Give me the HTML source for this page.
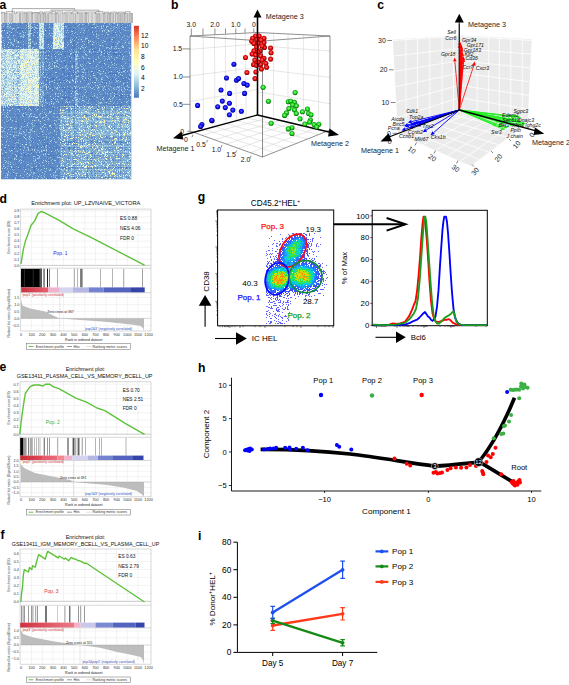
<!DOCTYPE html>
<html><head><meta charset="utf-8"><style>
html,body{margin:0;padding:0;background:#fff;}
svg{display:block;}
text{font-family:"Liberation Sans",sans-serif;}
</style></head><body>
<svg width="569" height="685" viewBox="0 0 569 685">
<rect width="569" height="685" fill="#fff"/>
<defs>
<radialGradient id="sb" cx="0.48" cy="0.45" r="0.55"><stop offset="0" stop-color="#6868ff"/><stop offset="0.6" stop-color="#0808f4"/><stop offset="1" stop-color="#000078"/></radialGradient>
<radialGradient id="sr" cx="0.48" cy="0.45" r="0.55"><stop offset="0" stop-color="#ff7070"/><stop offset="0.6" stop-color="#e80000"/><stop offset="1" stop-color="#700000"/></radialGradient>
<radialGradient id="sg" cx="0.48" cy="0.45" r="0.55"><stop offset="0" stop-color="#90ff90"/><stop offset="0.6" stop-color="#10d010"/><stop offset="1" stop-color="#005800"/></radialGradient>
</defs>
<text x="-0.40" y="8.60" font-size="12.2" text-anchor="start" fill="#000" font-weight="bold">a</text>
<defs><filter id="hb" x="0" y="0" width="1" height="1"><feGaussianBlur stdDeviation="0.45"/></filter><clipPath id="hc"><rect x="1" y="22.5" width="130.3" height="156.8"/></clipPath></defs>
<g clip-path="url(#hc)"><g filter="url(#hb)">
<rect x="-1.0" y="20.5" width="134.30" height="160.80" fill="rgb(91, 137, 197)"/>
<g shape-rendering="crispEdges" stroke-width="0.999" fill="none">
<path stroke="rgb(70, 116, 189)" d="M25.06 23h1M20.04 24h1m65.2 0h1m18 0h1m6.01 0h1M5.009 25h1m21 0h1m24.1 0h1m11 0h1m37.1 0h1m25.1 0h1M18.04 26h1m14 0h1m3.01 0h1m9.02 0h1m21 0h2m3.01 0h2m4.01 0h1m7.02 0h1m2 0h3.01m1 0h1m25.1 0h1M44.1 26.99h1m60.1 0h1m10 0h1m4.01 0h1m5.01 0h1M97.22 27.99h1m7.02 0h1m14 0h1M2.002 29.99h6.01m1 0h1m3.01 0h1m3.01 0h7.02m3.01 0h1m3.01 0h2m2 0h4.01m7.02 0h5.01m13 0h1m1 0h1m2 0h2m2 0h2m11 0h2m3.01 0h2m2 0h1m1 0h1m4.01 0h1m9.02 0h1m2 0h1m4.01 0h1M13.03 30.99h1m3.01 0h1M5.009 31.99h1m13 0h1m12 0h1m16 0h1m18 0h1m21 0h2m2 0h1m25.1 0h1M18.04 32.99h1m12 0h1m13 0h1m45.1 0h1m5.01 0h1M4.007 33.99h1m7.02 0h1m4.01 0h1m16 0h1m33.1 0h1m1 0h1m2 0h1m18 0h1m1 0h2m17 0h2m1 0h1m12 0h1M7.014 34.98h1m3.01 0h1m23.1 0h1m9.02 0h1m1 0h1m3.01 0h1m14 0h1m2 0h1m4.01 0h1m10 0h1m42.1 0h1M17.04 35.98h1m13 0h1m6.01 0h1m38.1 0h1m2 0h1m9.02 0h1m12 0h1m2 0h1m5.01 0h1m5.01 0h1M27.06 36.98h1m41.1 0h1m35.1 0h1M36.08 37.98h1m81.2 0h1M18.04 38.98h1m47.1 0h1m1 0h2m20 0h1m22.1 0h1m1 0h1m14 0h1M17.04 39.98h1m1 0h1m1 0h1m12 0h1m9.02 0h1m2 0h2m1 0h1m13 0h1m3.01 0h1m4.01 0h2m1 0h1m17 0h1m2 0h1m11 0h1m3.01 0h1M18.04 40.98h1m8.02 0h1m19 0h1m2 0h1m1 0h1m34.1 0h1m21 0h1M19.04 41.98h1m28.1 0h1m15 0h1m22.1 0h1m9.02 0h1m8.02 0h1M47.11 42.97h1m25.1 0h2m12 0h1m2 0h1m14 0h1M5.009 43.97h1m32.1 0h1m34.1 0h1m13 0h1m9.02 0h1m15 0h1M6.012 44.97h1m67.2 0h1m38.1 0h1m6.01 0h1M8.016 45.97h1m6.01 0h1m4.01 0h1m3.01 0h1m6.01 0h3.01m10 0h1m7.02 0h1m11 0h1m3.01 0h1m4.01 0h1m3.01 0h1m9.02 0h1m10 0h1m5.01 0h1m7.02 0h2m7.02 0h1M11.02 46.97h1m12 0h1m40.1 0h1m19 0h1m5.01 0h1m16 0h2M18.04 47.97h1m54.1 0h2m16 0h1m2 0h1m26.1 0h1M13.03 48.97h1m13 0h1M46.1 49.96h1m1 0h1m25.1 0h1m19 0h1m2 0h1M41.09 50.96h1m2 0h2m3.01 0h3.01m1 0h1m2 0h1m3.01 0h1m1 0h2m1 0h2m1 0h1m4.01 0h1m5.01 0h2m4.01 0h1m1 0h1m3.01 0h2m1 0h2m7.02 0h1m2 0h1m1 0h1m1 0h1m1 0h5.01m1 0h1m1 0h1M73.17 51.96h1M65.15 52.96h1m19 0h1m17 0h1m6.01 0h1M47.11 53.96h1m1 0h1m2 0h2m6.01 0h1m3.01 0h1m4.01 0h1m3.01 0h2m6.01 0h1m2 0h1m7.02 0h4.01m1 0h1m1 0h1m5.01 0h2m1 0h1m4.01 0h2m1 0h1m1 0h1m1 0h1m3.01 0h1M44.1 54.96h2m1 0h1m2 0h1m4.01 0h1m6.01 0h1m1 0h2m2 0h2m3.01 0h2m15 0h2m13 0h2m6.01 0h4.01m3.01 0h1m4.01 0h1M47.11 55.96h1m6.01 0h1m5.01 0h1m13 0h1m22.1 0h1m7.02 0h1m10 0h1m4.01 0h1M65.15 56.96h1m8.02 0h1m19 0h1M48.11 57.95h1m21 0h1M69.16 58.95h1M53.12 59.95h2m8.02 0h1m6.01 0h1m3.01 0h1m4.01 0h1m7.02 0h1m6.01 0h1m2 0h1m14 0h2M39.09 60.95h1m5.01 0h1m23.1 0h1m14 0h1m2 0h1m3.01 0h2m1 0h1m13 0h2m8.02 0h1m1 0h2m5.01 0h1M64.15 62.95h1m3.01 0h1m5.01 0h1m5.01 0h1m3.01 0h2m16 0h1m10 0h1m2 0h1m1 0h1m1 0h1m8.02 0h1M53.12 63.95h1m6.01 0h1m4.01 0h1m7.02 0h2m34.1 0h1m3.01 0h1M47.11 64.95h1m5.01 0h1m3.01 0h1m6.01 0h2m2 0h1m1 0h1m2 0h2m12 0h1m2 0h2m7.02 0h2m2 0h1m17 0h1M39.09 65.94h1m7.02 0h1m25.1 0h1m20 0h1M114.3 66.94h1M74.17 67.94h1M41.09 68.94h1m38.1 0h1m19 0h1m3.01 0h1M53.12 69.94h1m9.02 0h2m4.01 0h1m29.1 0h1m5.01 0h1m3.01 0h1m11 0h1M62.14 70.94h3.01m3.01 0h1m1 0h1m3.01 0h1m11 0h2m4.01 0h2m1 0h1m1 0h1m11 0h1m1 0h1m4.01 0h1m4.01 0h1m4.01 0h1M39.09 71.94h1m4.01 0h1m2 0h1m10 0h1m28.1 0h1m9.02 0h1m7.02 0h2m11 0h1m6.01 0h1M62.14 72.94h1m6.01 0h1m4.01 0h1m17 0h1M41.09 73.93h1m2 0h2m1 0h1m4.01 0h1m3.01 0h1m1 0h1m2 0h1m2 0h1m3.01 0h1m3.01 0h3.01m3.01 0h1m2 0h2m4.01 0h1m3.01 0h2m4.01 0h1m11 0h2m1 0h6.01m4.01 0h1m4.01 0h1M44.1 74.93h1m3.01 0h1m1 0h1m13 0h1m2 0h3.01m3.01 0h1m3.01 0h1m27.1 0h1m6.01 0h1M47.11 75.93h1m18 0h1m7.02 0h1m16 0h1m5.01 0h1m16 0h1M41.09 76.93h1m18 0h1m1 0h1m6.01 0h1m4.01 0h1m22.1 0h1m22.1 0h1M60.14 77.93h1m4.01 0h1m8.02 0h1m14 0h1m31.1 0h1m7.02 0h1M47.11 78.93h1m4.01 0h3.01m11 0h1m1 0h2m11 0h1m5.01 0h1m18 0h2m4.01 0h1m1 0h1m10 0h1M42.09 79.93h1m2 0h1m1 0h1m1 0h2m1 0h2m9.02 0h2m3.01 0h1m4.01 0h1m11 0h1m1 0h1m3.01 0h1m1 0h2m13 0h2m2 0h1m3.01 0h1m1 0h1m3.01 0h3.01m2 0h1M56.13 80.93h1m17 0h1m53.1 0h1M44.1 81.92h1m2 0h2m4.01 0h2m2 0h1m1 0h2m1 0h1m1 0h2m1 0h1m6.01 0h1m7.02 0h1m3.01 0h1m4.01 0h1m2 0h2m7.02 0h3.01m2 0h1m1 0h1m2 0h1m7.02 0h1m1 0h3.01M52.12 82.92h1M47.11 83.92h1m4.01 0h1m38.1 0h2m8.02 0h1m3.01 0h1M44.1 84.92h1m3.01 0h1m19 0h1m5.01 0h1m15 0h1m13 0h1m20 0h1M51.12 85.92h2m8.02 0h1m32.1 0h1m16 0h1m1 0h1m2 0h1m3.01 0h1M47.11 86.92h1m5.01 0h1m37.1 0h1m38.1 0h1M41.09 88.92h1m2 0h1m2 0h2m3.01 0h2m8.02 0h2m1 0h1m2 0h2m3.01 0h2m3.01 0h1m17 0h1m4.01 0h1m4.01 0h1m19 0h1m2 0h1M47.11 89.91h1m5.01 0h1m10 0h1m5.01 0h1m2 0h2M51.12 90.91h1m12 0h1m3.01 0h1m11 0h1m19 0h1m12 0h1m2 0h1m3.01 0h1M120.3 91.91h1M51.12 92.91h1m1 0h1m6.01 0h1m5.01 0h1m1 0h2m3.01 0h1m12 0h1m5.01 0h1m1 0h1m8.02 0h1m5.01 0h1m5.01 0h2m10 0h1M87.2 94.91h1M47.11 95.91h1m16 0h1m9.02 0h1m4.01 0h1m23.1 0h1m2 0h1m8.02 0h3.01m2 0h3.01m5.01 0h1M68.15 96.91h1M44.1 97.9h1m2 0h1m8.02 0h1m5.01 0h5.01m1 0h2m3.01 0h1m16 0h2m2 0h1m19 0h1m5.01 0h2m4.01 0h1m1 0h1M44.1 98.9h1m7.02 0h1m11 0h1m4.01 0h1m22.1 0h1m36.1 0h1M97.22 99.9h1M44.1 100.9h1m1 0h2m1 0h1m3.01 0h2m13 0h2m4.01 0h1m12 0h1m3.01 0h2m1 0h1m4.01 0h1m6.01 0h2m5.01 0h1m2 0h1m6.01 0h1m3.01 0h1M62.14 102.9h1M74.17 103.9h1m22.1 0h1M47.11 104.9h1m18 0h1m2 0h1m3.01 0h2m12 0h1m1 0h1m13 0h1m2 0h1m6.01 0h1m4.01 0h1m1 0h1m8.02 0h1M43.1 105.9h1m3.01 0h1m3.01 0h1m6.01 0h1m6.01 0h1m2 0h1m4.01 0h2m16 0h2m12 0h1m6.01 0h1m1 0h1m5.01 0h1M4.007 106.9h1m13 0h2m11 0h1m17 0h1m1 0h1M6.012 107.9h1m4.01 0h1m6.01 0h2m10 0h1m2 0h1m4.01 0h1m2 0h1m5.01 0h1m5.01 0h1m5.01 0h1m4.01 0h1m9.02 0h1m2 0h1m19 0h1m7.02 0h1m20 0h1M4.007 108.9h1m15 0h1m6.01 0h1m3.01 0h1m5.01 0h1m15 0h1M33.07 109.9h1m19 0h1m20 0h1m19 0h2m9.02 0h1M34.08 110.9h1M18.04 111.9h1m2 0h1m3.01 0h1m17 0h1m4.01 0h1m3.01 0h1M6.012 114.9h1m17 0h1m12 0h1M3.005 115.9h1m5.01 0h1m3.01 0h1m3.01 0h2m5.01 0h1m8.02 0h1m7.02 0h1m2 0h1M9.018 118.9h1m2 0h1m1 0h1m3.01 0h1m12 0h1m6.01 0h1m1 0h1m3.01 0h1m2 0h1m2 0h1M17.04 121.9h1m5.01 0h1M5.009 122.9h1m2 0h1m4.01 0h1m10 0h2m24.1 0h1M3.005 123.9h1m14 0h1m17 0h1M18.04 124.9h1m17 0h2m1 0h1m3.01 0h1m5.01 0h1M24.05 125.9h1m19 0h1M18.04 126.9h1m19 0h1m8.02 0h1m4.01 0h1M7.014 128.9h2m9.02 0h1m4.01 0h1m2 0h1m6.01 0h1m14 0h1m65.2 0h1M17.04 129.9h1M5.009 130.9h1m3.01 0h1m3.01 0h1m14 0h1M1 133.9h1m11 0h1m24.1 0h1m2 0h1M39.09 134.9h1m1 0h1M38.09 135.9h1m5.01 0h1m3.01 0h1m4.01 0h1M15.03 136.9h1m90.2 0h1M20.04 137.9h1m4.01 0h1m11 0h2M1 138.9h1m1 0h2m6.01 0h1m5.01 0h1m9.02 0h1m3.01 0h1m2 0h1m4.01 0h1m2 0h1m2 0h1m4.01 0h1M10.02 139.9h1m2 0h1m10 0h1m16 0h1m5.01 0h1M53.12 140.8h1M3.005 141.8h1m11 0h1m1 0h1m14 0h1m11 0h1m23.1 0h1m4.01 0h2m16 0h1m37.1 0h1M5.009 142.8h1m13 0h1m12 0h1m4.01 0h1m14 0h1m1 0h1m6.01 0h2m6.01 0h2m3.01 0h1m1 0h1m23.1 0h1m11 0h1m3.01 0h1m4.01 0h1m3.01 0h1M22.05 143.8h1m21 0h1m2 0h1M14.03 144.8h1m3.01 0h1m28.1 0h1m5.01 0h1m20 0h1m7.02 0h1M18.04 145.8h1m24.1 0h2m5.01 0h1M4.007 146.8h1m1 0h1m11 0h1m10 0h1m7.02 0h1m3.01 0h1m2 0h1M1 147.8h1m7.02 0h1m1 0h4.01m2 0h1m1 0h3.01m8.02 0h2m1 0h1m2 0h2m1 0h1m4.01 0h1m2 0h1m2 0h1m2 0h1m2 0h1m12 0h1m4.01 0h1m16 0h1m28.1 0h1M6.012 148.8h1m22.1 0h1m38.1 0h2M4.007 149.8h2m4.01 0h1m1 0h1m20 0h1m17 0h1m1 0h1m30.1 0h1m24.1 0h1M13.03 150.8h1M31.07 151.8h1m98.2 0h1M29.06 152.8h1m14 0h2m1 0h1m3.01 0h1M15.03 153.8h2m16 0h1m4.01 0h1m30.1 0h1m21 0h1M5.009 154.8h1m12 0h1m5.01 0h1m6.01 0h1m1 0h1m4.01 0h1M1 155.8h1m3.01 0h1m6.01 0h2m4.01 0h1m5.01 0h3.01m1 0h1m5.01 0h1m1 0h1m10 0h2m1 0h2m1 0h1M3.005 156.8h1m14 0h1M13.03 157.8h1m20 0h1m18 0h1m33.1 0h1M20.04 158.8h1m11 0h1m14 0h1m26.1 0h1M5.009 159.8h1m5.01 0h1m11 0h1M17.04 160.8h2m18 0h1m4.01 0h1m5.01 0h2m2 0h1M5.009 161.8h1m16 0h1M16.03 162.8h1M27.06 163.8h1m19 0h1m11 0h1M1 164.8h1m16 0h1M39.09 165.8h1m33.1 0h1M24.05 166.8h1m12 0h1M10.02 167.8h1m2 0h1m6.01 0h1m6.01 0h1m1 0h1m3.01 0h1m2 0h1m1 0h1m11 0h1m1 0h1m10 0h1m1 0h1m6.01 0h1m9.02 0h1m35.1 0h1m2 0h1m4.01 0h1M3.005 168.8h1m9.02 0h2m3.01 0h2m4.01 0h1m8.02 0h3.01m5.01 0h1m11 0h1m11 0h1m25.1 0h1m5.01 0h1m27.1 0h1M34.08 169.8h1M34.08 170.8h1m56.1 0h1M6.012 171.8h1m6.01 0h1m20 0h1m2 0h1m15 0h1m33.1 0h1m11 0h1M44.1 172.8h1M13.03 173.8h1M4.007 174.8h2m7.02 0h1m4.01 0h1m8.02 0h1m7.02 0h1m1 0h2m4.01 0h1M17.04 175.8h1M23.05 176.8h1M17.04 177.8h2m12 0h1m4.01 0h1m10 0h1m2 0h1m5.01 0h1m1 0h1m3.01 0h1m1 0h1m9.02 0h1m30.1 0h1M5.009 178.8h1m6.01 0h1m5.01 0h1m3.01 0h1m6.01 0h1m9.02 0h1m7.02 0h2m1 0h1m2 0h1"/>
<path stroke="rgb(119, 165, 208)" d="M16.03 23h1m12 0h2m22.1 0h1m17 0h1m9.02 0h1m17 0h1m17 0h1m6.01 0h2m1 0h1M2.002 24h1m1 0h1m24.1 0h1m53.1 0h1m4.01 0h1m3.01 0h1m3.01 0h1m14 0h1m7.02 0h1M1 25h1m2 0h1m12 0h1m27.1 0h1m42.1 0h1m12 0h1M1 26h1m47.1 0h1m11 0h1m46.1 0h1m2 0h1M10.02 26.99h1m29.1 0h1m19 0h1m11 0h1m21 0h1m1 0h1m1 0h1m20 0h1m2 0h1M7.014 27.99h1m9.02 0h1m10 0h1m4.01 0h1m2 0h1m29.1 0h1m11 0h1m5.01 0h1m6.01 0h1m23.1 0h1m2 0h1m8.02 0h1M7.014 28.99h6.01m1 0h1m1 0h1m4.01 0h1m1 0h1m1 0h1m9.02 0h1m9.02 0h1m2 0h1m1 0h3.01m13 0h1m8.02 0h1m3.01 0h1m2 0h2m1 0h1m7.02 0h1m1 0h2m1 0h1m3.01 0h1m8.02 0h1m2 0h1m2 0h1m1 0h1m2 0h1M1 29.99h1m14 0h1m11 0h1m15 0h1m7.02 0h1m50.1 0h1m3.01 0h1m13 0h1M6.012 30.99h3.01m6.01 0h1m6.01 0h1m3.01 0h1m8.02 0h1m10 0h1m18 0h1m5.01 0h1m6.01 0h1m2 0h1m1 0h1m4.01 0h1m7.02 0h1m2 0h1m7.02 0h1m2 0h2m4.01 0h1m2 0h1m4.01 0h1m2 0h2m1 0h1M95.22 31.99h2m7.02 0h1m6.01 0h1m7.02 0h1m10 0h1M30.07 32.99h1m80.2 0h1M5.009 33.99h1m27.1 0h1m49.1 0h1m37.1 0h1M46.1 34.98h1m1 0h1m22.1 0h1M6.012 35.98h1m2 0h1m5.01 0h1m5.01 0h1m1 0h1m18 0h1m8.02 0h1m21 0h1m31.1 0h1m10 0h1M8.016 36.98h1m4.01 0h1m11 0h1m4.01 0h1m15 0h1m17 0h1m14 0h1m2 0h1m4.01 0h1m16 0h1m19 0h1M3.005 37.98h1m25.1 0h2m40.1 0h1m10 0h1m2 0h1m10 0h1m10 0h1m2 0h1m6.01 0h1m1 0h1m8.02 0h1M13.03 38.98h1m2 0h1m10 0h1m1 0h2m39.1 0h1m26.1 0h1m8.02 0h1m18 0h1M63.14 39.98h1m6.01 0h1m4.01 0h1m4.01 0h1M10.02 40.98h1m15 0h1m3.01 0h1m59.1 0h1m10 0h1m22.1 0h2M28.06 41.98h1m66.2 0h1m23.1 0h1M3.005 42.97h1m29.1 0h1m2 0h1m15 0h1m25.1 0h1m17 0h1m1 0h1m13 0h1m2 0h1m1 0h1m1 0h1m8.02 0h1M26.06 43.97h1m2 0h1m4.01 0h2m24.1 0h1m22.1 0h1m4.01 0h1m7.02 0h1m9.02 0h1m15 0h1m1 0h1m5.01 0h1M28.06 44.97h3.01m10 0h1m51.1 0h1m4.01 0h1m17 0h2M39.09 45.97h1m1 0h1m36.1 0h1m47.1 0h1M23.05 46.97h1m26.1 0h1m26.1 0h1m25.1 0h1m8.02 0h1m9.02 0h1M30.07 47.97h1m1 0h1m14 0h1m30.1 0h1m16 0h1m19 0h1m12 0h2M26.06 48.97h1m17 0h1m7.02 0h1m23.1 0h1m1 0h1m4.01 0h1m9.02 0h1m25.1 0h2M42.09 49.96h2m8.02 0h1m22.1 0h2m3.01 0h1m3.01 0h1m3.01 0h1m21 0h1m4.01 0h1M18.04 50.96h1m14 0h1m12 0h1m29.1 0h1m44.1 0h1m6.01 0h1M17.04 51.96h1m21 0h4.01m3.01 0h1m8.02 0h1m1 0h2m6.01 0h1m1 0h1m2 0h3.01m2 0h1m1 0h2m4.01 0h1m1 0h2m3.01 0h1m4.01 0h1m2 0h2m7.02 0h1m9.02 0h1m7.02 0h2m2 0h1M4.007 52.96h2m10 0h1m22.1 0h1m1 0h2m13 0h2m17 0h1m7.02 0h1m6.01 0h1m26.1 0h1m6.01 0h1M15.03 53.96h1m23.1 0h2m2 0h1m7.02 0h1m3.01 0h1m3.01 0h1m15 0h1M13.03 54.96h1m5.01 0h1m20 0h1m10 0h1m24.1 0h1m20 0h1m11 0h1m20 0h1M12.03 55.96h1m29.1 0h2m24.1 0h1m7.02 0h1m10 0h1m29.1 0h1m7.02 0h1M39.09 56.96h2m1 0h2m1 0h1m21 0h1m7.02 0h1m2 0h1m4.01 0h1m9.02 0h1m4.01 0h1m4.01 0h1m21 0h1m1 0h1M2.002 57.95h1m15 0h1m20 0h1m1 0h2m17 0h1m14 0h2m34.1 0h1m5.01 0h1m4.01 0h1m6.01 0h1M42.09 58.95h1m14 0h1m1 0h1m11 0h2m5.01 0h1m2 0h1m1 0h4.01m6.01 0h1m4.01 0h2m2 0h1m2 0h1m2 0h2m2 0h1m1 0h1m2 0h1m4.01 0h3.01m4.01 0h1M3.005 59.95h1m2 0h1m6.01 0h1m26.1 0h1m1 0h2m8.02 0h1m24.1 0h1m27.1 0h1m20 0h1M29.06 60.95h1m11 0h2m20 0h1m11 0h2m2 0h1M41.09 61.95h3.01m12 0h1m19 0h2m9.02 0h1m36.1 0h1M17.04 62.95h1m21 0h1m3.01 0h1m3.01 0h1m19 0h1m8.02 0h2m5.01 0h1m14 0h1m27.1 0h1M1 63.95h1m40.1 0h1m7.02 0h1m35.1 0h1m42.1 0h1M12.03 64.95h1m4.01 0h2m20 0h2m1 0h1m16 0h1m15 0h1m1 0h1m30.1 0h1m20 0h1M41.09 65.94h3.01m2 0h1m2 0h1m6.01 0h1m18 0h3.01m5.01 0h1m1 0h1m5.01 0h1m6.01 0h1m12 0h1m11 0h1M46.1 66.94h1m10 0h1m18 0h1m5.01 0h1M39.09 67.94h1m2 0h1m11 0h2m1 0h1m7.02 0h2m8.02 0h2m6.01 0h1m6.01 0h1m2 0h1m1 0h1m27.1 0h1m4.01 0h1M12.03 68.94h1m27.1 0h1m1 0h1m2 0h1m4.01 0h1m13 0h1m10 0h1m1 0h2m7.02 0h1m5.01 0h1m5.01 0h2m2 0h1m12 0h1m3.01 0h2m2 0h2M2.002 69.94h2m1 0h1m37.1 0h1m2 0h1m12 0h1m15 0h1m6.01 0h1m13 0h1m17 0h1m1 0h1M9.018 70.94h1m4.01 0h1m24.1 0h2m2 0h1m1 0h1m60.1 0h1M3.005 71.94h1m9.02 0h1m28.1 0h2m31.1 0h3.01m4.01 0h1m5.01 0h1m20 0h1M1 72.94h1m39.1 0h1m3.01 0h1m1 0h1m28.1 0h1m1 0h1m9.02 0h1m9.02 0h1m6.01 0h1m16 0h1m2 0h1m4.01 0h1M14.03 73.93h2m23.1 0h2m18 0h1m2 0h1m12 0h2M14.03 74.93h1m25.1 0h1m1 0h1m4.01 0h1m27.1 0h1m13 0h1M3.005 75.93h2m13 0h1m20 0h4.01m12 0h1m20 0h1m4.01 0h1m6.01 0h1m23.1 0h1M6.012 76.93h1m35.1 0h2m13 0h1m17 0h1m31.1 0h1m1 0h1M5.009 77.93h1m34.1 0h2m1 0h1m31.1 0h2m4.01 0h1M17.04 78.93h1m23.1 0h1m33.1 0h1m21 0h1M13.03 79.93h1m25.1 0h1m1 0h1m12 0h1m10 0h2m9.02 0h1m5.01 0h1m27.1 0h1M39.09 80.93h1m1 0h1m15 0h1m5.01 0h2m10 0h2m13 0h1m7.02 0h1m5.01 0h1M17.04 81.92h2m21 0h1m1 0h2m24.1 0h1M13.03 82.92h1m25.1 0h5.01m9.02 0h1m9.02 0h1m6.01 0h1m9.02 0h1m9.02 0h1m7.02 0h2m4.01 0h1m1 0h1m3.01 0h2m3.01 0h1m1 0h1m1 0h1m3.01 0h3.01M16.03 83.92h1m5.01 0h1m15 0h1m3.01 0h1m21 0h1m10 0h2m13 0h1M5.009 84.92h1m33.1 0h2m2 0h1m44.1 0h1m2 0h1M41.09 85.92h1m1 0h1m9.02 0h1m6.01 0h1m15 0h1m2 0h1M4.007 86.92h1m35.1 0h1m2 0h1m1 0h1m8.02 0h1m15 0h1m4.01 0h1m2 0h1m22.1 0h1m24.1 0h1M41.09 87.92h3.01m4.01 0h1m5.01 0h2m5.01 0h1m9.02 0h2m3.01 0h2m1 0h3.01m1 0h3.01m2 0h1m7.02 0h1m2 0h1m3.01 0h2m6.01 0h1m1 0h2m1 0h2m1 0h1m3.01 0h2M17.04 88.92h1m15 0h1m5.01 0h2m1 0h1m11 0h1m43.1 0h1m17 0h1m2 0h1M39.09 89.91h1m2 0h1m19 0h1m5.01 0h1m8.02 0h1m5.01 0h2m34.1 0h1m4.01 0h1M1 90.91h1m7.02 0h1m8.02 0h1m20 0h1m2 0h2m3.01 0h1m13 0h1m9.02 0h1m39.1 0h1m7.02 0h1m10 0h1M40.09 91.91h1m2 0h1m23.1 0h1m9.02 0h1m22.1 0h1m7.02 0h1m10 0h1m3.01 0h1M1 92.91h1m11 0h1m26.1 0h1m9.02 0h1m3.01 0h1m20 0h2m41.1 0h1M41.09 93.91h1m4.01 0h1m1 0h1m8.02 0h1m8.02 0h1m12 0h1m22.1 0h1m2 0h1m11 0h1m5.01 0h1M3.005 94.91h1m14 0h1m20 0h1m3.01 0h2m7.02 0h1m10 0h1m12 0h1m3.01 0h1m2 0h1m16 0h2m5.01 0h1m3.01 0h1m3.01 0h1m1 0h1M17.04 95.91h1m22.1 0h3.01m17 0h1m6.01 0h1m8.02 0h1m33.1 0h1M40.09 96.91h1m1 0h1m27.1 0h2m3.01 0h1m1 0h1m2 0h1m2 0h1m2 0h1m9.02 0h1m2 0h1m10 0h2m12 0h1M40.09 97.9h1m1 0h2m32.1 0h2m18 0h1m19 0h1M17.04 98.9h1m21 0h1m1 0h2m30.1 0h5.01m11 0h1m7.02 0h1m30.1 0h1M42.09 99.9h2m16 0h1m14 0h1m3.01 0h2m5.01 0h1m2 0h1m8.02 0h1m17 0h1m3.01 0h1m5.01 0h1m3.01 0h1M4.007 100.9h1m7.02 0h1m27.1 0h1m1 0h1m22.1 0h1m30.1 0h1m5.01 0h1M39.09 101.9h1m3.01 0h1m2 0h1m5.01 0h1m4.01 0h1m13 0h1m7.02 0h1m1 0h1m6.01 0h1m18 0h1m3.01 0h1m2 0h1m2 0h1m6.01 0h1m1 0h1m3.01 0h1M40.09 102.9h1m2 0h1m2 0h1m7.02 0h1m15 0h1m5.01 0h2m1 0h1m3.01 0h1m2 0h1m2 0h1m7.02 0h1m1 0h1m4.01 0h2m8.02 0h1M39.09 103.9h2m2 0h1m2 0h1m7.02 0h1m20 0h1m1 0h1m3.01 0h1m8.02 0h1m8.02 0h1m2 0h1m6.01 0h2m16 0h1M6.012 104.9h1m33.1 0h1m36.1 0h1m34.1 0h1m13 0h1M11.02 105.9h1m1 0h1m26.1 0h2m28.1 0h1m1 0h1m2 0h1m27.1 0h1M39.09 106.9h1m21 0h1m1 0h1m1 0h1m16 0h2m2 0h1m4.01 0h1m1 0h4.01m3.01 0h4.01m1 0h2m5.01 0h1m1 0h2m1 0h1m3.01 0h1m2 0h1m1 0h1M60.14 107.9h1m6.01 0h1m8.02 0h1m5.01 0h3.01m1 0h1m2 0h2m1 0h2m1 0h2m1 0h2m1 0h1m4.01 0h3.01m1 0h2m2 0h1m4.01 0h1m3.01 0h1m1 0h1m2 0h1M38.09 108.9h1m18 0h1m2 0h4.01m1 0h1m3.01 0h1m3.01 0h2m1 0h2m3.01 0h3.01m8.02 0h1m2 0h3.01m1 0h3.01m3.01 0h2m1 0h3.01m3.01 0h4.01m2 0h1m1 0h1m2 0h1m3.01 0h1M7.014 109.9h1m6.01 0h1m4.01 0h1m2 0h1m19 0h1m1 0h1m17 0h5.01m6.01 0h1m2 0h7.02m2 0h2m1 0h1m1 0h2m1 0h1m2 0h1m2 0h2m3.01 0h1m1 0h1m1 0h1m1 0h1m4.01 0h4.01m1 0h1m1 0h8.02M28.06 110.9h1m25.1 0h1m4.01 0h1m7.02 0h1m2 0h4.01m2 0h1m1 0h1m1 0h1m4.01 0h3.01m1 0h1m1 0h2m3.01 0h4.01m1 0h3.01m1 0h3.01m1 0h1m4.01 0h1m1 0h1m2 0h1m3.01 0h1m1 0h2M9.018 111.9h1m5.01 0h1m34.1 0h1m6.01 0h1m2 0h4.01m1 0h1m6.01 0h3.01m3.01 0h3.01m1 0h2m3.01 0h1m1 0h2m2 0h3.01m4.01 0h3.01m1 0h2m3.01 0h1m3.01 0h1m1 0h1m2 0h2m2 0h1m4.01 0h1m1 0h1M28.06 112.9h1m37.1 0h2m1 0h2m2 0h2m3.01 0h1m1 0h1m9.02 0h1m1 0h1m1 0h2m1 0h1m3.01 0h2m2 0h1m3.01 0h1m3.01 0h1m1 0h1m1 0h1m2 0h1m2 0h1m6.01 0h1M6.012 113.9h3.01m5.01 0h1m3.01 0h1m2 0h1m3.01 0h1m4.01 0h1m11 0h1m3.01 0h1m9.02 0h2m4.01 0h1m1 0h1m1 0h1m6.01 0h2m15 0h2m5.01 0h1m7.02 0h1m3.01 0h1m6.01 0h1m4.01 0h1m3.01 0h1M15.03 114.9h1m6.01 0h1m4.01 0h2m11 0h1m19 0h6.01m4.01 0h1m4.01 0h1m2 0h1m1 0h1m1 0h2m3.01 0h2m2 0h1m3.01 0h1m1 0h3.01m1 0h1m1 0h1m1 0h1m1 0h3.01m2 0h1m2 0h7.02m3.01 0h2m1 0h1M8.016 115.9h1m30.1 0h1m20 0h2m1 0h1m2 0h3.01m1 0h1m1 0h2m1 0h1m1 0h5.01m3.01 0h1m2 0h1m1 0h1m2 0h1m1 0h1m3.01 0h2m3.01 0h1m2 0h1m2 0h2m1 0h1m2 0h2m1 0h1m2 0h2m4.01 0h2M9.018 116.9h1m4.01 0h1m7.02 0h1m14 0h1m2 0h1m16 0h1m2 0h1m5.01 0h1m2 0h3.01m3.01 0h4.01m1 0h3.01m2 0h1m1 0h1m3.01 0h2m1 0h1m8.02 0h1m1 0h2m1 0h1m3.01 0h1m1 0h2m3.01 0h1m1 0h2m2 0h2m3.01 0h1M4.007 117.9h2m3.01 0h2m1 0h1m1 0h1m1 0h1m3.01 0h1m6.01 0h3.01m10 0h1m1 0h1m1 0h1m1 0h2m6.01 0h1m1 0h1m1 0h1m14 0h1m17 0h1m20 0h2m4.01 0h1M45.1 118.9h1m14 0h2m1 0h1m2 0h1m2 0h1m1 0h2m2 0h2m2 0h3.01m1 0h2m2 0h1m1 0h1m4.01 0h2m1 0h2m1 0h5.01m1 0h4.01m1 0h1m1 0h3.01m5.01 0h1m2 0h1M6.012 119.9h1m9.02 0h1m7.02 0h1m3.01 0h1m19 0h2m10 0h6.01m2 0h2m3.01 0h2m1 0h2m1 0h2m4.01 0h1m1 0h1m2 0h3.01m1 0h1m1 0h1m1 0h3.01m4.01 0h3.01m1 0h2m1 0h1m2 0h2m2 0h4.01m4.01 0h2m1 0h1M2.002 120.9h1m32.1 0h2m11 0h1m6.01 0h2m5.01 0h3.01m1 0h1m2 0h1m3.01 0h2m17 0h1m1 0h1m2 0h1m4.01 0h1m16 0h4.01m6.01 0h1M7.014 121.9h1m4.01 0h1m26.1 0h1m11 0h1m8.02 0h1m1 0h1m1 0h1m3.01 0h1m1 0h1m2 0h2m2 0h1m2 0h1m12 0h1m12 0h1m6.01 0h1m4.01 0h1m1 0h2m4.01 0h2M28.06 122.9h1m33.1 0h1m1 0h3.01m1 0h2m3.01 0h1m4.01 0h1m1 0h1m2 0h1m1 0h1m1 0h4.01m2 0h1m3.01 0h2m3.01 0h1m2 0h1m1 0h8.02m1 0h1m1 0h2m7.02 0h1m1 0h2M4.007 123.9h1m17 0h1m6.01 0h1m5.01 0h1m7.02 0h1m14 0h1m1 0h1m1 0h2m1 0h2m1 0h1m3.01 0h1m1 0h1m8.02 0h1m1 0h1m3.01 0h1m1 0h1m1 0h5.01m4.01 0h2m4.01 0h2m6.01 0h1m3.01 0h3.01m1 0h3.01M57.13 124.9h1m2 0h1m1 0h1m1 0h2m3.01 0h4.01m1 0h1m1 0h3.01m1 0h2m1 0h3.01m1 0h1m5.01 0h1m1 0h4.01m2 0h1m1 0h1m4.01 0h2m1 0h7.02m1 0h2m3.01 0h1m1 0h1m2 0h2M4.007 125.9h1m21 0h1m28.1 0h2m5.01 0h1m3.01 0h1m1 0h2m3.01 0h3.01m1 0h2m1 0h1m3.01 0h1m1 0h1m2 0h1m4.01 0h1m2 0h1m2 0h1m4.01 0h1m2 0h1m2 0h2m1 0h1m1 0h1m3.01 0h2M60.14 126.9h1m1 0h1m2 0h2m1 0h2m2 0h1m4.01 0h1m1 0h1m4.01 0h2m7.02 0h3.01m1 0h1m1 0h1m2 0h2m3.01 0h1m2 0h1m1 0h1m1 0h2m3.01 0h2m8.02 0h2M5.009 127.9h1m1 0h1m1 0h1m2 0h1m2 0h2m4.01 0h1m1 0h1m2 0h1m1 0h1m11 0h1m1 0h1m3.01 0h1m8.02 0h3.01m2 0h1m3.01 0h3.01m7.02 0h1m1 0h1m5.01 0h1m8.02 0h1m1 0h1m3.01 0h2m1 0h2m5.01 0h1m4.01 0h3.01m1 0h1m3.01 0h1m7.02 0h1m1 0h1M19.04 128.9h1m21 0h1m18 0h1m1 0h1m1 0h1m1 0h2m5.01 0h1m2 0h2m2 0h1m1 0h3.01m1 0h1m3.01 0h1m2 0h1m1 0h1m1 0h1m1 0h1m1 0h2m1 0h1m1 0h4.01m2 0h1m2 0h6.01m3.01 0h2m1 0h1M14.03 129.9h2m13 0h1m33.1 0h1m5.01 0h2m2 0h1m2 0h3.01m3.01 0h1m1 0h2m1 0h1m3.01 0h1m3.01 0h1m1 0h2m3.01 0h1m4.01 0h1m1 0h2m1 0h1m1 0h1m3.01 0h3.01m1 0h1m2 0h2M19.04 130.9h1m6.01 0h1m10 0h1m22.1 0h1m8.02 0h1m13 0h1m5.01 0h1m9.02 0h1m2 0h1m10 0h1m3.01 0h2m1 0h1m7.02 0h1M3.005 131.9h1m5.01 0h2m1 0h1m1 0h1m1 0h1m4.01 0h1m4.01 0h1m14 0h1m4.01 0h1m9.02 0h2m2 0h2m1 0h1m2 0h3.01m2 0h1m3.01 0h2m1 0h3.01m2 0h1m1 0h1m1 0h1m4.01 0h1m1 0h1m1 0h2m1 0h1m2 0h1m2 0h2m2 0h2m1 0h3.01m3.01 0h5.01m1 0h1m1 0h1m1 0h2M2.002 132.9h1m2 0h1m6.01 0h1m1 0h3.01m19 0h1m5.01 0h2m12 0h1m3.01 0h1m1 0h1m1 0h1m2 0h1m1 0h1m5.01 0h1m6.01 0h1m10 0h1m3.01 0h1m2 0h1m3.01 0h2m3.01 0h1m3.01 0h1m1 0h1m4.01 0h2m2 0h1m1 0h1M18.04 133.9h1m4.01 0h1m10 0h1m13 0h2m10 0h1m2 0h1m6.01 0h1m2 0h3.01m4.01 0h2m1 0h2m7.02 0h1m1 0h1m5.01 0h1m6.01 0h3.01m7.02 0h2m2 0h2m3.01 0h1m1 0h1M9.018 134.9h1m1 0h1m2 0h1m6.01 0h1m2 0h3.01m2 0h2m5.01 0h1m6.01 0h1m1 0h2m1 0h1m15 0h1m1 0h1m1 0h1m4.01 0h3.01m11 0h2m5.01 0h1m12 0h1m6.01 0h1m3.01 0h1M4.007 135.9h1m1 0h1m7.02 0h2m14 0h1m6.01 0h1m25.1 0h3.01m4.01 0h1m5.01 0h2m3.01 0h1m6.01 0h2m5.01 0h3.01m1 0h1m1 0h1m1 0h4.01m1 0h3.01m2 0h1m4.01 0h1m2 0h1m3.01 0h2M14.03 136.9h1m28.1 0h2m18 0h1m2 0h1m2 0h1m3.01 0h1m1 0h2m1 0h6.01m1 0h1m1 0h1m1 0h1m1 0h3.01m2 0h1m1 0h2m1 0h1m2 0h1m2 0h3.01m4.01 0h3.01m1 0h1m2 0h2m1 0h5.01m1 0h1M6.012 137.9h1m20 0h1m8.02 0h1m22.1 0h1m2 0h1m1 0h3.01m1 0h1m2 0h2m4.01 0h1m1 0h4.01m2 0h3.01m2 0h1m3.01 0h1m2 0h4.01m2 0h1m1 0h1m2 0h3.01m1 0h1m1 0h1m1 0h4.01m3.01 0h1m1 0h1m3.01 0h2M24.05 138.9h1m27.1 0h1m10 0h2m1 0h1m1 0h2m4.01 0h5.01m1 0h1m2 0h4.01m1 0h1m1 0h1m1 0h1m3.01 0h3.01m2 0h4.01m1 0h1m1 0h1m1 0h3.01m4.01 0h1m2 0h1m1 0h1m1 0h2m1 0h4.01M7.014 139.9h1m3.01 0h1m37.1 0h1m15 0h2m1 0h1m1 0h3.01m4.01 0h1m1 0h1m2 0h1m4.01 0h2m1 0h1m1 0h2m1 0h1m1 0h9.02m2 0h6.01m6.01 0h1m2 0h2m2 0h1m1 0h2M26.06 140.8h1m33.1 0h1m1 0h1m3.01 0h1m1 0h3.01m1 0h2m2 0h2m1 0h2m8.02 0h1m1 0h1m1 0h1m1 0h2m3.01 0h1m1 0h5.01m2 0h1m1 0h1m1 0h2m3.01 0h1m2 0h1m1 0h1m5.01 0h2M1 141.8h1m7.02 0h1m31.1 0h1m7.02 0h1m7.02 0h1m6.01 0h1m2 0h1m1 0h1m2 0h1m4.01 0h1m1 0h1m4.01 0h1m1 0h1m1 0h3.01m2 0h1m1 0h2m3.01 0h1m7.02 0h1m2 0h1m2 0h1m2 0h1m1 0h1m2 0h3.01m1 0h2m2 0h1M6.012 142.8h1m33.1 0h1m10 0h1m13 0h1m9.02 0h1m2 0h2m1 0h1m3.01 0h1m1 0h3.01m1 0h1m6.01 0h1m5.01 0h1m5.01 0h2m5.01 0h1m6.01 0h1M18.04 143.8h1m1 0h1m8.02 0h1m10 0h1m19 0h2m2 0h1m1 0h1m3.01 0h2m1 0h1m1 0h1m3.01 0h2m5.01 0h3.01m1 0h1m1 0h1m1 0h1m1 0h1m1 0h4.01m1 0h1m1 0h9.02m1 0h1m2 0h1m4.01 0h4.01M6.012 144.8h1m34.1 0h1m16 0h4.01m1 0h1m1 0h1m3.01 0h2m9.02 0h2m2 0h1m5.01 0h2m1 0h1m2 0h1m2 0h2m2 0h6.01m1 0h2m2 0h1m1 0h1m1 0h2m2 0h1m1 0h1m1 0h1m1 0h3.01M29.06 145.8h1m29.1 0h1m3.01 0h2m2 0h1m3.01 0h5.01m1 0h1m1 0h1m11 0h2m2 0h1m7.02 0h1m4.01 0h1m3.01 0h2m2 0h1m5.01 0h1m1 0h5.01m1 0h1M23.05 146.8h1m30.1 0h1m5.01 0h3.01m1 0h3.01m2 0h1m3.01 0h2m1 0h1m13 0h2m7.02 0h1m1 0h1m7.02 0h1m1 0h2m1 0h2M15.03 147.8h1m2 0h1m24.1 0h1m17 0h1m2 0h4.01m4.01 0h1m2 0h2m2 0h1m2 0h2m2 0h1m1 0h2m3.01 0h1m1 0h2m1 0h3.01m2 0h2m1 0h2m3.01 0h4.01m2 0h1m8.02 0h2m2 0h1M9.018 148.8h1m18 0h1m2 0h1m3.01 0h1m16 0h1m7.02 0h1m4.01 0h3.01m2 0h3.01m1 0h1m1 0h2m1 0h2m1 0h4.01m1 0h2m2 0h1m2 0h1m2 0h1m1 0h2m3.01 0h2m2 0h1m1 0h1m1 0h4.01m2 0h4.01m2 0h2m1 0h1m2 0h1M44.1 149.8h1m15 0h2m1 0h1m1 0h2m3.01 0h2m3.01 0h2m3.01 0h4.01m1 0h2m2 0h2m2 0h1m1 0h2m13 0h2m1 0h7.02m4.01 0h1m2 0h3.01M1 150.8h1m2 0h1m11 0h1m8.02 0h2m3.01 0h1m1 0h1m24.1 0h1m1 0h10m5.01 0h1m1 0h1m3.01 0h1m3.01 0h1m3.01 0h1m2 0h2m1 0h2m5.01 0h1m1 0h4.01m1 0h2m2 0h2m2 0h1m3.01 0h1m5.01 0h1m1 0h3.01M15.03 151.8h1m19 0h1m3.01 0h1m2 0h1m3.01 0h1m7.02 0h1m5.01 0h1m1 0h2m2 0h1m1 0h3.01m6.01 0h1m3.01 0h1m3.01 0h1m1 0h1m3.01 0h1m1 0h3.01m1 0h1m1 0h1m9.02 0h1m1 0h3.01m2 0h1m1 0h1m1 0h1m1 0h1m5.01 0h1M25.06 152.8h1m20 0h1m9.02 0h1m3.01 0h1m1 0h1m3.01 0h3.01m3.01 0h2m3.01 0h1m3.01 0h1m4.01 0h2m3.01 0h1m1 0h2m1 0h1m2 0h2m3.01 0h1m3.01 0h1m4.01 0h1m2 0h1m2 0h4.01m1 0h1m3.01 0h1M27.06 153.8h2m27.1 0h1m3.01 0h1m3.01 0h2m1 0h2m9.02 0h1m1 0h2m2 0h1m3.01 0h2m4.01 0h1m2 0h1m3.01 0h1m6.01 0h1m2 0h2m1 0h2m2 0h1m2 0h3.01m1 0h1m1 0h3.01M30.07 154.8h1m18 0h1m10 0h1m1 0h2m3.01 0h1m1 0h2m2 0h4.01m4.01 0h1m4.01 0h2m3.01 0h2m1 0h1m2 0h1m4.01 0h2m5.01 0h1m4.01 0h1m3.01 0h1m1 0h2m3.01 0h1m1 0h1M11.02 155.8h1m28.1 0h1m2 0h1m14 0h1m6.01 0h6.01m3.01 0h2m2 0h3.01m1 0h1m2 0h5.01m3.01 0h1m1 0h2m2 0h4.01m5.01 0h5.01m1 0h1m1 0h2m2 0h3.01m1 0h3.01M45.1 156.8h2m10 0h1m3.01 0h3.01m1 0h3.01m1 0h2m1 0h1m3.01 0h2m2 0h1m2 0h2m2 0h3.01m2 0h1m2 0h1m1 0h1m4.01 0h2m1 0h1m2 0h2m1 0h5.01m3.01 0h3.01m1 0h3.01m1 0h1M3.005 157.8h1m16 0h2m39.1 0h3.01m1 0h3.01m1 0h2m1 0h2m1 0h6.01m1 0h1m2 0h2m5.01 0h1m2 0h4.01m3.01 0h4.01m1 0h2m2 0h3.01m2 0h2m1 0h1m1 0h1m1 0h1m1 0h4.01m1 0h1M35.08 158.8h1m3.01 0h1m6.01 0h1m13 0h1m2 0h5.01m2 0h1m1 0h1m4.01 0h1m2 0h1m3.01 0h1m1 0h1m1 0h1m4.01 0h5.01m1 0h6.01m2 0h1m1 0h1m1 0h4.01m5.01 0h3.01m3.01 0h4.01M60.14 159.8h3.01m1 0h3.01m1 0h1m1 0h1m6.01 0h1m2 0h1m1 0h1m4.01 0h1m4.01 0h1m6.01 0h1m4.01 0h2m2 0h2m4.01 0h2m2 0h4.01m1 0h2m5.01 0h1M60.14 160.8h1m2 0h3.01m1 0h1m2 0h1m1 0h1m3.01 0h1m1 0h1m1 0h1m1 0h1m1 0h1m2 0h3.01m2 0h1m6.01 0h5.01m3.01 0h4.01m1 0h1m1 0h1m1 0h2m1 0h1m1 0h6.01M59.13 161.8h2m3.01 0h1m1 0h3.01m3.01 0h2m3.01 0h1m1 0h1m1 0h1m2 0h2m2 0h1m1 0h1m3.01 0h1m2 0h1m2 0h1m2 0h1m2 0h2m1 0h2m2 0h3.01m1 0h2m2 0h1m4.01 0h1m1 0h1m1 0h1M1 162.8h1m5.01 0h1m4.01 0h1m15 0h1m14 0h1m7.02 0h1m3.01 0h1m5.01 0h1m1 0h1m1 0h2m1 0h2m1 0h2m1 0h3.01m1 0h1m2 0h1m1 0h1m5.01 0h1m1 0h1m2 0h3.01m1 0h1m8.02 0h3.01m1 0h3.01m1 0h4.01m2 0h2m3.01 0h1m2 0h1M7.014 163.8h1m7.02 0h1m10 0h1m19 0h1m10 0h1m4.01 0h2m1 0h1m3.01 0h1m6.01 0h2m6.01 0h1m1 0h1m6.01 0h2m2 0h4.01m1 0h1m1 0h3.01m1 0h1m1 0h2m2 0h2m5.01 0h1m4.01 0h5.01M60.14 164.8h1m1 0h4.01m3.01 0h1m1 0h1m3.01 0h1m3.01 0h1m6.01 0h2m1 0h1m4.01 0h2m1 0h1m4.01 0h1m2 0h2m3.01 0h1m1 0h2m4.01 0h1m1 0h1m1 0h1m2 0h1m1 0h1m1 0h1M4.007 165.8h1m3.01 0h1m17 0h1m3.01 0h1m5.01 0h1m17 0h1m5.01 0h1m1 0h1m2 0h2m2 0h2m4.01 0h4.01m2 0h2m2 0h1m2 0h3.01m1 0h2m2 0h1m2 0h3.01m2 0h3.01m3.01 0h2m1 0h3.01m3.01 0h1m1 0h3.01m1 0h2m1 0h1m1 0h1M7.014 166.8h2m1 0h1m5.01 0h1m10 0h1m2 0h1m4.01 0h1m8.02 0h1m11 0h1m5.01 0h1m1 0h4.01m6.01 0h1m6.01 0h1m7.02 0h1m3.01 0h2m2 0h2m2 0h1m7.02 0h1m3.01 0h1m1 0h1m1 0h1m2 0h1m2 0h1m2 0h1m1 0h1M12.03 167.8h1m1 0h1m8.02 0h1m46.1 0h1m5.01 0h1m1 0h4.01m6.01 0h3.01m3.01 0h1m1 0h1m1 0h2m1 0h3.01m7.02 0h2m4.01 0h1m4.01 0h1m1 0h2m2 0h1M28.06 168.8h1m32.1 0h1m5.01 0h1m4.01 0h2m2 0h1m1 0h1m1 0h7.02m3.01 0h1m1 0h2m1 0h2m1 0h1m1 0h2m1 0h1m1 0h1m1 0h1m1 0h3.01m3.01 0h3.01m3.01 0h1m1 0h1m6.01 0h1M7.014 169.8h1m2 0h1m3.01 0h1m3.01 0h1m4.01 0h1m2 0h1m1 0h1m1 0h1m15 0h1m1 0h1m7.02 0h1m5.01 0h1m2 0h1m3.01 0h2m3.01 0h1m12 0h2m5.01 0h1m14 0h1m4.01 0h1m1 0h1m6.01 0h1M37.08 170.8h1m13 0h1m4.01 0h1m4.01 0h1m2 0h2m4.01 0h1m1 0h1m1 0h1m1 0h4.01m1 0h1m2 0h1m4.01 0h1m3.01 0h1m3.01 0h3.01m2 0h2m1 0h2m1 0h2m2 0h3.01m1 0h1m1 0h1m1 0h1m2 0h2m1 0h1m2 0h1M44.1 171.8h1m15 0h4.01m4.01 0h2m1 0h3.01m1 0h2m1 0h3.01m4.01 0h2m4.01 0h2m3.01 0h3.01m2 0h3.01m1 0h1m4.01 0h2m1 0h4.01m4.01 0h1m1 0h6.01m1 0h1M1 172.8h1m12 0h1m45.1 0h4.01m1 0h4.01m2 0h4.01m1 0h1m3.01 0h1m3.01 0h1m1 0h1m3.01 0h1m1 0h1m2 0h1m1 0h1m2 0h1m4.01 0h2m3.01 0h2m1 0h4.01m1 0h1m2 0h2m1 0h1m1 0h1m3.01 0h1M3.005 173.8h1m3.01 0h1m2 0h1m4.01 0h1m1 0h1m4.01 0h1m13 0h1m17 0h1m5.01 0h3.01m2 0h2m2 0h1m1 0h1m7.02 0h1m1 0h1m1 0h2m4.01 0h1m8.02 0h3.01m1 0h1m3.01 0h3.01m1 0h1m4.01 0h1m1 0h2m2 0h2m1 0h1m2 0h1m2 0h1M1 174.8h1m6.01 0h1m19 0h2m30.1 0h1m1 0h1m2 0h1m2 0h1m5.01 0h2m1 0h1m2 0h1m5.01 0h1m2 0h4.01m1 0h1m7.02 0h2m2 0h1m1 0h2m8.02 0h3.01m1 0h1m1 0h2m1 0h1m1 0h1M9.018 175.8h1m14 0h1m10 0h1m1 0h1m5.01 0h1m13 0h1m1 0h1m3.01 0h2m2 0h2m1 0h3.01m1 0h3.01m3.01 0h2m1 0h3.01m2 0h1m1 0h2m6.01 0h3.01m3.01 0h1m4.01 0h1m1 0h2m1 0h1m1 0h3.01m3.01 0h1m1 0h1m1 0h1m1 0h1m1 0h1M6.012 176.8h1m12 0h1m20 0h1m13 0h2m4.01 0h1m1 0h1m1 0h3.01m2 0h1m4.01 0h1m1 0h1m1 0h2m4.01 0h1m1 0h1m3.01 0h1m1 0h1m4.01 0h1m2 0h2m3.01 0h1m2 0h2m2 0h2m1 0h1m2 0h1m3.01 0h1m1 0h1m2 0h2M61.14 177.8h1m1 0h1m5.01 0h3.01m3.01 0h1m3.01 0h1m5.01 0h1m6.01 0h1m2 0h2m1 0h2m4.01 0h1m2 0h1m2 0h1m3.01 0h1m2 0h2m2 0h2m2 0h1m1 0h1M49.11 178.8h1m7.02 0h1m2 0h2m3.01 0h1m1 0h1m1 0h2m1 0h1m4.01 0h1m1 0h1m1 0h2m1 0h2m2 0h2m1 0h3.01m3.01 0h1m1 0h2m3.01 0h2m2 0h1m2 0h2m1 0h2m2 0h5.01m1 0h1m2 0h4.01"/>
<path stroke="rgb(146, 192, 219)" d="M7.014 23h1m14 0h1m8.02 0h1m44.1 0h1m32.1 0h1m3.01 0h1M1 24h1m5.01 0h1m26.1 0h1m58.1 0h2m14 0h1m12 0h1M26.06 25h1m2 0h2m10 0h1m11 0h1m8.02 0h2m14 0h1m48.1 0h1M3.005 26h1m3.01 0h1m21 0h1m1 0h1m7.02 0h1m13 0h1m5.01 0h2m16 0h1m25.1 0h1m3.01 0h1m6.01 0h1M1 26.99h1m6.01 0h1m20 0h2m3.01 0h1m7.02 0h1m23.1 0h1M1 27.99h1m7.02 0h1m16 0h1m2 0h2m11 0h1m6.01 0h1m3.01 0h1m1 0h1m4.01 0h1m1 0h1m11 0h1m26.1 0h1m11 0h1m7.02 0h1M29.06 28.99h1m23.1 0h1m6.01 0h1m20 0h1m28.1 0h1M30.07 29.99h1m28.1 0h2m44.1 0h1m7.02 0h1m9.02 0h1M1 30.99h1m26.1 0h2m32.1 0h1m49.1 0h1M9.018 31.99h1m12 0h1m5.01 0h1m1 0h1m8.02 0h1m31.1 0h1m20 0h1m16 0h1M1 32.99h1m15 0h1m10 0h2m11 0h2m10 0h1m8.02 0h1m3.01 0h1m1 0h1m6.01 0h1m7.02 0h1m36.1 0h1M1 33.99h1m17 0h1m8.02 0h1m22.1 0h2m7.02 0h1m2 0h1m8.02 0h1m1 0h1m21 0h1M1 34.98h1m7.02 0h1m17 0h1m1 0h2m11 0h1m1 0h1m32.1 0h1m24.1 0h1m5.01 0h1m7.02 0h1M24.05 35.98h1m3.01 0h1m1 0h1m25.1 0h1m1 0h1m60.1 0h1m4.01 0h1M21.05 36.98h3.01m5.01 0h1m22.1 0h1m2 0h1m4.01 0h1m4.01 0h1m61.1 0h1m1 0h1M1 37.98h2m4.01 0h1m20 0h1m9.02 0h2m3.01 0h1m68.2 0h1m1 0h1M28.06 38.98h1m34.1 0h1m21 0h1m1 0h1M1 39.98h1m8.02 0h1m17 0h1m26.1 0h1m1 0h1m2 0h1m17 0h1m32.1 0h1m9.02 0h1m5.01 0h1M1 40.98h1m1 0h1m12 0h1m22.1 0h1m1 0h1m13 0h1m6.01 0h2m10 0h1m28.1 0h1M23.05 41.98h1m6.01 0h1m31.1 0h1m21 0h1m4.01 0h1m2 0h1m18 0h1m17 0h1M10.02 42.97h2m8.02 0h1m8.02 0h2m25.1 0h1m2 0h1m7.02 0h1m3.01 0h1M1 43.97h1m2 0h1m34.1 0h1m1 0h2m9.02 0h1m75.2 0h2M1 44.97h1m11 0h1m24.1 0h1m21 0h2M10.02 45.97h1m17 0h1m29.1 0h1m8.02 0h1m14 0h1m16 0h1M1 46.97h1m27.1 0h2m17 0h1m6.01 0h1m30.1 0h1m24.1 0h1m3.01 0h2m4.01 0h1m1 0h1M20.04 47.97h1m8.02 0h1m13 0h1m7.02 0h1m6.01 0h1m4.01 0h1m18 0h2m22.1 0h3.01M28.06 48.97h3.01m5.01 0h1m12 0h1m10 0h1m38.1 0h1m6.01 0h1m4.01 0h1M2.002 49.96h2m2 0h1m6.01 0h2m1 0h2m1 0h1m18 0h1m1 0h1m49.1 0h1m8.02 0h1M2.002 50.96h1m1 0h1m5.01 0h1m1 0h2m1 0h1m1 0h1m1 0h1m7.02 0h1m9.02 0h1m10 0h1m3.01 0h1m16 0h1m4.01 0h1m9.02 0h1m4.01 0h1m29.1 0h1M6.012 51.96h1m6.01 0h1m48.1 0h1m13 0h1m16 0h1M3.005 52.96h1m41.1 0h1m14 0h1m17 0h1m5.01 0h1m4.01 0h1m3.01 0h1m15 0h1m10 0h1M1 53.96h2m2 0h1m5.01 0h1m4.01 0h1m68.2 0h1m5.01 0h1M1 54.96h1m1 0h1m1 0h1m6.01 0h1m1 0h1m16 0h1m5.01 0h1m5.01 0h1m10 0h1m5.01 0h1m25.1 0h1m21 0h1m13 0h1M1 55.96h1m2 0h1m6.01 0h1m7.02 0h1m13 0h1m41.1 0h1m10 0h1m13 0h1m18 0h1M5.009 56.96h1m7.02 0h1m4.01 0h1m19 0h1m12 0h1m25.1 0h1m4.01 0h1m21 0h1m3.01 0h1M1 57.95h1m2 0h1m1 0h1m6.01 0h1m3.01 0h1m47.1 0h1m32.1 0h1m10 0h1M4.007 58.95h1m35.1 0h1m2 0h1m7.02 0h1m3.01 0h1m19 0h1m1 0h1m1 0h1M11.02 59.95h1m2 0h1m1 0h2m4.01 0h1m25.1 0h1m10 0h1m35.1 0h1m13 0h1M1 60.95h1m3.01 0h1m4.01 0h1m5.01 0h1m40.1 0h1m6.01 0h1m39.1 0h1m24.1 0h1M4.007 61.95h1m7.02 0h1m4.01 0h1m28.1 0h1m5.01 0h1m4.01 0h1m12 0h1m4.01 0h1m24.1 0h1M1 62.95h2m1 0h2m16 0h1m17 0h1m3.01 0h1m10 0h1m32.1 0h1m10 0h1M13.03 63.95h1m13 0h1m12 0h1m2 0h1m8.02 0h1m1 0h1m2 0h1m17 0h3.01m47.1 0h1M3.005 64.95h1m4.01 0h1m10 0h2m12 0h1m15 0h1m2 0h1m27.1 0h1m1 0h1m14 0h1m7.02 0h1m10 0h1M7.014 65.94h1m29.1 0h1m2 0h1m7.02 0h1m65.2 0h1m15 0h1M4.007 66.94h2m5.01 0h2m4.01 0h1m14 0h1m6.01 0h2m9.02 0h1m20 0h2m8.02 0h1m40.1 0h1m6.01 0h2M43.1 67.94h1m14 0h1m19 0h1m22.1 0h1m11 0h1m2 0h1M1 68.94h1m2 0h1m8.02 0h2m2 0h1m6.01 0h2m6.01 0h1m10 0h1m8.02 0h1m7.02 0h1m44.1 0h1M1 69.94h1m4.01 0h1m8.02 0h1m1 0h2m26.1 0h1m3.01 0h1m17 0h1m13 0h1M4.007 70.94h1m8.02 0h1m3.01 0h1m1 0h1m13 0h1m13 0h1m17 0h1m7.02 0h1m10 0h1m13 0h1m20 0h1M11.02 71.94h1m4.01 0h2m7.02 0h1m14 0h1m28.1 0h1m22.1 0h1m7.02 0h1m26.1 0h1m2 0h1M2.002 72.94h1m6.01 0h1m2 0h2m5.01 0h1m20 0h1m32.1 0h1m8.02 0h1m2 0h1m11 0h1m10 0h1m9.02 0h1m2 0h1M1 73.93h1m3.01 0h2m3.01 0h1m6.01 0h1m13 0h1m67.2 0h2m1 0h1m15 0h1M8.016 74.93h1m7.02 0h1m24.1 0h1m1 0h1m2 0h1m5.01 0h1m9.02 0h1m11 0h1m7.02 0h1m2 0h1m27.1 0h1M6.012 75.93h1m4.01 0h1m7.02 0h1m1 0h1m12 0h1m43.1 0h1m36.1 0h1m14 0h1M11.02 76.93h1m4.01 0h1m2 0h2m11 0h1m1 0h1m5.01 0h1m4.01 0h1m19 0h1m12 0h1m11 0h1m15 0h1m11 0h1M6.012 77.93h1m10 0h3.01m9.02 0h1m1 0h1m53.1 0h1m8.02 0h2m6.01 0h1m11 0h1m11 0h1M2.002 78.93h1m1 0h3.01m1 0h1m4.01 0h1m10 0h1m7.02 0h1m63.1 0h1m11 0h1m7.02 0h1m6.01 0h1m4.01 0h1M1 79.93h1m1 0h1m5.01 0h1m9.02 0h2m25.1 0h1m12 0h1m30.1 0h1m5.01 0h1m5.01 0h1m12 0h1M5.009 80.93h2m5.01 0h1m1 0h1m2 0h2m27.1 0h1m26.1 0h1m10 0h1m11 0h1m19 0h1m1 0h1M4.007 81.92h1m1 0h1m3.01 0h1m2 0h1m1 0h1m5.01 0h1m16 0h1m10 0h1m1 0h1m17 0h1m3.01 0h1m27.1 0h1m14 0h2M2.002 82.92h1m8.02 0h1m5.01 0h3.01M2.002 83.92h1m2 0h1m11 0h3.01m7.02 0h1m11 0h1m3.01 0h1m65.2 0h1M6.012 84.92h1m3.01 0h1m4.01 0h3.01m31.1 0h1m37.1 0h1m1 0h1m9.02 0h2m22.1 0h1M2.002 85.92h2m4.01 0h1m3.01 0h2m3.01 0h1m1 0h2m23.1 0h1m61.1 0h1m1 0h1m12 0h1M13.03 86.92h1m5.01 0h1m22.1 0h1m5.01 0h1m18 0h1m8.02 0h1m7.02 0h1m4.01 0h1m8.02 0h1m3.01 0h1m24.1 0h1M5.009 87.92h2m10 0h1m57.1 0h1m17 0h1m27.1 0h1m6.01 0h2M1 88.92h1m8.02 0h1m1 0h1m36.1 0h2m6.01 0h1m14 0h1m18 0h2m10 0h1m4.01 0h1M3.005 89.91h1m7.02 0h1m1 0h1m4.01 0h2m13 0h1m7.02 0h1m10 0h1m4.01 0h1m36.1 0h1m7.02 0h1m6.01 0h1m6.01 0h1m8.02 0h1M2.002 90.91h2m3.01 0h1m16 0h1m27.1 0h1m6.01 0h1m38.1 0h1m19 0h1m10 0h1M6.012 91.91h1m4.01 0h1m1 0h1m3.01 0h1m68.2 0h1m35.1 0h1m1 0h1M3.005 92.91h3.01m11 0h1m4.01 0h1m1 0h1m8.02 0h1m8.02 0h2m3.01 0h1m17 0h1m8.02 0h1m16 0h1m7.02 0h1m5.01 0h1m6.01 0h1M3.005 93.91h1m1 0h1m5.01 0h1m16 0h1m11 0h1m17 0h1m16 0h1m18 0h1m12 0h1M1 94.91h1m13 0h2m15 0h1m4.01 0h1m4.01 0h1m32.1 0h1m1 0h2m18 0h1m26.1 0h1m2 0h1M2.002 95.91h1m2 0h1m6.01 0h2m1 0h1m3.01 0h1m23.1 0h1m18 0h1m10 0h1M18.04 96.91h1m20 0h1m1 0h1m13 0h1m1 0h1m24.1 0h1m9.02 0h1m1 0h1m32.1 0h1M2.002 97.9h1m1 0h2m3.01 0h2m5.01 0h2m56.1 0h1m11 0h1M1 98.9h1m1 0h1m3.01 0h1m8.02 0h1m26.1 0h1m35.1 0h1m2 0h1m43.1 0h1M1 99.9h1m1 0h1m1 0h1m11 0h2m20 0h1m5.01 0h1m11 0h1m42.1 0h1m7.02 0h1M10.02 100.9h1m2 0h1m4.01 0h2m2 0h1m1 0h1m13 0h1m4.01 0h1m28.1 0h2m14 0h1m23.1 0h1m15 0h1M8.016 101.9h1m8.02 0h1m14 0h1m25.1 0h1m10 0h1m6.01 0h3.01m19 0h1M3.005 102.9h1m7.02 0h1m3.01 0h1m1 0h1m23.1 0h1m3.01 0h1m3.01 0h1m8.02 0h1m6.01 0h1m3.01 0h1m5.01 0h1M5.009 103.9h1m5.01 0h3.01m23.1 0h1m9.02 0h1m28.1 0h1m10 0h2m9.02 0h1m9.02 0h1m4.01 0h1m3.01 0h1M3.005 104.9h1m1 0h1m10 0h3.01m30.1 0h1m3.01 0h1m31.1 0h1m5.01 0h1M1 105.9h1m1 0h1m2 0h1m7.02 0h1m27.1 0h1m1 0h1m31.1 0h1m47.1 0h1m3.01 0h1M11.02 106.9h1m24.1 0h1m23.1 0h1m1 0h1m4.01 0h3.01m1 0h2m2 0h1m2 0h4.01m3.01 0h1m1 0h2m1 0h1m7.02 0h2m4.01 0h1m2 0h1m1 0h3.01m6.01 0h2m2 0h2m1 0h1m1 0h4.01M5.009 107.9h1m16 0h1m3.01 0h1m30.1 0h1m17 0h1M35.08 108.9h1m34.1 0h1m1 0h1m5.01 0h3.01m4.01 0h2m1 0h2m3.01 0h2m7.02 0h3.01m2 0h1m4.01 0h2m4.01 0h2m1 0h1m1 0h1m4.01 0h1m1 0h1M17.04 109.9h1m10 0h1m16 0h1m37.1 0h2m4.01 0h1m13 0h1m7.02 0h1M7.014 110.9h1m2 0h1m8.02 0h1m11 0h1m4.01 0h1m27.1 0h1m16 0h4.01m3.01 0h1m1 0h1m2 0h1m10 0h1m5.01 0h4.01m8.02 0h1m1 0h1m3.01 0h1M42.09 111.9h1m23.1 0h2m2 0h2m3.01 0h1m5.01 0h1m2 0h1m3.01 0h1m7.02 0h1m2 0h1m6.01 0h3.01m1 0h1m3.01 0h1m1 0h2m5.01 0h2m1 0h1m1 0h1m1 0h1M1 112.9h1m2 0h1m20 0h1m23.1 0h1m10 0h2m1 0h3.01m6.01 0h1m2 0h3.01m5.01 0h3.01m3.01 0h1m1 0h1m4.01 0h1m2 0h2m2 0h2m1 0h3.01m1 0h3.01m1 0h1m1 0h1m4.01 0h2m1 0h1m2 0h3.01M48.11 113.9h1m14 0h1m1 0h1m2 0h1m1 0h1m1 0h1m2 0h13m5.01 0h4.01m1 0h4.01m4.01 0h3.01m1 0h6.01m2 0h3.01m3.01 0h1m1 0h3.01m1 0h1M2.002 114.9h1m1 0h1m2 0h1m26.1 0h1m4.01 0h1m27.1 0h1m3.01 0h2m4.01 0h1m1 0h1m9.02 0h2m2 0h1m8.02 0h1m1 0h1m18 0h1m6.01 0h1M6.012 115.9h1m22.1 0h1m41.1 0h1m10 0h1m15 0h1m13 0h1m2 0h1m8.02 0h1M34.08 116.9h1m10 0h1m7.02 0h1m9.02 0h1m3.01 0h2m3.01 0h1m1 0h1m4.01 0h1m3.01 0h1m4.01 0h2m3.01 0h1m2 0h2m4.01 0h1m1 0h1m4.01 0h1m1 0h1m5.01 0h1m2 0h1m2 0h2m2 0h1M37.08 117.9h1m19 0h1m2 0h1m3.01 0h7.02m1 0h1m1 0h3.01m4.01 0h1m1 0h1m2 0h2m1 0h2m2 0h5.01m1 0h1m2 0h2m2 0h1m2 0h1m4.01 0h3.01m2 0h4.01m4.01 0h3.01M10.02 118.9h1m51.1 0h1m7.02 0h1m6.01 0h2m3.01 0h1m2 0h1m2 0h1m1 0h1m2 0h1m22.1 0h1m2 0h1m2 0h2m2 0h4.01M38.09 119.9h1m8.02 0h1m10 0h2m6.01 0h2m2 0h2m6.01 0h1m2 0h1m1 0h2m4.01 0h1m5.01 0h1m5.01 0h1m1 0h2m6.01 0h1m2 0h1m2 0h2M8.016 120.9h1m51.1 0h1m4.01 0h1m1 0h2m1 0h1m1 0h1m3.01 0h2m5.01 0h3.01m1 0h3.01m1 0h1m3.01 0h2m1 0h4.01m1 0h1m1 0h7.02m2 0h1m1 0h1m8.02 0h3.01m2 0h1M6.012 121.9h1m8.02 0h1m40.1 0h1m6.01 0h1m2 0h1m2 0h1m5.01 0h2m1 0h2m4.01 0h1m1 0h1m1 0h5.01m1 0h3.01m1 0h2m3.01 0h1m1 0h1m1 0h1m2 0h1m1 0h1m2 0h3.01m5.01 0h3.01m2 0h1M4.007 122.9h1m27.1 0h1m27.1 0h2m5.01 0h1m2 0h2m4.01 0h1m2 0h1m2 0h1m1 0h1m7.02 0h1m24.1 0h1m4.01 0h2m1 0h2M40.09 123.9h1m20 0h1m5.01 0h1m3.01 0h1m3.01 0h6.01m1 0h1m1 0h1m1 0h1m1 0h1m1 0h1m7.02 0h4.01m2 0h4.01m2 0h3.01m2 0h1m1 0h3.01m3.01 0h1m4.01 0h3.01M55.12 124.9h1m5.01 0h1m13 0h1m6.01 0h1m3.01 0h1m2 0h2m8.02 0h2m1 0h1m4.01 0h1m2 0h1m11 0h2m4.01 0h1M34.08 125.9h1m8.02 0h1m17 0h1m1 0h3.01m1 0h1m3.01 0h2m3.01 0h1m2 0h1m1 0h3.01m1 0h1m1 0h2m2 0h3.01m5.01 0h1m2 0h1m3.01 0h2m2 0h1m4.01 0h1m2 0h2m3.01 0h3.01m2 0h3.01M24.05 126.9h1m7.02 0h2m15 0h2m10 0h1m8.02 0h1m4.01 0h1m2 0h1m1 0h1m1 0h2m4.01 0h1m1 0h1m1 0h1m5.01 0h1m1 0h1m3.01 0h1m11 0h3.01m2 0h1m1 0h2m2 0h1M10.02 127.9h1m40.1 0h1m7.02 0h1m2 0h1m4.01 0h2m1 0h1m2 0h1m1 0h1m1 0h5.01m1 0h4.01m1 0h3.01m3.01 0h3.01m2 0h1m2 0h5.01m3.01 0h2m3.01 0h1m2 0h1m2 0h6.01M16.03 128.9h1m3.01 0h1m35.1 0h1m4.01 0h1m8.02 0h3.01m5.01 0h1m2 0h1m7.02 0h1m6.01 0h1m1 0h1m1 0h1m2 0h1m18 0h2m4.01 0h1M11.02 129.9h1m8.02 0h1m5.01 0h1m3.01 0h2m29.1 0h2m1 0h5.01m2 0h2m1 0h2m4.01 0h2m4.01 0h1m1 0h3.01m2 0h1m2 0h1m2 0h3.01m1 0h4.01m1 0h1m4.01 0h1m1 0h3.01m5.01 0h2m2 0h1m1 0h1M3.005 130.9h1m26.1 0h2m11 0h1m17 0h2m2 0h1m2 0h1m2 0h6.01m1 0h3.01m4.01 0h3.01m2 0h1m1 0h1m1 0h3.01m1 0h1m4.01 0h4.01m2 0h4.01m3.01 0h1m2 0h1m1 0h4.01m1 0h2m1 0h2M1 131.9h2m1 0h1m27.1 0h1m21 0h1m7.02 0h1m6.01 0h1m2 0h2m3.01 0h1m4.01 0h1m3.01 0h1m1 0h3.01m2 0h1m4.01 0h1m1 0h2m2 0h1m2 0h2m2 0h1m3.01 0h1m1 0h1m5.01 0h1m1 0h1m4.01 0h1M28.06 132.9h2m33.1 0h1m1 0h2m3.01 0h3.01m3.01 0h1m1 0h1m4.01 0h6.01m3.01 0h1m2 0h2m2 0h1m2 0h2m2 0h3.01m1 0h1m3.01 0h1m1 0h4.01m2 0h1m4.01 0h2M19.04 133.9h2m18 0h1m22.1 0h1m2 0h1m1 0h1m4.01 0h1m5.01 0h2m2 0h1m2 0h2m1 0h2m1 0h1m3.01 0h1m1 0h1m3.01 0h1m1 0h4.01m4.01 0h1m1 0h1m1 0h1m7.02 0h1M42.09 134.9h1m17 0h4.01m3.01 0h1m1 0h2m1 0h1m4.01 0h2m2 0h1m1 0h2m1 0h1m4.01 0h3.01m3.01 0h3.01m1 0h3.01m1 0h2m1 0h2m2 0h2m1 0h2m3.01 0h3.01m2 0h2m2 0h1M13.03 135.9h1m2 0h1m45.1 0h1m4.01 0h1m3.01 0h2m2 0h1m2 0h2m2 0h3.01m1 0h1m3.01 0h1m7.02 0h1m3.01 0h1m4.01 0h1m4.01 0h1m1 0h4.01m2 0h1m1 0h2m3.01 0h4.01M1 136.9h1m21 0h1m22.1 0h1m20 0h1m3.01 0h2m15 0h1m1 0h1m4.01 0h1m1 0h1m5.01 0h1m13 0h1m1 0h1m3.01 0h1M2.002 137.9h1m1 0h1m10 0h1m13 0h1m1 0h1m14 0h1m6.01 0h1m7.02 0h1m13 0h1m7.02 0h2m8.02 0h1m2 0h1m7.02 0h1m6.01 0h1m10 0h1m1 0h1m3.01 0h1M10.02 138.9h1m17 0h1m1 0h1m2 0h1m12 0h1m12 0h1m1 0h2m4.01 0h1m11 0h1m9.02 0h1m3.01 0h1m20 0h1m4.01 0h1m6.01 0h1M26.06 139.9h1m27.1 0h1m3.01 0h1m2 0h1m1 0h1m5.01 0h1m5.01 0h1m2 0h1m2 0h1m1 0h4.01m2 0h1m16 0h2m7.02 0h1m1 0h1m1 0h1m1 0h1m6.01 0h1M18.04 140.8h1m11 0h1m30.1 0h1m3.01 0h1m5.01 0h1m6.01 0h1m2 0h1m4.01 0h3.01m9.02 0h2m1 0h1m5.01 0h2m1 0h1m4.01 0h3.01m1 0h2m1 0h1m1 0h1m2 0h2M31.07 141.8h1m22.1 0h1m20 0h1m9.02 0h1m12 0h1m11 0h1M16.03 142.8h3.01m7.02 0h1m2 0h1m3.01 0h1m10 0h1m11 0h1m10 0h1m33.1 0h1M15.03 143.8h1m21 0h1m11 0h1m12 0h2m3.01 0h1m9.02 0h2m2 0h1m1 0h2m4.01 0h1m3.01 0h1m3.01 0h1m6.01 0h1m11 0h2m1 0h1m1 0h2m5.01 0h3.01M30.07 144.8h1m7.02 0h1m32.1 0h1m7.02 0h1m3.01 0h1m1 0h2m8.02 0h1m2 0h1m3.01 0h1m14 0h1m7.02 0h1M5.009 145.8h1m9.02 0h1m45.1 0h1m4.01 0h1m1 0h1m1 0h1m5.01 0h1m3.01 0h1m1 0h2m1 0h2m1 0h3.01m2 0h1m3.01 0h6.01m2 0h3.01m2 0h2m2 0h2m2 0h2m1 0h1m7.02 0h1M20.04 146.8h1m3.01 0h1m20 0h1m17 0h1m3.01 0h2m1 0h3.01m2 0h1m1 0h1m1 0h1m1 0h1m3.01 0h1m2 0h1m4.01 0h1m1 0h2m1 0h1m1 0h1m2 0h6.01m1 0h1m2 0h1m3.01 0h2m1 0h1m1 0h1m1 0h7.02M4.007 147.8h1m19 0h1m3.01 0h1m9.02 0h1m2 0h1m3.01 0h2m2 0h1m35.1 0h1m37.1 0h1m4.01 0h1M24.05 148.8h1m37.1 0h1m18 0h1m4.01 0h1m2 0h2m1 0h2m2 0h1m1 0h1m3.01 0h2m2 0h1m4.01 0h1m5.01 0h1m5.01 0h1m2 0h1m1 0h1M46.1 149.8h1m20 0h1m20 0h1m2 0h1m6.01 0h2m3.01 0h2m2 0h1m15 0h1M12.03 150.8h1m24.1 0h2m32.1 0h2m4.01 0h1m1 0h1m1 0h2m3.01 0h2m2 0h1m2 0h1m2 0h1m3.01 0h1m1 0h1m4.01 0h1m3.01 0h1m3.01 0h1m3.01 0h1m2 0h2m1 0h1m1 0h1M10.02 151.8h1m54.1 0h1m1 0h1m3.01 0h3.01m1 0h1m3.01 0h1m2 0h1m1 0h1m1 0h1m1 0h1m1 0h1m1 0h1m3.01 0h1m3.01 0h1m1 0h2m1 0h2m1 0h1m1 0h1m3.01 0h2m1 0h1m1 0h1m1 0h1m1 0h2m2 0h1M5.009 152.8h1m17 0h1m12 0h1m26.1 0h1m1 0h1m4.01 0h2m3.01 0h2m1 0h3.01m2 0h1m1 0h1m4.01 0h1m4.01 0h1m2 0h1m2 0h1m1 0h1m6.01 0h1m1 0h1m1 0h2m1 0h1m5.01 0h1m1 0h3.01m2 0h1M12.03 153.8h1m18 0h1m38.1 0h1m14 0h1m7.02 0h1m10 0h1m5.01 0h1m6.01 0h1m1 0h1M26.06 154.8h1m38.1 0h1m2 0h1m8.02 0h1m1 0h2m1 0h1m1 0h1m3.01 0h2m3.01 0h1m1 0h2m2 0h2m3.01 0h1m1 0h3.01m1 0h4.01m1 0h3.01m1 0h1m4.01 0h1m1 0h1m1 0h3.01M37.08 155.8h2m22.1 0h1m9.02 0h2m10 0h1m7.02 0h1m12 0h1m14 0h1m9.02 0h1M21.05 156.8h1m17 0h1m31.1 0h1m6.01 0h1m2 0h1m4.01 0h1m3.01 0h1m2 0h1m2 0h1m1 0h1m2 0h1m5.01 0h1m2 0h1m6.01 0h1m10 0h1M8.016 157.8h1m49.1 0h1m1 0h1m3.01 0h1m6.01 0h1m9.02 0h1m1 0h1m4.01 0h2m3.01 0h1m5.01 0h1m14 0h1m7.02 0h1m1 0h1m4.01 0h1M4.007 158.8h1m10 0h1m17 0h1m14 0h1m12 0h1m9.02 0h1m3.01 0h1m2 0h1m3.01 0h2m1 0h1m3.01 0h1m20 0h1m4.01 0h1m7.02 0h3.01M20.04 159.8h1m14 0h1m16 0h1m10 0h1m7.02 0h1m6.01 0h2m1 0h1m3.01 0h2m2 0h2m2 0h1m1 0h4.01m1 0h3.01m4.01 0h1m8.02 0h2m4.01 0h1m2 0h4.01M4.007 160.8h2m27.1 0h1m17 0h1m9.02 0h1m7.02 0h1m1 0h1m7.02 0h1m1 0h1m3.01 0h1m7.02 0h1m2 0h1m7.02 0h1m6.01 0h1m16 0h1M8.016 161.8h1m9.02 0h1m4.01 0h1m10 0h1m30.1 0h1m5.01 0h1m2 0h1m1 0h1m3.01 0h1m1 0h2m3.01 0h1m1 0h1m2 0h2m1 0h2m1 0h1m3.01 0h1m1 0h1m3.01 0h1m3.01 0h1m3.01 0h1m2 0h2m1 0h1m1 0h1m4.01 0h1M36.08 162.8h1m22.1 0h1m4.01 0h1m5.01 0h1m6.01 0h1m1 0h1m2 0h1m1 0h1m1 0h1m3.01 0h1m1 0h1m4.01 0h1m1 0h3.01m1 0h1m1 0h1m4.01 0h1m3.01 0h1m4.01 0h2m2 0h1m1 0h1m2 0h1m1 0h1M20.04 163.8h1m10 0h1m2 0h1m4.01 0h1m8.02 0h1m11 0h1m7.02 0h1m1 0h3.01m2 0h1m3.01 0h2m1 0h1m2 0h1m3.01 0h2m4.01 0h2m10 0h1m1 0h1m7.02 0h1m6.01 0h2M13.03 164.8h1m13 0h1m33.1 0h1m4.01 0h2m2 0h1m3.01 0h1m1 0h1m1 0h1m1 0h1m1 0h4.01m2 0h1m1 0h1m2 0h1m2 0h1m1 0h3.01m2 0h2m3.01 0h1m2 0h1m3.01 0h1m1 0h1m3.01 0h1m1 0h1m2 0h1M40.09 165.8h1m16 0h1m9.02 0h1m4.01 0h1m7.02 0h1m6.01 0h1m3.01 0h1m6.01 0h1m3.01 0h1m4.01 0h1m16 0h1m4.01 0h1M57.13 166.8h1m2 0h2m1 0h1m4.01 0h1m1 0h1m2 0h1m2 0h1m7.02 0h1m11 0h1m2 0h2m2 0h1m4.01 0h1m1 0h3.01m1 0h1m1 0h1m1 0h2m1 0h2m2 0h1m1 0h1m1 0h1M31.07 167.8h1M7.014 168.8h1m28.1 0h1m13 0h1m6.01 0h1m21 0h1m19 0h1m19 0h1m8.02 0h1M12.03 169.8h1m25.1 0h1m11 0h1m6.01 0h1m2 0h1m2 0h2m1 0h2m3.01 0h3.01m1 0h3.01m2 0h2m1 0h3.01m3.01 0h5.01m2 0h2m1 0h2m2 0h1m1 0h4.01m1 0h2m1 0h1m1 0h1m1 0h2m1 0h3.01m1 0h2m1 0h4.01M13.03 170.8h1m26.1 0h1m9.02 0h1m11 0h2m3.01 0h1m1 0h1m3.01 0h1m6.01 0h1m1 0h2m1 0h2m1 0h1m1 0h1m1 0h1m3.01 0h1m4.01 0h1m2 0h1m2 0h1m3.01 0h1m5.01 0h1m3.01 0h2m2 0h1m1 0h2m1 0h1M1 171.8h1m36.1 0h1m27.1 0h2m2 0h1m12 0h2m3.01 0h2m3.01 0h1m1 0h1m8.02 0h1m2 0h1m4.01 0h1m9.02 0h1M8.016 172.8h1m24.1 0h2m18 0h1m10 0h1m4.01 0h2m4.01 0h1m3.01 0h1m1 0h2m5.01 0h1m4.01 0h2m1 0h1m2 0h1m1 0h1m2 0h1m2 0h2m8.02 0h1m1 0h1m5.01 0h1m3.01 0h1M6.012 173.8h1m26.1 0h2m9.02 0h1m25.1 0h1m9.02 0h1m1 0h1m5.01 0h1m1 0h1m1 0h2m2 0h1m4.01 0h1m2 0h1m14 0h1m8.02 0h2M26.06 174.8h1m3.01 0h1m2 0h1m5.01 0h1m4.01 0h1m8.02 0h1m7.02 0h1m1 0h2m6.01 0h2m3.01 0h1m1 0h1m2 0h3.01m9.02 0h1m1 0h7.02m2 0h2m1 0h1m2 0h2m1 0h1m2 0h1m4.01 0h1m1 0h1m4.01 0h1m1 0h1M5.009 175.8h1m35.1 0h1m13 0h2m22.1 0h1m9.02 0h1m3.01 0h1m9.02 0h1m2 0h2m13 0h1M27.06 176.8h1m4.01 0h1m11 0h1m6.01 0h1m9.02 0h1m5.01 0h1m2 0h1m1 0h1m2 0h1m1 0h1m2 0h4.01m4.01 0h2m1 0h1m1 0h3.01m3.01 0h1m2 0h2m2 0h1m3.01 0h2m4.01 0h1m2 0h1m1 0h1m1 0h1m1 0h1m3.01 0h1M15.03 177.8h1m6.01 0h2m11 0h1m5.01 0h1m2 0h1m8.02 0h1m61.1 0h1m3.01 0h1m4.01 0h1M32.07 178.8h1m9.02 0h1m28.1 0h1m3.01 0h1m2 0h1m1 0h1m5.01 0h1m3.01 0h1m4.01 0h2m1 0h1m3.01 0h1m14 0h1m5.01 0h1m2 0h1"/>
<path stroke="rgb(175, 211, 230)" d="M11.02 23h1m44.1 0h1m4.01 0h1m26.1 0h1m5.01 0h1m9.02 0h1m9.02 0h1M8.016 24h1m19 0h1m10 0h1m1 0h1m7.02 0h1m3.01 0h1m4.01 0h1m1 0h1m2 0h1m15 0h1m2 0h1m34.1 0h1M28.06 25h1m8.02 0h1m1 0h1m2 0h2m10 0h1m5.01 0h1m42.1 0h1m25.1 0h1M10.02 26h1m19 0h1m9.02 0h1m13 0h1m3.01 0h1m6.01 0h1m31.1 0h1m3.01 0h1m4.01 0h1M3.005 26.99h1m3.01 0h1m31.1 0h1m3.01 0h1m9.02 0h1m1 0h1m2 0h2m1 0h1M18.04 27.99h1m13 0h1m6.01 0h1m18 0h1m33.1 0h1m13 0h1m9.02 0h1m8.02 0h1M1 28.99h1m26.1 0h1m1 0h2m4.01 0h2m3.01 0h1m1 0h1m15 0h1m41.1 0h1M12.03 29.99h1m21 0h1m5.01 0h1m2 0h1m9.02 0h1m2 0h1m5.01 0h2M2.002 30.99h1m38.1 0h3.01m5.01 0h1m3.01 0h1m2 0h1m3.01 0h1m6.01 0h1m16 0h1m17 0h1m1 0h1m20 0h1M29.06 31.99h1m31.1 0h3.01m8.02 0h1m29.1 0h1m5.01 0h1M7.014 32.99h1m15 0h1m1 0h1m8.02 0h1m2 0h1m1 0h2m16 0h2m1 0h2m18 0h1m11 0h1m13 0h1m8.02 0h1M7.014 33.99h1m12 0h1m9.02 0h2m7.02 0h1m1 0h1m7.02 0h1m3.01 0h1m2 0h1m1 0h1M23.05 34.98h1m16 0h1m12 0h2m1 0h2m4.01 0h1m30.1 0h1m2 0h1m10 0h1m22.1 0h1M13.03 35.98h1m19 0h1m7.02 0h1m8.02 0h1m2 0h1m8.02 0h2m34.1 0h1M20.04 36.98h1m18 0h1m2 0h1m13 0h1m39.1 0h1M8.016 37.98h1m14 0h1m13 0h1m4.01 0h1m16 0h1m16 0h1m45.1 0h1M1 38.98h1m37.1 0h1m1 0h1m15 0h1m1 0h3.01m36.1 0h1M9.018 39.98h1m4.01 0h1m26.1 0h1m1 0h1m9.02 0h1m8.02 0h1m9.02 0h1m12 0h1m26.1 0h1M14.03 40.98h1m13 0h2m26.1 0h1m3.01 0h1M14.03 41.98h1m17 0h1m6.01 0h3.01m12 0h1m4.01 0h1m3.01 0h1m7.02 0h1m18 0h1m13 0h2m12 0h1M17.04 42.97h1m10 0h1m12 0h1m13 0h1m21 0h1m10 0h1m4.01 0h1m8.02 0h1M11.02 43.97h1m16 0h1m7.02 0h1m6.01 0h1m15 0h1m57.1 0h1M7.014 44.97h1m4.01 0h1m10 0h1m10 0h1m4.01 0h1m2 0h1m5.01 0h1m4.01 0h1m14 0h1m7.02 0h1m7.02 0h1M4.007 45.97h1m8.02 0h1m37.1 0h1m20 0h1m27.1 0h1m1 0h1m19 0h1M16.03 46.97h1m1 0h1m21 0h1m1 0h2m12 0h1m2 0h1m1 0h1m19 0h1M1 47.97h1m2 0h1m3.01 0h1m19 0h1m4.01 0h1m5.01 0h1m15 0h1m3.01 0h2m4.01 0h1m19 0h1m25.1 0h1m10 0h2M1 48.97h2m20 0h1m8.02 0h1m6.01 0h2m16 0h1m3.01 0h3.01m45.1 0h1m4.01 0h1m1 0h1m1 0h1m10 0h1M1 49.96h1m3.01 0h1m1 0h1m12 0h1m11 0h2m28.1 0h2m7.02 0h1m20 0h1M3.005 50.96h1m17 0h1m3.01 0h1m5.01 0h2m5.01 0h1m60.1 0h1m4.01 0h1M9.018 51.96h1m2 0h1m1 0h1m1 0h1m2 0h1m5.01 0h1m17 0h1m5.01 0h1m51.1 0h1m8.02 0h1M6.012 52.96h1m3.01 0h1m4.01 0h1m1 0h1m1 0h2m10 0h1m4.01 0h1m6.01 0h1m29.1 0h1m23.1 0h1m17 0h2m12 0h1M6.012 53.96h1m1 0h2m4.01 0h1m5.01 0h2m1 0h2m1 0h2m5.01 0h1m4.01 0h1m31.1 0h2m32.1 0h1m2 0h1m21 0h1M4.007 54.96h1m1 0h1m2 0h1m6.01 0h1m7.02 0h1m8.02 0h3.01m22.1 0h1m2 0h1m8.02 0h1m6.01 0h1m7.02 0h1m15 0h1M2.002 55.96h1m6.01 0h2m2 0h1m6.01 0h1m1 0h1m1 0h1m15 0h1m5.01 0h1m1 0h1m28.1 0h1M1 56.96h1m5.01 0h3.01m1 0h2m2 0h1m1 0h1m1 0h1m3.01 0h2m1 0h1m7.02 0h1m20 0h1m13 0h1m41.1 0h1m11 0h1M3.005 57.95h1m5.01 0h1m1 0h2m3.01 0h1m2 0h1m4.01 0h2m10 0h3.01m32.1 0h1m11 0h1m32.1 0h1M1 58.95h1m3.01 0h1m7.02 0h1m2 0h3.01m5.01 0h1m10 0h1m3.01 0h1m6.01 0h1m29.1 0h1m11 0h2M2.002 59.95h1m1 0h1m4.01 0h1m5.01 0h1m2 0h1m1 0h2m5.01 0h1m1 0h1m2 0h2m62.1 0h1m10 0h1m6.01 0h1m7.02 0h1M2.002 60.95h3.01m2 0h3.01m2 0h4.01m4.01 0h2m1 0h1m3.01 0h1m6.01 0h1m3.01 0h1m17 0h1m36.1 0h1M1 61.95h2m2 0h1m4.01 0h1m2 0h1m1 0h1m4.01 0h1m1 0h1m3.01 0h1m2 0h1m63.1 0h1M7.014 62.95h1m3.01 0h3.01m6.01 0h1m2 0h1m14 0h1m3.01 0h1m6.01 0h1m4.01 0h1m56.1 0h1M5.009 63.95h2m1 0h1m1 0h1m4.01 0h1m1 0h2m1 0h1m7.02 0h1m1 0h1m4.01 0h1m1 0h1m52.1 0h1m23.1 0h1M1 64.95h1m2 0h1m1 0h1m2 0h1m3.01 0h1m1 0h1m9.02 0h1m4.01 0h1m45.1 0h1m35.1 0h1M2.002 65.94h5.01m2 0h1m1 0h2m1 0h1m1 0h1m1 0h2m5.01 0h1m1 0h1m6.01 0h2m2 0h1m27.1 0h1m5.01 0h1m7.02 0h1m40.1 0h1M7.014 66.94h2m5.01 0h1m1 0h1m1 0h2m3.01 0h1m3.01 0h1m5.01 0h1m9.02 0h1m21 0h1m9.02 0h1m20 0h1m11 0h1M1 67.94h1m3.01 0h2m1 0h1m3.01 0h1m3.01 0h2m8.02 0h1m9.02 0h1m1 0h1m10 0h1m12 0h1m14 0h1m32.1 0h1M2.002 68.94h2m1 0h1m2 0h1m1 0h2m3.01 0h1m2 0h1m1 0h1m12 0h2m13 0h1m2 0h1m15 0h1m8.02 0h1m6.01 0h1m38.1 0h1M8.016 69.94h1m1 0h2m7.02 0h1m12 0h1m9.02 0h1m41.1 0h1m45.1 0h1M2.002 70.94h1m2 0h2m3.01 0h1m5.01 0h1m1 0h1m6.01 0h1m8.02 0h1m2 0h2m38.1 0h1m21 0h1m25.1 0h1m4.01 0h1M1 71.94h1m2 0h1m7.02 0h1m1 0h1m4.01 0h1m2 0h1m4.01 0h1m3.01 0h1m46.1 0h1m12 0h1m19 0h1m5.01 0h1m6.01 0h1M4.007 72.94h2m32.1 0h1m16 0h2m18 0h1m43.1 0h1M2.002 73.93h2m4.01 0h1m2 0h2m3.01 0h1m6.01 0h1m5.01 0h1m3.01 0h1m8.02 0h1m50.1 0h1m11 0h1M6.012 74.93h1m3.01 0h1m1 0h1m2 0h1m4.01 0h1m6.01 0h1m1 0h1m7.02 0h2m61.1 0h1m14 0h1m4.01 0h1m8.02 0h1M1 75.93h1m7.02 0h1m2 0h1m3.01 0h2m9.02 0h1m1 0h1m2 0h1m34.1 0h1m3.01 0h1m21 0h2m10 0h1m16 0h1M1 76.93h1m1 0h1m1 0h1m4.01 0h1m2 0h1m14 0h1m7.02 0h2m38.1 0h2m4.01 0h2M1 77.93h1m2 0h1m3.01 0h1m2 0h1m2 0h1m5.01 0h1m3.01 0h1m5.01 0h1m6.01 0h1m6.01 0h1m2 0h1m8.02 0h1m50.1 0h1M1 78.93h1m5.01 0h1m1 0h2m5.01 0h1m2 0h1m6.01 0h1m2 0h1m9.02 0h1m9.02 0h1m26.1 0h1m5.01 0h1m2 0h1m2 0h1m12 0h1M4.007 79.93h2m4.01 0h2m2 0h2m1 0h1m4.01 0h1m2 0h1m4.01 0h1m4.01 0h1m36.1 0h1m2 0h1m25.1 0h1m27.1 0h1M4.007 80.93h1m3.01 0h1m7.02 0h1m2 0h2m2 0h1m3.01 0h1m26.1 0h1m12 0h1M1 81.92h1m3.01 0h1m2 0h2m1 0h1m2 0h1m1 0h1m2 0h2m6.01 0h1m3.01 0h1m5.01 0h1m14 0h1m13 0h1m10 0h1m2 0h1m28.1 0h1m10 0h1M1 82.92h1m3.01 0h3.01m1 0h1m2 0h1m7.02 0h1m6.01 0h1m26.1 0h1m5.01 0h1m31.1 0h1m1 0h1m7.02 0h1m24.1 0h1M4.007 83.92h1m6.01 0h1m2 0h2m8.02 0h1m5.01 0h1m5.01 0h1m20 0h1m30.1 0h1m17 0h1m16 0h1M2.002 84.92h2m4.01 0h2m1 0h1m1 0h1m8.02 0h1m8.02 0h2m4.01 0h1m7.02 0h2M1 85.92h1m2 0h3.01m3.01 0h1m4.01 0h2m1 0h1m4.01 0h1m1 0h1m2 0h1m5.01 0h1m23.1 0h1m36.1 0h1m1 0h1m29.1 0h1M5.009 86.92h1m1 0h1m3.01 0h2m2 0h4.01m1 0h1m11 0h1m41.1 0h1m11 0h1m23.1 0h1m6.01 0h1m1 0h1M1 87.92h1m1 0h2m3.01 0h1m2 0h1m1 0h1m9.02 0h1m2 0h1m5.01 0h1m2 0h1m4.01 0h1m18 0h1m4.01 0h1m17 0h1m7.02 0h1m27.1 0h1M2.002 88.92h1m1 0h1m9.02 0h1m1 0h1m1 0h1m1 0h1m4.01 0h1m5.01 0h1m2 0h1m2 0h2m7.02 0h1m9.02 0h1m18 0h1m3.01 0h1m17 0h1m15 0h1m10 0h1M4.007 89.91h1m3.01 0h1m5.01 0h2m1 0h1m4.01 0h1m1 0h1m15 0h1m5.01 0h1m38.1 0h1m19 0h1m8.02 0h1m6.01 0h1m5.01 0h1M4.007 90.91h3.01m3.01 0h1m1 0h1m1 0h1m1 0h1m2 0h1m6.01 0h2m1 0h1m1 0h2m4.01 0h2m1 0h1m35.1 0h1m26.1 0h1m17 0h1M1 91.91h1m1 0h2m5.01 0h1m7.02 0h1m2 0h1m1 0h1m17 0h2m19 0h1m9.02 0h1M12.03 92.91h1m2 0h2m2 0h1m7.02 0h1m4.01 0h1m52.1 0h1M1 93.91h2m6.01 0h2m3.01 0h1m4.01 0h1m35.1 0h1m21 0h1m32.1 0h1m3.01 0h1M2.002 94.91h1m4.01 0h1m4.01 0h2m15 0h1m25.1 0h1M1 95.91h1m5.01 0h2m1 0h1m11 0h1m5.01 0h1m4.01 0h1m1 0h1m29.1 0h1m9.02 0h1m8.02 0h1m9.02 0h1m19 0h1m4.01 0h1m10 0h1M3.005 96.91h1m5.01 0h1m1 0h1m4.01 0h1m2 0h2m3.01 0h1m8.02 0h1m3.01 0h1m12 0h1m7.02 0h1m55.1 0h1M1 97.9h1m4.01 0h3.01m4.01 0h1m1 0h1m2 0h1m7.02 0h1m5.01 0h1m1 0h1m62.1 0h1m5.01 0h1m9.02 0h1M4.007 98.9h3.01m2 0h1m1 0h2m5.01 0h2m2 0h3.01m4.01 0h2m3.01 0h1m26.1 0h2m39.1 0h1m9.02 0h1M2.002 99.9h1m3.01 0h2m18 0h1m2 0h1m1 0h1m1 0h1m4.01 0h1m12 0h1m3.01 0h1m10 0h1m43.1 0h1m8.02 0h1M1 100.9h3.01m1 0h1m8.02 0h2m1 0h1m3.01 0h1m6.01 0h1m3.01 0h2m11 0h1m29.1 0h2m5.01 0h2M3.005 101.9h1m2 0h2m8.02 0h1m2 0h1m2 0h1m4.01 0h1m1 0h1m12 0h1m13 0h1m9.02 0h1m17 0h1m25.1 0h1m16 0h1M1 102.9h1m2 0h1m1 0h5.01m1 0h1m1 0h1m1 0h1m1 0h1m13 0h1m4.01 0h1m62.1 0h2m4.01 0h1m14 0h1m4.01 0h1M7.014 103.9h1m1 0h2m6.01 0h2m2 0h2m1 0h1m4.01 0h1m2 0h4.01m17 0h1m46.1 0h1M1 104.9h2m5.01 0h1m4.01 0h3.01m3.01 0h1m1 0h1m1 0h1m2 0h1m7.02 0h1m3.01 0h1m3.01 0h1m25.1 0h1m7.02 0h1m19 0h1M4.007 105.9h2m6.01 0h1m2 0h1m2 0h1m4.01 0h1m3.01 0h1m49.1 0h1m5.01 0h1m14 0h1m7.02 0h1M3.005 106.9h1m1 0h1m1 0h1m20 0h1m23.1 0h1m17 0h1M3.005 107.9h1m4.01 0h1m45.1 0h1m15 0h1M12.03 108.9h1m12 0h1m3.01 0h1m45.1 0h1m8.02 0h1M3.005 109.9h1m14 0h1m11 0h1M9.018 110.9h1M19.04 111.9h1m29.1 0h1m1 0h1M7.014 112.9h1m36.1 0h1m5.01 0h1m20 0h1m10 0h1m3.01 0h3.01m4.01 0h1m4.01 0h1m20 0h1m6.01 0h1M31.07 113.9h1m8.02 0h1m12 0h2m4.01 0h3.01m5.01 0h1m1 0h1m1 0h1m16 0h2m12 0h3.01m17 0h2M26.06 114.9h1m18 0h1M22.05 115.9h1M6.012 116.9h1m16 0h1m7.02 0h1m1 0h1m56.1 0h1M7.014 117.9h1m27.1 0h1m7.02 0h1m17 0h3.01m7.02 0h1m6.01 0h1m1 0h1m4.01 0h1m2 0h1m3.01 0h1m8.02 0h1m2 0h2m2 0h1m1 0h2m5.01 0h1m5.01 0h4.01m3.01 0h1M42.09 118.9h1m5.01 0h1m61.1 0h1M10.02 119.9h1m91.2 0h1m20 0h1m1 0h1M12.03 120.9h1m19 0h1m5.01 0h1m5.01 0h1m9.02 0h1m16 0h1m3.01 0h1m2 0h4.01m4.01 0h1m3.01 0h1m2 0h1m19 0h1m3.01 0h1m6.01 0h1M16.03 121.9h1m7.02 0h1m36.1 0h1m10 0h1m10 0h1m1 0h1m15 0h2m5.01 0h2m19 0h2M27.06 123.9h1m3.01 0h1M32.07 124.9h1m11 0h2M49.11 125.9h1m9.02 0h1m38.1 0h1m4.01 0h2m8.02 0h1m3.01 0h1m4.01 0h1m3.01 0h2M21.05 126.9h1m20 0h1m20 0h1m7.02 0h1m33.1 0h1m19 0h2M1 127.9h2m41.1 0h1m16 0h1m10 0h1m35.1 0h1m20 0h1M4.007 128.9h1m27.1 0h1m7.02 0h1m18 0h1M8.016 129.9h1m32.1 0h1m5.01 0h1M66.15 130.9h2m14 0h1m5.01 0h1m4.01 0h1m6.01 0h1m7.02 0h1M42.09 131.9h1M19.04 132.9h1m4.01 0h1m5.01 0h1m19 0h1m10 0h1m36.1 0h1M21.05 133.9h1m68.2 0h1m2 0h1m2 0h1m1 0h1m11 0h1m1 0h1m1 0h1m10 0h1M10.02 134.9h1m45.1 0h1m14 0h1m4.01 0h1m2 0h2m4.01 0h1m9.02 0h2m3.01 0h1m3.01 0h1m5.01 0h2m15 0h2m1 0h1M18.04 135.9h1m6.01 0h1m85.2 0h1M7.014 136.9h1m5.01 0h1m24.1 0h1m22.1 0h1m22.1 0h1M24.05 137.9h1m24.1 0h1m8.02 0h1M25.06 138.9h1M29.06 139.9h1m14 0h1m46.1 0h1m4.01 0h1m28.1 0h1M39.09 140.8h1m11 0h1m15 0h1m17 0h1M6.012 141.8h1m43.1 0h1M55.12 142.8h1M2.002 144.8h1m22.1 0h1M8.016 145.8h1m21 0h1m47.1 0h1m25.1 0h1m12 0h1m2 0h1m2 0h1M42.09 146.8h1m35.1 0h1m4.01 0h2m4.01 0h1m12 0h1m16 0h1m3.01 0h1M5.009 147.8h1m21 0h1M14.03 148.8h1m63.1 0h1M1 149.8h1m18 0h1m11 0h1m1 0h1m22.1 0h1M9.018 150.8h1m13 0h1m4.01 0h1m12 0h1m1 0h2m10 0h1m33.1 0h1M17.04 151.8h1m23.1 0h1m16 0h1m19 0h1m4.01 0h1m5.01 0h1m8.02 0h1m2 0h1m2 0h1m21 0h1M6.012 152.8h1m32.1 0h1M2.002 153.8h1m18 0h1m23.1 0h1M15.03 154.8h1m29.1 0h1m2 0h1m12 0h1m9.02 0h2m10 0h1m14 0h1M16.03 155.8h1M33.07 156.8h2M39.09 157.8h1m10 0h1m6.01 0h1M14.03 158.8h1m22.1 0h2M14.03 159.8h1m1 0h1m67.2 0h1m18 0h1m6.01 0h1M21.05 160.8h1m21 0h1m1 0h1m8.02 0h2M6.012 161.8h1m41.1 0h1m12 0h1m8.02 0h1m15 0h1m18 0h1m19 0h1m1 0h1M5.009 162.8h1m4.01 0h1m10 0h1m20 0h1m19 0h1M8.016 163.8h1m43.1 0h1m70.2 0h1M3.005 164.8h1m6.01 0h1m17 0h1m85.2 0h1m4.01 0h1m10 0h1M43.1 165.8h1m83.2 0h1M3.005 166.8h1m7.02 0h1m60.1 0h1m2 0h1m2 0h3.01m9.02 0h1m13 0h1m25.1 0h1M5.009 167.8h1m5.01 0h1m6.01 0h1m13 0h1M2.002 168.8h1m1 0h1m39.1 0h1m1 0h1M25.06 169.8h1m15 0h1m36.1 0h1m23.1 0h1m16 0h1m6.01 0h1M30.07 170.8h1m18 0h1M8.016 171.8h1m15 0h1m20 0h1m9.02 0h1m63.1 0h1M13.03 172.8h1m17 0h1m10 0h1m12 0h1m22.1 0h1m6.01 0h1m3.01 0h1m8.02 0h1M16.03 173.8h1m94.2 0h1M7.014 174.8h1m42.1 0h1m37.1 0h1m28.1 0h1M7.014 175.8h1m8.02 0h1m3.01 0h1m8.02 0h1m23.1 0h1M38.09 176.8h1m57.1 0h1m1 0h1m5.01 0h1m2 0h1m22.1 0h1M5.009 177.8h1m1 0h1m47.1 0h1M37.08 178.8h1m8.02 0h1m9.02 0h1m26.1 0h1"/>
<path stroke="rgb(204, 230, 241)" d="M9.018 23h1m18 0h1m11 0h2m1 0h1m10 0h1m3.01 0h3.01m1 0h1M30.07 24h1m9.02 0h1m14 0h2m2 0h1m1 0h2M58.13 25h1m58.1 0h1M28.06 26h1m14 0h1m19 0h1M35.08 27.99h1m4.01 0h1m18 0h1m1 0h1m1 0h1m31.1 0h1M13.03 28.99h1m25.1 0h1m2 0h1m20 0h1M39.09 29.99h1m14 0h1M4.007 30.99h1m25.1 0h1m8.02 0h2m4.01 0h1m8.02 0h1m2 0h1m1 0h1m3.01 0h1m44.1 0h1M40.09 31.99h2m11 0h4.01m3.01 0h1M11.02 32.99h1m43.1 0h2m2 0h1m3.01 0h1M29.06 33.99h1m13 0h1m15 0h1m2 0h1M28.06 34.98h1M29.06 35.98h1m13 0h1m16 0h1M28.06 36.98h1m14 0h1m10 0h1m3.01 0h1m4.01 0h1M40.09 37.98h1m12 0h1m2 0h3.01m4.01 0h1M40.09 38.98h1m1 0h2m12 0h1m5.01 0h1m23.1 0h1M29.06 39.98h1m9.02 0h1m19 0h1m21 0h1M43.1 40.98h1m9.02 0h1m4.01 0h1m11 0h1m17 0h1M18.04 41.98h1m23.1 0h1m14 0h1m3.01 0h1m20 0h1M8.016 42.97h1m9.02 0h1m21 0h1m2 0h1m9.02 0h1m3.01 0h1m2 0h1m2 0h1m6.01 0h1m54.1 0h1M55.12 43.97h2m5.01 0h1M55.12 44.97h1m3.01 0h1m3.01 0h1m28.1 0h1M29.06 45.97h2m9.02 0h1m1 0h2m10 0h1m1 0h2m1 0h3.01M28.06 46.97h1m25.1 0h1M40.09 47.97h1m12 0h2M41.09 48.97h2m15 0h1m21 0h1M10.02 49.96h3.01m2 0h1m6.01 0h1m1 0h1m6.01 0h1m5.01 0h1M7.014 50.96h3.01m1 0h1m4.01 0h1m3.01 0h1m2 0h2m1 0h1m1 0h3.01m4.01 0h1M1 51.96h1m2 0h1m6.01 0h1m3.01 0h1m7.02 0h1m3.01 0h1m6.01 0h1m54.1 0h1M1 52.96h1m6.01 0h2m1 0h1m6.01 0h1m3.01 0h1m1 0h1m1 0h3.01m5.01 0h1m5.01 0h1m35.1 0h1m24.1 0h1M3.005 53.96h2m2 0h1m4.01 0h1m4.01 0h1m1 0h1m5.01 0h1m3.01 0h1m4.01 0h1m2 0h1M2.002 54.96h1m5.01 0h1m1 0h1m6.01 0h2m6.01 0h1m3.01 0h1m6.01 0h1m1 0h1m36.1 0h1M3.005 55.96h1m1 0h1m1 0h1m6.01 0h1m6.01 0h1m1 0h1m2 0h2m3.01 0h1m2 0h1m1 0h1m93.2 0h1M2.002 56.96h3.01m1 0h1m7.02 0h1m1 0h1m4.01 0h1m3.01 0h1m3.01 0h1m2 0h2m1 0h1m1 0h1m38.1 0h1M7.014 57.95h1m2 0h1m3.01 0h1m8.02 0h1m3.01 0h1M7.014 58.95h3.01m2 0h1m9.02 0h1m3.01 0h3.01m1 0h1m3.01 0h1m1 0h1m8.02 0h1M8.016 59.95h1m1 0h1m8.02 0h1m4.01 0h3.01m3.01 0h1m6.01 0h1m37.1 0h2M24.05 60.95h2m6.01 0h2M9.018 61.95h1m1 0h1m4.01 0h1m4.01 0h1m9.02 0h1m3.01 0h1m2 0h1m22.1 0h1M3.005 62.95h1m5.01 0h2m3.01 0h1m1 0h1m1 0h2m4.01 0h1m5.01 0h1m1 0h4.01M2.002 63.95h2m3.01 0h1m1 0h1m1 0h1m2 0h1m10 0h1m3.01 0h1m8.02 0h1m50.1 0h1m14 0h1M2.002 64.95h1m2 0h1m5.01 0h1m2 0h1m1 0h1m6.01 0h1m3.01 0h1m1 0h1m6.01 0h1m1 0h1m4.01 0h1M1 65.94h1m15 0h1m5.01 0h1m2 0h1m3.01 0h4.01m2 0h1m17 0h1M1 66.94h1m7.02 0h2m14 0h1m3.01 0h1m6.01 0h1m5.01 0h1m11 0h1m1 0h1M2.002 67.94h1m1 0h1m16 0h1m1 0h1m3.01 0h3.01m4.01 0h1m5.01 0h1m31.1 0h1M6.012 68.94h2m29.1 0h2M12.03 69.94h1m1 0h1m6.01 0h1m4.01 0h1m2 0h1m3.01 0h2m2 0h1m2 0h1M1 70.94h1m13 0h1m4.01 0h1m2 0h2m4.01 0h3.01M2.002 71.94h1m2 0h3.01m1 0h2m4.01 0h1m4.01 0h1m2 0h1m4.01 0h3.01m2 0h2m1 0h1m1 0h1m64.1 0h1m19 0h1M22.05 72.94h1m1 0h3.01m3.01 0h1m1 0h2m3.01 0h1m5.01 0h1m39.1 0h1M4.007 73.93h1m4.01 0h1m10 0h1m3.01 0h1m1 0h1m5.01 0h1m1 0h2m1 0h1M1 74.93h2m2 0h1m1 0h1m3.01 0h1m6.01 0h2m1 0h1m4.01 0h1m1 0h1m2 0h1m3.01 0h2M5.009 75.93h1m1 0h1m2 0h1m3.01 0h2m4.01 0h1m3.01 0h2m5.01 0h1m5.01 0h1M2.002 76.93h1m1 0h1m2 0h3.01m2 0h1m1 0h2m5.01 0h1m2 0h2m7.02 0h1M3.005 77.93h1m3.01 0h1m2 0h1m5.01 0h1m21 0h1M3.005 78.93h1m7.02 0h1m10 0h2m3.01 0h1m5.01 0h1m3.01 0h1M2.002 79.93h1m4.01 0h2m7.02 0h1m1 0h1m2 0h1m1 0h2m1 0h2m5.01 0h1M1 80.93h2m4.01 0h1m1 0h3.01m3.01 0h1m5.01 0h1m4.01 0h1m7.02 0h1m2 0h2m33.1 0h1M2.002 81.92h2m3.01 0h1m4.01 0h1m9.02 0h1m1 0h1m1 0h1m2 0h1m2 0h1m3.01 0h1m38.1 0h1M4.007 82.92h1m10 0h2m5.01 0h1m1 0h2m7.02 0h2m1 0h1m1 0h1m10 0h1m19 0h1m25.1 0h1M1 83.92h1m4.01 0h3.01m3.01 0h1m7.02 0h1m5.01 0h1m2 0h1m3.01 0h3.01m5.01 0h1M1 84.92h1m5.01 0h1m6.01 0h1m8.02 0h1m2 0h2m1 0h1m5.01 0h1M7.014 85.92h1m1 0h1m1 0h1m2 0h1m6.01 0h2m4.01 0h1m1 0h1m3.01 0h1m3.01 0h1M1 86.92h3.01m4.01 0h1m13 0h1m2 0h3.01m3.01 0h1m14 0h1m57.1 0h1M2.002 87.92h1m4.01 0h1m1 0h1m2 0h1m2 0h1m5.01 0h1m2 0h2m1 0h1m3.01 0h1m2 0h1m11 0h1m10 0h1m40.1 0h1M6.012 88.92h1m2 0h1m1 0h1m17 0h1m2 0h1M1 89.91h1m3.01 0h2m20 0h1m2 0h1m1 0h1m1 0h1m2 0h2M8.016 90.91h1m4.01 0h1m1 0h1m5.01 0h1m3.01 0h1m7.02 0h1m1 0h1M2.002 91.91h1m2 0h1m2 0h1m3.01 0h1m1 0h1m1 0h1m2 0h2m1 0h1m10 0h1m2 0h1m1 0h1M7.014 92.91h4.01m3.01 0h1m5.01 0h1m2 0h1m2 0h1m4.01 0h1m2 0h1M8.016 93.91h1m3.01 0h2m1 0h3.01m4.01 0h1m4.01 0h1m1 0h1m4.01 0h1m3.01 0h1m4.01 0h1m16 0h1m10 0h1m4.01 0h1M6.012 94.91h1m1 0h1m1 0h1m8.02 0h1m2 0h1m3.01 0h2m3.01 0h1m4.01 0h1m85.2 0h1m7.02 0h1M3.005 95.91h1m2 0h1m2 0h1m1 0h1m4.01 0h1m3.01 0h1m2 0h2m6.01 0h2m4.01 0h1M2.002 96.91h1m1 0h2m1 0h2m4.01 0h2m11 0h2m3.01 0h1m2 0h2m2 0h1M11.02 97.9h1m2 0h1m5.01 0h2m1 0h2m11 0h1m4.01 0h1m33.1 0h1M2.002 98.9h1m7.02 0h1m2 0h2m6.01 0h1m4.01 0h1m9.02 0h2m15 0h1m55.1 0h1M4.007 99.9h1m4.01 0h1m2 0h2m1 0h2m3.01 0h1m4.01 0h1m2 0h1m3.01 0h1m3.01 0h1m3.01 0h1m35.1 0h2m25.1 0h1M7.014 100.9h2m7.02 0h1m8.02 0h1m1 0h1m3.01 0h1M2.002 101.9h1m1 0h2m3.01 0h3.01m1 0h2m3.01 0h1m1 0h1m3.01 0h2m8.02 0h2m4.01 0h1m10 0h1M5.009 102.9h1m13 0h2m6.01 0h2m1 0h1m3.01 0h3.01m30.1 0h1M1 103.9h1m1 0h1m2 0h1m8.02 0h2m3.01 0h1m4.01 0h1m2 0h1m1 0h2m4.01 0h1m14 0h1M4.007 104.9h1m4.01 0h1m12 0h1m1 0h1m2 0h1m5.01 0h1m3.01 0h1m37.1 0h1M2.002 105.9h1m6.01 0h1m6.01 0h1m9.02 0h1m2 0h1m1 0h1m1 0h1m1 0h2M42.09 106.9h1m23.1 0h1M91.21 107.9h1m21 0h1M37.08 109.9h1M3.005 110.9h1M23.05 113.9h1M30.07 114.9h1m93.2 0h1M46.1 115.9h1M29.06 116.9h1m34.1 0h1M36.08 117.9h1m42.1 0h1m18 0h1M64.15 118.9h1M34.08 120.9h1M40.09 121.9h1M103.2 122.9h1M54.12 123.9h1M94.21 124.9h1M27.06 125.9h1m22.1 0h1M128.3 126.9h1M11.02 127.9h1m75.2 0h1M14.03 128.9h1M54.12 130.9h1M23.05 131.9h1m10 0h1m49.1 0h1M7.014 133.9h1M89.2 134.9h1m29.1 0h1M93.21 135.9h1M29.06 136.9h1m80.2 0h1M60.14 139.9h1m55.1 0h1M64.15 140.8h1M62.14 141.8h1M73.17 142.8h1m29.1 0h1M22.05 144.8h1m3.01 0h1M46.1 145.8h1M116.3 146.8h1M87.2 147.8h1m9.02 0h1M28.06 149.8h1m76.2 0h1m15 0h1M11.02 150.8h1m22.1 0h1m11 0h1m70.2 0h1M51.12 151.8h1m22.1 0h1m1 0h1M61.14 153.8h1m37.1 0h1m5.01 0h1M43.1 154.8h1M76.17 155.8h1m4.01 0h1M16.03 156.8h1M59.13 157.8h1M117.3 158.8h2M19.04 160.8h1m15 0h1M46.1 161.8h1M36.08 166.8h1m46.1 0h1M67.15 167.8h1m18 0h1M59.13 168.8h1m64.1 0h1M82.19 169.8h1M71.16 170.8h1M82.19 171.8h1M27.06 173.8h1m57.1 0h1M127.3 175.8h1M73.17 176.8h1M65.15 177.8h2M15.03 178.8h1"/>
<path stroke="rgb(228, 244, 241)" d="M42.09 23h1m12 0h1M42.09 24h1M40.09 25h1m15 0h2M57.13 26h1M41.09 26.99h1m12 0h1m8.02 0h1M43.1 27.99h1m10 0h1m1 0h1M56.13 28.99h3.01M57.13 29.99h2m2 0h1M58.13 30.99h1m2 0h1M42.09 31.99h1M43.1 32.99h1M42.09 33.99h1m11 0h1m2 0h1M39.09 34.98h1m1 0h1m16 0h1m1 0h2m1 0h1M1 35.98h1m38.1 0h1m16 0h1M41.09 36.98h1m11 0h1m5.01 0h1m2 0h1M41.09 37.98h1m19 0h2M53.12 38.98h1m1 0h1M42.09 39.98h1M42.09 40.98h1m16 0h1m1 0h1M1 41.98h1m41.1 0h1m9.02 0h1m1 0h1m2 0h1M1 42.97h1m56.1 0h1m3.01 0h1M40.09 43.97h1m16 0h1M40.09 44.97h1m2 0h1m13 0h1m4.01 0h1M1 45.97h1m53.1 0h1m6.01 0h1M39.09 46.97h1m1 0h1m16 0h1M42.09 47.97h1m18 0h1M43.1 48.97h1m11 0h1m3.01 0h1M4.007 49.96h1m3.01 0h1m12 0h1m6.01 0h1m5.01 0h1M1 50.96h1m3.01 0h1m8.02 0h1m21 0h1M2.002 51.96h2m1 0h1m2 0h1m9.02 0h1m2 0h2m1 0h1m3.01 0h3.01m1 0h1m2 0h1m1 0h1M2.002 52.96h1m10 0h2m8.02 0h1m9.02 0h1m1 0h1M28.06 53.96h1m1 0h3.01m3.01 0h1M7.014 54.96h1m7.02 0h1m5.01 0h1m4.01 0h1m3.01 0h1m1 0h1M15.03 55.96h2m8.02 0h1m2 0h3.01m1 0h1m5.01 0h1M27.06 56.96h1m3.01 0h1M5.009 57.95h1m20 0h1m3.01 0h1m2 0h1M3.005 58.95h1m7.02 0h1m2 0h1m5.01 0h2m1 0h1m8.02 0h2m3.01 0h1M1 59.95h1m10 0h1m18 0h1m2 0h3.01m1 0h1M6.012 60.95h1m19 0h1m10 0h1M6.012 61.95h1m1 0h1m5.01 0h1m10 0h1m4.01 0h1m1 0h2m2 0h1M6.012 62.95h1m1 0h1m6.01 0h1m12 0h2m7.02 0h1M4.007 63.95h1m7.02 0h1m6.01 0h1m11 0h2m3.01 0h1M7.014 64.95h1m2 0h1m17 0h1m2 0h1m3.01 0h1m1 0h1M13.03 65.94h1m8.02 0h1m5.01 0h1M13.03 66.94h1m1 0h1m15 0h1m2 0h1M10.02 67.94h2m3.01 0h1m2 0h1m1 0h1m1 0h1m1 0h1m5.01 0h1m1 0h1m2 0h1M16.03 68.94h1m2 0h1m3.01 0h1m2 0h1m4.01 0h1m3.01 0h2M7.014 69.94h1m1 0h1m3.01 0h1m2 0h1m5.01 0h2m1 0h1m1 0h2m1 0h1m4.01 0h1m2 0h1M8.016 70.94h1m2 0h2m8.02 0h1m4.01 0h1m1 0h1m6.01 0h1M21.05 71.94h1m10 0h1M6.012 72.94h1m3.01 0h1m3.01 0h1m14 0h1m5.01 0h2M13.03 73.93h1m7.02 0h2m4.01 0h1m8.02 0h1m1 0h1M3.005 74.93h2m12 0h1m5.01 0h1m6.01 0h1m1 0h3.01M22.05 75.93h1m10 0h1m4.01 0h1M17.04 76.93h2m4.01 0h1m2 0h1m3.01 0h2m6.01 0h1M2.002 77.93h1m9.02 0h2m1 0h1m5.01 0h1m3.01 0h1m1 0h2m3.01 0h3.01m4.01 0h1M12.03 78.93h1m2 0h1m4.01 0h2m3.01 0h1m4.01 0h1m4.01 0h1M6.012 79.93h1m5.01 0h1m23.1 0h1m1 0h1M3.005 80.93h1m9.02 0h1m11 0h1m5.01 0h1M30.07 81.92h1m2 0h2M10.02 82.92h1m3.01 0h1m8.02 0h1m2 0h1m3.01 0h1m1 0h1m2 0h1m1 0h1m37.1 0h1M3.005 83.92h1m17 0h1m6.01 0h1m2 0h1M12.03 84.92h1m8.02 0h1m6.01 0h1m4.01 0h1m2 0h1M24.05 85.92h1m1 0h1m5.01 0h1M9.018 86.92h2m3.01 0h1m8.02 0h2m4.01 0h1m3.01 0h1m3.01 0h1M10.02 87.92h1m3.01 0h1m1 0h1m1 0h3.01m16 0h1M7.014 88.92h2m12 0h1m2 0h1m11 0h1M9.018 89.91h1m6.01 0h1m3.01 0h1m4.01 0h1m5.01 0h1m3.01 0h2M11.02 90.91h1m10 0h2m10 0h1M7.014 91.91h1m7.02 0h1m9.02 0h3.01m3.01 0h1m2 0h1m40.1 0h1M2.002 92.91h1m3.01 0h1m4.01 0h1m9.02 0h1m3.01 0h1m2 0h1m1 0h1m4.01 0h2M4.007 93.91h1m13 0h1m4.01 0h1m2 0h1m3.01 0h2m1 0h1M14.03 94.91h1m5.01 0h2m2 0h2m4.01 0h1m2 0h1m1 0h1m2 0h1m1 0h1M18.04 95.91h1m2 0h1m3.01 0h2m3.01 0h1m3.01 0h1m3.01 0h1M10.02 96.91h1m10 0h3.01m8.02 0h1M19.04 97.9h1m5.01 0h1m2 0h1m1 0h2m1 0h1m3.01 0h2M28.06 98.9h1m4.01 0h1m4.01 0h1M21.05 99.9h1m1 0h1m6.01 0h1m3.01 0h2m1 0h1M6.012 100.9h1m2 0h1m13 0h1M1 101.9h1m10 0h1m10 0h1m2 0h1m1 0h1m9.02 0h1M2.002 102.9h1m18 0h5.01m7.02 0h1m4.01 0h1M2.002 103.9h1m1 0h1m21 0h1M7.014 104.9h1m3.01 0h2m15 0h2m1 0h1m3.01 0h1M7.014 105.9h1m2 0h1m9.02 0h1m7.02 0h1m3.01 0h1m5.01 0h1M79.18 107.9h1m8.02 0h1m13 0h1M97.22 109.9h1M117.3 110.9h1M120.3 111.9h1M81.18 114.9h1m29.1 0h1M73.17 116.9h1m36.1 0h1M65.15 118.9h1m26.1 0h1m32.1 0h1m4.01 0h1M118.3 120.9h1M87.2 121.9h1M72.16 122.9h1m2 0h1m19 0h1M79.18 124.9h1m41.1 0h1m5.01 0h1M89.2 126.9h1m19 0h1m1 0h1M63.14 127.9h1m55.1 0h1M68.15 128.9h1m19 0h1m24.1 0h1m15 0h1M63.14 130.9h1m50.1 0h1m10 0h1M77.18 132.9h1m45.1 0h1m6.01 0h1M102.2 133.9h1M65.15 134.9h1M67.15 139.9h1M78.18 141.8h1m22.1 0h1M115.3 142.8h1M69.16 143.8h1m2 0h1M64.15 144.8h1m7.02 0h1M84.19 145.8h1m9.02 0h1M80.18 147.8h1m11 0h1m25.1 0h1M95.22 148.8h1m20 0h1M99.23 150.8h1m18 0h1M64.15 151.8h1M118.3 152.8h1M71.16 153.8h1m15 0h1m14 0h2M85.19 154.8h1M105.2 155.8h1m17 0h1M85.19 156.8h1m18 0h1M74.17 157.8h1m9.02 0h1m5.01 0h1m9.02 0h1M130.3 158.8h1M73.17 159.8h1m17 0h1M95.22 160.8h1m31.1 0h1M99.23 161.8h1M87.2 162.8h1m18 0h1M78.18 163.8h1m2 0h1m19 0h1m16 0h1M101.2 164.8h1m7.02 0h1m14 0h1M83.19 165.8h1m2 0h1M85.19 166.8h1M84.19 167.8h1m29.1 0h1M64.15 168.8h1M100.2 170.8h1M77.18 171.8h1M64.15 173.8h1m11 0h1M66.15 174.8h1m6.01 0h1m52.1 0h1M69.16 175.8h1M71.16 176.8h1M62.14 178.8h1m24.1 0h1m21 0h1m15 0h1"/>
<path stroke="rgb(239, 249, 220)" d="M1 23h1m37.1 0h1m17 0h1m5.01 0h1M43.1 24h1m10 0h1M61.14 25h1M41.09 26h1M62.14 26.99h1M41.09 27.99h1M40.09 28.99h1m14 0h1m5.01 0h2M55.12 29.99h1M1 31.99h1m41.1 0h1m13 0h1m1 0h1M54.12 32.99h1M40.09 33.99h1M43.1 34.98h1M39.09 35.98h1m14 0h1m4.01 0h1M1 36.98h1M54.12 37.98h1m5.01 0h1M30.07 39.98h1m9.02 0h1m15 0h1m4.01 0h1M40.09 40.98h1m13 0h1M60.14 41.98h1M39.09 42.97h1m21 0h1M30.07 43.97h1m22.1 0h2m6.01 0h1M58.13 44.97h1M53.12 45.97h1m9.02 0h1M57.13 46.97h1m4.01 0h2M41.09 47.97h1m15 0h1m4.01 0h1M56.13 48.97h1M9.018 49.96h1m8.02 0h1m4.01 0h1m1 0h2m8.02 0h2M6.012 50.96h1m27.1 0h1M7.014 51.96h1m2 0h1m9.02 0h1m5.01 0h1m6.01 0h1m2 0h1M29.06 52.96h1m2 0h1m4.01 0h1M10.02 53.96h1m2 0h1m21 0h1M11.02 54.96h1m15 0h1M6.012 55.96h1m1 0h1m9.02 0h1m18 0h1M10.02 56.96h1m9.02 0h1m1 0h1m5.01 0h1m1 0h1M15.03 57.95h1m5.01 0h2m8.02 0h2m1 0h1M2.002 58.95h1m3.01 0h1m3.01 0h1m4.01 0h1m9.02 0h1m3.01 0h1m8.02 0h1M7.014 59.95h1m15 0h1m4.01 0h1M11.02 60.95h1m5.01 0h3.01m11 0h1M7.014 61.95h1m10 0h2M25.06 62.95h1m5.01 0h1M16.03 63.95h1m4.01 0h1m2 0h1m1 0h1m6.01 0h1M21.05 64.95h2M8.016 65.94h1m1 0h1m4.01 0h1m5.01 0h1m2 0h1m4.01 0h1M2.002 66.94h1m3.01 0h1m17 0h1m1 0h1m11 0h1M9.018 67.94h1m3.01 0h1m11 0h1m11 0h1M28.06 68.94h2M4.007 69.94h1m15 0h1m10 0h1m4.01 0h1M3.005 70.94h1m3.01 0h1m24.1 0h1m3.01 0h1M24.05 71.94h1M15.03 72.94h3.01m3.01 0h1m1 0h1m4.01 0h1m2 0h1M7.014 73.93h1m11 0h1m5.01 0h1m4.01 0h1M9.018 74.93h1m3.01 0h1m8.02 0h1m1 0h2M8.016 75.93h1m4.01 0h1m12 0h1m8.02 0h2M26.06 77.93h1m9.02 0h1M14.03 78.93h1m13 0h1m2 0h1m2 0h1m3.01 0h1M29.06 79.93h1m2 0h1m1 0h1m2 0h1M22.05 80.93h1m1 0h1m3.01 0h1m3.01 0h1M28.06 81.92h1M28.06 82.92h2m1 0h1M10.02 83.92h1m12 0h1m1 0h1m11 0h1M4.007 84.92h1m13 0h2m4.01 0h2m8.02 0h1M31.07 85.92h1m3.01 0h2M28.06 86.92h1m1 0h1m3.01 0h3.01M28.06 87.92h3.01m5.01 0h1M5.009 88.92h1m13 0h1m7.02 0h2m1 0h1M2.002 89.91h1m7.02 0h1m12 0h1M20.04 90.91h1m7.02 0h1M24.05 91.91h1m4.01 0h2m1 0h1m2 0h1m1 0h1M18.04 92.91h1m10 0h1M6.012 93.91h1m17 0h1m7.02 0h1m2 0h3.01M4.007 94.91h2m3.01 0h1m1 0h1m22.1 0h1M4.007 95.91h1m31.1 0h1M1 96.91h1m13 0h1m1 0h1m10 0h1m1 0h1M22.05 97.9h1m4.01 0h1m1 0h1M8.016 98.9h1m23.1 0h1m2 0h1M8.016 99.9h1m1 0h2m7.02 0h1m2 0h1m4.01 0h1M11.02 100.9h1m14 0h1m2 0h1M15.03 101.9h1m15 0h1m1 0h1M29.06 102.9h1M14.03 103.9h1m8.02 0h1m3.01 0h1m10 0h1M10.02 104.9h1m14 0h1m6.01 0h1m3.01 0h1M17.04 105.9h1m1 0h1m14 0h1M84.19 106.9h1m31.1 0h1M104.2 107.9h1m16 0h1m7.02 0h1M127.3 108.9h1M60.14 109.9h1m26.1 0h1m14 0h1m9.02 0h1m17 0h1M60.14 110.9h1M77.18 111.9h1m7.02 0h2M92.21 113.9h1M94.21 114.9h1m15 0h1M84.19 115.9h1m11 0h1m5.01 0h1m24.1 0h1M65.15 116.9h1m29.1 0h1m4.01 0h1M107.2 117.9h1M67.15 118.9h1M75.17 119.9h1m12 0h1m4.01 0h1M67.15 121.9h1m46.1 0h1M86.2 122.9h1m9.02 0h1m4.01 0h1M81.18 123.9h1M118.3 124.9h1M60.14 125.9h1m34.1 0h1m5.01 0h1m7.02 0h1M108.2 126.9h1M69.16 127.9h1M63.14 128.9h1m46.1 0h1M79.18 129.9h1m12 0h1m28.1 0h1M64.15 130.9h1m5.01 0h1m13 0h1M81.18 131.9h1m13 0h1M73.17 132.9h1m5.01 0h2m20 0h1m23.1 0h1M71.16 133.9h1m57.1 0h1M80.18 135.9h1M86.2 136.9h1m18 0h1m6.01 0h1M73.17 137.9h1m2 0h1m49.1 0h1M70.16 138.9h1m11 0h1m12 0h1M64.15 139.9h1m57.1 0h1M125.3 140.8h1M63.14 141.8h1m17 0h1m17 0h1m15 0h1M86.2 142.8h1m7.02 0h1m14 0h1m4.01 0h1m14 0h1M102.2 143.8h1m11 0h1m12 0h1M92.21 144.8h1m19 0h1M86.2 146.8h1m10 0h1M81.18 147.8h1m34.1 0h1M61.14 148.8h1M120.3 149.8h1M98.22 150.8h1M107.2 151.8h1M82.19 152.8h1m19 0h1m2 0h2m2 0h1m19 0h1M86.2 153.8h1m43.1 0h1M66.15 154.8h1m34.1 0h1m21 0h1M63.14 155.8h1m13 0h1m12 0h1m22.1 0h1M106.2 156.8h1M69.16 159.8h1m36.1 0h1M98.22 160.8h1M78.18 161.8h1M85.19 162.8h1m2 0h1M67.15 163.8h1m54.1 0h1M72.16 164.8h1m8.02 0h1M61.14 165.8h1m32.1 0h1m2 0h1M71.16 166.8h1m10 0h1m9.02 0h1m14 0h1M85.19 167.8h1M71.16 168.8h1m50.1 0h1M112.3 169.8h1M119.3 170.8h1M87.2 172.8h1m14 0h2m8.02 0h1m14 0h2M75.17 173.8h1m2 0h1m26.1 0h1M96.22 175.8h1m8.02 0h1m9.02 0h1m3.01 0h1m3.01 0h1M77.18 177.8h1m23.1 0h1m21 0h1m6.01 0h1M76.17 178.8h1m29.1 0h1"/>
<path stroke="rgb(250, 253, 199)" d="M55.12 25h1m3.01 0h1M42.09 26h1m12 0h1m6.01 0h1M28.06 26.99h1m27.1 0h1M57.13 27.99h1M54.12 28.99h1M42.09 29.99h1M55.12 30.99h1M58.13 31.99h1M55.12 33.99h1m5.01 0h1M55.12 34.98h1m3.01 0h1M54.12 39.98h1M57.13 40.98h1M42.09 42.97h1m11 0h1M58.13 43.97h1m4.01 0h1M54.12 44.97h1m1 0h1M60.14 46.97h1M53.12 48.97h2M27.06 49.96h1m2 0h1M22.05 50.96h1M31.07 51.96h1M7.014 52.96h1m4.01 0h1m8.02 0h1m3.01 0h1m4.01 0h1m7.02 0h1M22.05 53.96h1M20.04 54.96h1m1 0h2m4.01 0h1M17.04 55.96h1m17 0h1M36.08 56.96h1M8.016 57.95h1m19 0h2M31.07 58.95h1M5.009 59.95h1M28.06 60.95h1m1 0h1M3.005 61.95h1m19 0h1m3.01 0h1m6.01 0h1m2 0h1M21.05 62.95h1m4.01 0h2M23.05 63.95h1m10 0h1M34.08 64.95h1M3.005 66.94h1m16 0h1m1 0h1m7.02 0h1m4.01 0h1m1 0h1M3.005 67.94h1m3.01 0h1m6.01 0h1M21.05 68.94h2m4.01 0h1M22.05 70.94h1m4.01 0h1M26.06 71.94h1m8.02 0h1m1 0h1M3.005 72.94h1m4.01 0h1m2 0h1m6.01 0h1m1 0h1m6.01 0h1m6.01 0h1M2.002 75.93h1m20 0h1m6.01 0h1M27.06 76.93h1M23.05 77.93h1m11 0h1M36.08 78.93h1M31.07 79.93h1M29.06 80.93h1m3.01 0h1M25.06 81.92h1m9.02 0h1M3.005 82.92h1m17 0h1M9.018 83.92h1M20.04 84.92h1m17 0h1M21.05 86.92h1m16 0h1M22.05 87.92h1m10 0h1m4.01 0h1M15.03 88.92h1m7.02 0h1m2 0h1M12.03 89.91h1m8.02 0h1m6.01 0h2M17.04 90.91h1m12 0h1M9.018 91.91h1M38.09 92.91h1M7.014 93.91h1m12 0h1M23.05 94.91h1m4.01 0h1M27.06 95.91h1M6.012 96.91h1m22.1 0h1M3.005 97.9h1m8.02 0h1m22.1 0h1M15.03 98.9h1m9.02 0h1m5.01 0h1M14.03 99.9h1M20.04 100.9h1m9.02 0h1m3.01 0h4.01M21.05 101.9h1M13.03 102.9h1m12 0h1m4.01 0h1M19.04 103.9h1M20.04 104.9h1M21.05 105.9h1m2 0h2m4.01 0h1M73.17 106.9h1m3.01 0h1m11 0h1m2 0h1m20 0h1M66.15 108.9h2m3.01 0h1m52.1 0h1M119.3 109.9h1M63.14 110.9h1m31.1 0h1M98.22 111.9h1m4.01 0h1m17 0h1M96.22 114.9h1m16 0h1M62.14 115.9h1m13 0h1m15 0h1m1 0h1M99.23 116.9h1m7.02 0h1m8.02 0h1m1 0h1m9.02 0h1M68.15 118.9h1m43.1 0h1m4.01 0h2M126.3 119.9h1M61.14 120.9h1m53.1 0h1M65.15 121.9h1m5.01 0h1m9.02 0h1m15 0h1m2 0h1m3.01 0h1M115.3 122.9h1M70.16 123.9h1m42.1 0h1M63.14 124.9h1m2 0h2M87.2 126.9h1M127.3 127.9h1M69.16 128.9h1M94.21 129.9h1m16 0h1m16 0h1M81.18 130.9h1m15 0h1m3.01 0h1m5.01 0h1m7.02 0h1M65.15 131.9h1m61.1 0h1M68.15 132.9h1m22.1 0h1m19 0h1M87.2 133.9h1m31.1 0h1m4.01 0h1m2 0h1M82.19 134.9h1m34.1 0h1M68.15 135.9h1m4.01 0h1m20 0h1m5.01 0h1m23.1 0h1M64.15 136.9h2m34.1 0h1m10 0h1M67.15 137.9h1m10 0h1m22.1 0h1M81.18 138.9h1m33.1 0h2M126.3 139.9h1M83.19 140.8h1m10 0h1M125.3 141.8h1M60.14 142.8h1m66.2 0h1M76.17 143.8h1m18 0h1M78.18 144.8h1m9.02 0h1m34.1 0h1M69.16 145.8h1m11 0h1m5.01 0h1M80.18 146.8h1m1 0h1M102.2 147.8h1M75.17 148.8h1m25.1 0h1m27.1 0h1M101.2 149.8h2M75.17 150.8h1m2 0h1m4.01 0h1m30.1 0h1M61.14 151.8h1M69.16 152.8h1m37.1 0h1M72.16 153.8h1M73.17 155.8h1M79.18 156.8h1m11 0h1m37.1 0h2M110.3 157.8h1M105.2 158.8h1M74.17 159.8h3.01m11 0h1m22.1 0h1M77.18 160.8h1M74.17 163.8h1m37.1 0h1m3.01 0h1m2 0h1M63.14 165.8h1m7.02 0h1m23.1 0h1m12 0h1m8.02 0h1M77.18 166.8h1m10 0h1M107.2 167.8h1M113.3 168.8h1M79.18 169.8h1m15 0h1m2 0h1M66.15 170.8h1M108.2 171.8h1m20 0h1M109.2 172.8h1m13 0h1M67.15 173.8h2m40.1 0h1m3.01 0h1M84.19 174.8h2m28.1 0h1M129.3 175.8h1M85.19 176.8h1m34.1 0h1M89.2 177.8h1m12 0h1M63.14 178.8h1m2 0h1m43.1 0h1m2 0h1"/>
<path stroke="rgb(255, 248, 181)" d="M56.13 26h1M57.13 26.99h1M61.14 35.98h1M61.14 36.98h1M55.12 37.98h1M54.12 38.98h1m3.01 0h1M58.13 39.98h1M56.13 41.98h1M53.12 46.97h1M56.13 47.97h1M29.06 49.96h1M38.09 51.96h1M20.04 57.95h1m14 0h1M22.05 60.95h1m13 0h1M24.05 61.95h1m3.01 0h1M22.05 63.95h1M24.05 64.95h1M20.04 65.94h1M21.05 66.94h1m6.01 0h1M33.07 67.94h1M30.07 68.94h1M24.05 69.94h1M8.016 71.94h1M7.014 72.94h1M28.06 73.93h1M28.06 75.93h1M22.05 76.93h1m6.01 0h1m5.01 0h1M9.018 77.93h1m12 0h1M28.06 79.93h1M30.07 80.93h1m4.01 0h1M23.05 81.92h1M8.016 82.92h1M32.07 83.92h1M6.012 86.92h1M22.05 88.92h1m12 0h1M7.014 89.91h1m18 0h1M36.08 90.91h1M37.08 92.91h1M21.05 93.91h1M14.03 95.91h1M12.03 96.91h1m12 0h1m10 0h1M20.04 98.9h1m6.01 0h1M24.05 99.9h1M37.08 101.9h1M8.016 103.9h1M22.05 105.9h1m14 0h1M90.21 108.9h1m20 0h1m14 0h1M71.16 109.9h1m26.1 0h1M62.14 110.9h1m12 0h1m54.1 0h1M125.3 111.9h1M79.18 112.9h1m1 0h1m36.1 0h1m6.01 0h1M108.2 115.9h1m17 0h1M61.14 116.9h1m22.1 0h1m13 0h1m30.1 0h1M77.18 117.9h1m4.01 0h1m1 0h1M86.2 118.9h1M72.16 119.9h1M123.3 120.9h1m4.01 0h1M82.19 121.9h1m36.1 0h1M77.18 122.9h1m21 0h2m3.01 0h1m19 0h1m3.01 0h1M87.2 123.9h1M68.15 124.9h1m56.1 0h1M70.16 125.9h1m25.1 0h1M81.18 126.9h1m14 0h1m25.1 0h1M71.16 127.9h1m37.1 0h1M79.18 128.9h1m25.1 0h1M83.19 129.9h1M91.21 130.9h1M90.21 132.9h1M61.14 133.9h1m37.1 0h1m30.1 0h1M124.3 134.9h1M66.15 135.9h1m18 0h1m6.01 0h1m26.1 0h1M102.2 137.9h1M72.16 138.9h1m26.1 0h1m23.1 0h1M80.18 139.9h1m33.1 0h1M112.3 140.8h1M83.19 141.8h1M65.15 143.8h1m8.02 0h1m10 0h1M89.2 144.8h1M62.14 145.8h1m2 0h1m30.1 0h1M121.3 146.8h1M109.2 148.8h1M94.21 149.8h1M84.19 152.8h1m3.01 0h1m8.02 0h1M75.17 153.8h1m20 0h1M64.15 154.8h1m25.1 0h1m14 0h1M107.2 155.8h1M116.3 156.8h1m5.01 0h1M62.14 158.8h1m18 0h1m16 0h1m7.02 0h1m9.02 0h1m2 0h1M67.15 159.8h1m26.1 0h1M62.14 160.8h1M63.14 161.8h1m37.1 0h1m9.02 0h1m11 0h1M61.14 163.8h1m21 0h1m4.01 0h1M73.17 164.8h1m33.1 0h1m20 0h1M103.2 165.8h1M69.16 166.8h1m16 0h1m8.02 0h1m10 0h1M66.15 167.8h1m25.1 0h1M61.14 169.8h1m24.1 0h1m17 0h1M110.3 170.8h1m4.01 0h1M109.2 171.8h1m7.02 0h1M83.19 172.8h1M112.3 173.8h1m1 0h1M70.16 174.8h1m8.02 0h1M77.18 175.8h1m4.01 0h1m42.1 0h1M63.14 176.8h1"/>
<path stroke="rgb(254, 237, 163)" d="M57.13 24h1M55.12 35.98h1M40.09 36.98h1m16 0h1M35.08 60.95h1M36.08 62.95h1M26.06 64.95h1m5.01 0h1M31.07 67.94h1M9.018 68.94h1M36.08 80.93h1M30.07 84.92h1M38.09 85.92h1M28.06 91.91h1M25.06 93.91h1M29.06 95.91h1M36.08 101.9h1M30.07 104.9h1M64.15 106.9h1M79.18 110.9h1M111.3 111.9h1M117.3 113.9h1m11 0h1M101.2 116.9h1M100.2 117.9h1M99.23 118.9h1M86.2 119.9h1m37.1 0h1M82.19 120.9h1m29.1 0h1M111.3 121.9h1M104.2 124.9h1M90.21 125.9h1M117.3 127.9h1M60.14 129.9h1M103.2 131.9h1m12 0h1M112.3 132.9h1M90.21 134.9h1m32.1 0h1M61.14 135.9h1M88.2 137.9h1M71.16 138.9h1M109.2 145.8h1M92.21 146.8h1M70.16 150.8h1M125.3 151.8h1m3.01 0h1M89.2 152.8h1m21 0h1M78.18 154.8h1m43.1 0h1M83.19 159.8h1m45.1 0h1M80.18 162.8h1M92.21 163.8h1M77.18 164.8h1M91.21 166.8h1m32.1 0h1M101.2 169.8h1M112.3 174.8h1M110.3 175.8h1M114.3 176.8h1m2 0h1"/>
<path stroke="rgb(254, 225, 146)" d="M30.07 85.92h1M30.07 101.9h1M62.14 112.9h1M104.2 120.9h1M122.3 121.9h1M80.18 151.8h1"/>
</g></g></g>
<g shape-rendering="crispEdges">
<rect x="1.0" y="12.6" width="130.30" height="9.9" fill="#c8c8c8"/>
<rect x="1.0" y="12.7" width="1.0" height="9.8" fill="rgb(208,208,208)"/>
<rect x="2.0" y="13.4" width="0.6" height="9.1" fill="rgb(213,213,213)"/>
<rect x="2.6" y="12.7" width="1.4" height="9.8" fill="rgb(220,220,220)"/>
<rect x="4.0" y="13.3" width="1.4" height="9.2" fill="rgb(184,184,184)"/>
<rect x="5.4" y="13.5" width="1.4" height="9.0" fill="rgb(193,193,193)"/>
<rect x="6.8" y="13.6" width="0.6" height="8.9" fill="rgb(219,219,219)"/>
<rect x="7.4" y="13.6" width="0.6" height="8.9" fill="rgb(209,209,209)"/>
<rect x="8.0" y="13.3" width="1.0" height="9.2" fill="rgb(221,221,221)"/>
<rect x="9.0" y="13.3" width="0.6" height="9.2" fill="rgb(198,198,198)"/>
<rect x="9.6" y="13.0" width="1.4" height="9.5" fill="rgb(199,199,199)"/>
<rect x="11.0" y="13.7" width="1.0" height="8.8" fill="rgb(190,190,190)"/>
<rect x="12.0" y="13.6" width="1.0" height="8.9" fill="rgb(185,185,185)"/>
<rect x="13.0" y="13.5" width="1.0" height="9.0" fill="rgb(213,213,213)"/>
<rect x="14.0" y="12.6" width="0.6" height="9.9" fill="rgb(222,222,222)"/>
<rect x="14.6" y="12.9" width="0.6" height="9.6" fill="rgb(190,190,190)"/>
<rect x="15.2" y="12.9" width="1.0" height="9.6" fill="rgb(214,214,214)"/>
<rect x="16.2" y="13.1" width="1.4" height="9.4" fill="rgb(221,221,221)"/>
<rect x="17.6" y="13.0" width="1.0" height="9.5" fill="rgb(222,222,222)"/>
<rect x="18.6" y="12.7" width="0.6" height="9.8" fill="rgb(221,221,221)"/>
<rect x="19.2" y="12.8" width="1.4" height="9.7" fill="rgb(181,181,181)"/>
<rect x="20.6" y="13.8" width="0.6" height="8.7" fill="rgb(197,197,197)"/>
<rect x="21.2" y="13.2" width="0.6" height="9.3" fill="rgb(216,216,216)"/>
<rect x="21.8" y="13.6" width="1.0" height="8.9" fill="rgb(201,201,201)"/>
<rect x="22.8" y="13.5" width="1.0" height="9.0" fill="rgb(204,204,204)"/>
<rect x="23.8" y="13.4" width="0.6" height="9.1" fill="rgb(217,217,217)"/>
<rect x="24.4" y="12.8" width="1.4" height="9.7" fill="rgb(199,199,199)"/>
<rect x="25.8" y="12.7" width="0.6" height="9.8" fill="rgb(221,221,221)"/>
<rect x="26.4" y="13.7" width="0.6" height="8.8" fill="rgb(178,178,178)"/>
<rect x="27.0" y="13.1" width="1.0" height="9.4" fill="rgb(187,187,187)"/>
<rect x="28.0" y="13.2" width="1.4" height="9.3" fill="rgb(197,197,197)"/>
<rect x="29.4" y="12.8" width="1.4" height="9.7" fill="rgb(212,212,212)"/>
<rect x="30.8" y="12.8" width="1.0" height="9.7" fill="rgb(187,187,187)"/>
<rect x="31.8" y="13.2" width="1.4" height="9.3" fill="rgb(182,182,182)"/>
<rect x="33.2" y="13.0" width="1.0" height="9.5" fill="rgb(220,220,220)"/>
<rect x="34.2" y="12.8" width="0.6" height="9.7" fill="rgb(211,211,211)"/>
<rect x="34.8" y="13.6" width="0.6" height="8.9" fill="rgb(217,217,217)"/>
<rect x="35.4" y="13.1" width="1.0" height="9.4" fill="rgb(197,197,197)"/>
<rect x="36.4" y="13.7" width="1.0" height="8.8" fill="rgb(198,198,198)"/>
<rect x="37.4" y="12.6" width="1.0" height="9.9" fill="rgb(185,185,185)"/>
<rect x="38.4" y="13.5" width="1.4" height="9.0" fill="rgb(200,200,200)"/>
<rect x="39.8" y="13.5" width="0.6" height="9.0" fill="rgb(208,208,208)"/>
<rect x="40.4" y="13.6" width="0.6" height="8.9" fill="rgb(179,179,179)"/>
<rect x="41.0" y="13.4" width="1.4" height="9.1" fill="rgb(205,205,205)"/>
<rect x="42.4" y="12.8" width="0.6" height="9.7" fill="rgb(201,201,201)"/>
<rect x="43.0" y="12.8" width="1.4" height="9.7" fill="rgb(178,178,178)"/>
<rect x="44.4" y="13.8" width="0.6" height="8.7" fill="rgb(199,199,199)"/>
<rect x="45.0" y="13.4" width="1.0" height="9.1" fill="rgb(178,178,178)"/>
<rect x="46.0" y="12.6" width="0.6" height="9.9" fill="rgb(206,206,206)"/>
<rect x="46.6" y="13.6" width="1.4" height="8.9" fill="rgb(192,192,192)"/>
<rect x="48.0" y="13.3" width="0.6" height="9.2" fill="rgb(181,181,181)"/>
<rect x="48.6" y="13.4" width="0.6" height="9.1" fill="rgb(195,195,195)"/>
<rect x="49.2" y="12.8" width="1.4" height="9.7" fill="rgb(214,214,214)"/>
<rect x="50.6" y="13.5" width="1.4" height="9.0" fill="rgb(204,204,204)"/>
<rect x="52.0" y="12.6" width="1.4" height="9.9" fill="rgb(208,208,208)"/>
<rect x="53.4" y="13.5" width="1.4" height="9.0" fill="rgb(211,211,211)"/>
<rect x="54.8" y="13.8" width="0.6" height="8.7" fill="rgb(208,208,208)"/>
<rect x="55.4" y="12.9" width="0.6" height="9.6" fill="rgb(180,180,180)"/>
<rect x="56.0" y="13.3" width="1.0" height="9.2" fill="rgb(192,192,192)"/>
<rect x="57.0" y="13.6" width="1.0" height="8.9" fill="rgb(214,214,214)"/>
<rect x="58.0" y="13.6" width="0.6" height="8.9" fill="rgb(189,189,189)"/>
<rect x="58.6" y="13.4" width="1.4" height="9.1" fill="rgb(212,212,212)"/>
<rect x="60.0" y="12.8" width="1.4" height="9.7" fill="rgb(202,202,202)"/>
<rect x="61.4" y="13.2" width="0.6" height="9.3" fill="rgb(219,219,219)"/>
<rect x="62.0" y="12.8" width="0.6" height="9.7" fill="rgb(201,201,201)"/>
<rect x="62.6" y="13.2" width="1.4" height="9.3" fill="rgb(207,207,207)"/>
<rect x="64.0" y="13.0" width="1.0" height="9.5" fill="rgb(208,208,208)"/>
<rect x="65.0" y="13.7" width="1.4" height="8.8" fill="rgb(202,202,202)"/>
<rect x="66.4" y="12.9" width="1.4" height="9.6" fill="rgb(196,196,196)"/>
<rect x="67.8" y="13.3" width="1.0" height="9.2" fill="rgb(215,215,215)"/>
<rect x="68.8" y="13.6" width="0.6" height="8.9" fill="rgb(212,212,212)"/>
<rect x="69.4" y="13.4" width="0.6" height="9.1" fill="rgb(203,203,203)"/>
<rect x="70.0" y="13.4" width="1.0" height="9.1" fill="rgb(206,206,206)"/>
<rect x="71.0" y="13.3" width="1.0" height="9.2" fill="rgb(206,206,206)"/>
<rect x="72.0" y="13.4" width="0.6" height="9.1" fill="rgb(211,211,211)"/>
<rect x="72.6" y="12.6" width="1.4" height="9.9" fill="rgb(189,189,189)"/>
<rect x="74.0" y="13.5" width="1.4" height="9.0" fill="rgb(217,217,217)"/>
<rect x="75.4" y="13.8" width="1.0" height="8.7" fill="rgb(182,182,182)"/>
<rect x="76.4" y="13.6" width="0.6" height="8.9" fill="rgb(210,210,210)"/>
<rect x="77.0" y="13.2" width="0.6" height="9.3" fill="rgb(211,211,211)"/>
<rect x="77.6" y="13.1" width="1.0" height="9.4" fill="rgb(215,215,215)"/>
<rect x="78.6" y="13.5" width="0.6" height="9.0" fill="rgb(218,218,218)"/>
<rect x="79.2" y="12.6" width="1.4" height="9.9" fill="rgb(195,195,195)"/>
<rect x="80.6" y="13.2" width="0.6" height="9.3" fill="rgb(191,191,191)"/>
<rect x="81.2" y="13.2" width="1.4" height="9.3" fill="rgb(194,194,194)"/>
<rect x="82.6" y="12.7" width="1.4" height="9.8" fill="rgb(211,211,211)"/>
<rect x="84.0" y="12.9" width="1.4" height="9.6" fill="rgb(202,202,202)"/>
<rect x="85.4" y="12.8" width="0.6" height="9.7" fill="rgb(186,186,186)"/>
<rect x="86.0" y="13.3" width="1.0" height="9.2" fill="rgb(182,182,182)"/>
<rect x="87.0" y="13.7" width="1.0" height="8.8" fill="rgb(216,216,216)"/>
<rect x="88.0" y="12.8" width="1.4" height="9.7" fill="rgb(191,191,191)"/>
<rect x="89.4" y="12.7" width="1.4" height="9.8" fill="rgb(222,222,222)"/>
<rect x="90.8" y="13.3" width="1.4" height="9.2" fill="rgb(196,196,196)"/>
<rect x="92.2" y="13.4" width="0.6" height="9.1" fill="rgb(204,204,204)"/>
<rect x="92.8" y="13.3" width="0.6" height="9.2" fill="rgb(193,193,193)"/>
<rect x="93.4" y="13.4" width="0.6" height="9.1" fill="rgb(222,222,222)"/>
<rect x="94.0" y="12.9" width="1.4" height="9.6" fill="rgb(214,214,214)"/>
<rect x="95.4" y="13.2" width="1.0" height="9.3" fill="rgb(207,207,207)"/>
<rect x="96.4" y="13.7" width="0.6" height="8.8" fill="rgb(191,191,191)"/>
<rect x="97.0" y="12.7" width="0.6" height="9.8" fill="rgb(184,184,184)"/>
<rect x="97.6" y="13.2" width="1.0" height="9.3" fill="rgb(196,196,196)"/>
<rect x="98.6" y="13.0" width="1.4" height="9.5" fill="rgb(182,182,182)"/>
<rect x="100.0" y="12.9" width="1.0" height="9.6" fill="rgb(203,203,203)"/>
<rect x="101.0" y="13.4" width="1.0" height="9.1" fill="rgb(212,212,212)"/>
<rect x="102.0" y="13.3" width="0.6" height="9.2" fill="rgb(212,212,212)"/>
<rect x="102.6" y="13.3" width="1.4" height="9.2" fill="rgb(187,187,187)"/>
<rect x="104.0" y="13.2" width="1.0" height="9.3" fill="rgb(192,192,192)"/>
<rect x="105.0" y="13.7" width="0.6" height="8.8" fill="rgb(200,200,200)"/>
<rect x="105.6" y="13.7" width="1.4" height="8.8" fill="rgb(211,211,211)"/>
<rect x="107.0" y="12.7" width="1.0" height="9.8" fill="rgb(182,182,182)"/>
<rect x="108.0" y="13.3" width="1.4" height="9.2" fill="rgb(200,200,200)"/>
<rect x="109.4" y="13.2" width="1.4" height="9.3" fill="rgb(180,180,180)"/>
<rect x="110.8" y="13.6" width="1.4" height="8.9" fill="rgb(208,208,208)"/>
<rect x="112.2" y="13.0" width="0.6" height="9.5" fill="rgb(200,200,200)"/>
<rect x="112.8" y="13.6" width="0.6" height="8.9" fill="rgb(222,222,222)"/>
<rect x="113.4" y="13.0" width="0.6" height="9.5" fill="rgb(178,178,178)"/>
<rect x="114.0" y="13.0" width="1.0" height="9.5" fill="rgb(221,221,221)"/>
<rect x="115.0" y="12.9" width="1.0" height="9.6" fill="rgb(179,179,179)"/>
<rect x="116.0" y="13.6" width="1.4" height="8.9" fill="rgb(217,217,217)"/>
<rect x="117.4" y="13.0" width="1.0" height="9.5" fill="rgb(187,187,187)"/>
<rect x="118.4" y="13.6" width="1.4" height="8.9" fill="rgb(192,192,192)"/>
<rect x="119.8" y="13.4" width="0.6" height="9.1" fill="rgb(188,188,188)"/>
<rect x="120.4" y="13.1" width="0.6" height="9.4" fill="rgb(181,181,181)"/>
<rect x="121.0" y="13.4" width="1.0" height="9.1" fill="rgb(195,195,195)"/>
<rect x="122.0" y="13.4" width="0.6" height="9.1" fill="rgb(189,189,189)"/>
<rect x="122.6" y="13.1" width="1.0" height="9.4" fill="rgb(202,202,202)"/>
<rect x="123.6" y="13.0" width="1.4" height="9.5" fill="rgb(181,181,181)"/>
<rect x="125.0" y="13.3" width="1.0" height="9.2" fill="rgb(197,197,197)"/>
<rect x="126.0" y="13.6" width="0.6" height="8.9" fill="rgb(204,204,204)"/>
<rect x="126.6" y="13.3" width="0.6" height="9.2" fill="rgb(217,217,217)"/>
<rect x="127.2" y="12.9" width="0.6" height="9.6" fill="rgb(183,183,183)"/>
<rect x="127.8" y="13.2" width="1.4" height="9.3" fill="rgb(209,209,209)"/>
<rect x="129.2" y="13.6" width="0.6" height="8.9" fill="rgb(185,185,185)"/>
<rect x="129.8" y="13.3" width="1.4" height="9.2" fill="rgb(198,198,198)"/>
<rect x="131.2" y="13.4" width="1.4" height="9.1" fill="rgb(179,179,179)"/>
</g>
<g stroke="#444" stroke-width="0.45" fill="none">
<path d="M12.3 12.6V8.6H74.7V10.2"/>
<path d="M51 12.6V10.2H98.9V12.6"/>
<path d="M1.5 13.6V12.4H4.8V13.6"/>
<path d="M6.3 13.6V11.7H14.7V13.6"/>
<path d="M16.3 13.6V12.1H25.0V13.6"/>
<path d="M26.5 13.6V12.1H31.9V13.6"/>
<path d="M32.7 13.6V12.5H38.6V13.6"/>
<path d="M39.7 13.6V11.9H42.8V13.6"/>
<path d="M44.1 13.6V12.0H50.1V13.6"/>
<path d="M52.0 13.6V11.7H55.7V13.6"/>
<path d="M56.8 13.6V11.9H62.9V13.6"/>
<path d="M64.8 13.6V12.1H71.3V13.6"/>
<path d="M72.2 13.6V11.9H77.5V13.6"/>
<path d="M78.1 13.6V12.1H85.9V13.6"/>
<path d="M86.8 13.6V12.1H95.3V13.6"/>
<path d="M95.9 13.6V11.7H103.0V13.6"/>
<path d="M104.4 13.6V12.2H109.0V13.6"/>
<path d="M110.7 13.6V12.1H116.7V13.6"/>
<path d="M118.1 13.6V12.1H124.3V13.6"/>
<path d="M125.3 13.6V11.8H130.1V13.6"/>
</g>
<defs><linearGradient id="cb" x1="0" y1="1" x2="0" y2="0">
<stop offset="0.000" stop-color="#4674BD"/>
<stop offset="0.167" stop-color="#91BFDB"/>
<stop offset="0.333" stop-color="#E0F3F8"/>
<stop offset="0.500" stop-color="#FFFFBF"/>
<stop offset="0.667" stop-color="#FEE090"/>
<stop offset="0.833" stop-color="#FC8D59"/>
<stop offset="1.000" stop-color="#D73027"/>
</linearGradient></defs>
<rect x="134" y="25.8" width="4.9" height="71.9" fill="url(#cb)"/>
<text x="141.00" y="37.60" font-size="6.6" text-anchor="start" fill="#000">12</text>
<text x="141.00" y="48.40" font-size="6.6" text-anchor="start" fill="#000">10</text>
<text x="141.00" y="58.80" font-size="6.6" text-anchor="start" fill="#000">8</text>
<text x="141.00" y="69.70" font-size="6.6" text-anchor="start" fill="#000">6</text>
<text x="141.00" y="80.20" font-size="6.6" text-anchor="start" fill="#000">4</text>
<text x="141.00" y="90.70" font-size="6.6" text-anchor="start" fill="#000">2</text>
<text x="170.90" y="8.60" font-size="12.2" text-anchor="start" fill="#000" font-weight="bold">b</text>
<g stroke="#cfcfcf" stroke-width="0.5" fill="none">
<path d="M203.2 35.3L203.4 127.9"/>
<path d="M214.5 34.7L214.9 125.2"/>
<path d="M225.3 34.2L225.9 122.6"/>
<path d="M235.6 33.6L236.4 120.2"/>
<path d="M245.2 33.1L246.2 117.9"/>
<path d="M190 49.3L257.5 44.0"/>
<path d="M190 75.9L257.5 67.2"/>
<path d="M190 101.5L257.5 89.4"/>
<path d="M273.6 33.3L273.6 118.3"/>
<path d="M288.0 34.0L288.0 121.3"/>
<path d="M303.4 34.7L303.4 124.5"/>
<path d="M318.6 35.4L318.6 127.6"/>
<path d="M257.5 45.7L330 51.0"/>
<path d="M257.5 68.8L330 77.4"/>
<path d="M257.5 91.9L330 103.7"/>
<path d="M202.1 135.3L269.6 117.5"/>
<path d="M214.2 139.7L281.7 120.0"/>
<path d="M226.2 144.0L293.8 122.5"/>
<path d="M238.3 148.3L305.8 125.0"/>
<path d="M250.4 152.7L317.9 127.5"/>
<path d="M246.2 117.7L318.8 134.5"/>
<path d="M235.0 120.3L307.5 139.0"/>
<path d="M223.8 123.0L296.2 143.5"/>
<path d="M212.5 125.7L285.0 148.0"/>
<path d="M201.2 128.3L273.8 152.5"/>
</g>
<g stroke="#444" stroke-width="0.6" fill="none">
<path d="M190 36L257.5 32.5L330 36"/>
<path d="M190 36L262.5 41L330 36"/>
<path d="M190 36V131"/>
<path d="M330 36L330 130"/>
<path d="M262.5 41V157"/>
<path d="M190 131L262.5 157L330 130"/>
</g>
<g stroke="#444" stroke-width="0.6">
<path d="M191.3 28.5V35.4"/>
<path d="M203.0 28.5V34.9"/>
<path d="M214.9 28.5V34.3"/>
<path d="M225.5 28.5V33.7"/>
<path d="M235.8 28.5V33.2"/>
<path d="M245.0 28.5V32.8"/>
<path d="M253.8 28.5V32.3"/>
</g>
<text x="191.30" y="26.60" font-size="6.8" text-anchor="middle" fill="#111">3.0</text>
<text x="214.90" y="26.60" font-size="6.8" text-anchor="middle" fill="#111">2.0</text>
<text x="235.80" y="26.60" font-size="6.8" text-anchor="middle" fill="#111">1.0</text>
<text x="253.80" y="26.60" font-size="6.8" text-anchor="middle" fill="#111">0</text>
<text x="177.40" y="51.30" font-size="6.8" text-anchor="middle" fill="#111">1.5</text>
<path d="M182.4 48.9H190" stroke="#444" stroke-width="0.6"/>
<text x="178.00" y="79.40" font-size="6.8" text-anchor="middle" fill="#111">1.0</text>
<path d="M183.0 77.0H190" stroke="#444" stroke-width="0.6"/>
<text x="178.00" y="106.70" font-size="6.8" text-anchor="middle" fill="#111">0.5</text>
<path d="M183.0 104.3H190" stroke="#444" stroke-width="0.6"/>
<text x="182.20" y="133.70" font-size="6.8" text-anchor="middle" fill="#111">0</text>
<path d="M187.2 131.3H190" stroke="#444" stroke-width="0.6"/>
<text x="185.80" y="142.10" font-size="6.8" text-anchor="middle" fill="#111">0</text>
<text x="201.00" y="147.40" font-size="6.8" text-anchor="middle" fill="#111">0.5</text>
<text x="216.40" y="152.00" font-size="6.8" text-anchor="middle" fill="#111">1.0</text>
<text x="231.00" y="157.40" font-size="6.8" text-anchor="middle" fill="#111">1.5</text>
<text x="245.50" y="162.40" font-size="6.8" text-anchor="middle" fill="#111">2.0</text>
<g stroke="#444" stroke-width="0.6">
<path d="M193.0 134.7L192.0 137.2"/>
<path d="M207.5 140.0L206.5 142.5"/>
<path d="M222.0 145.2L221.0 147.7"/>
<path d="M236.5 150.5L235.5 153.0"/>
<path d="M251.0 155.8L250.0 158.3"/>
</g>
<g stroke="#000" stroke-width="1.3" fill="none">
<path d="M257.5 115V16"/>
<path d="M257.5 115L180 136"/>
<path d="M257.5 115L331 132.5"/>
</g>
<path d="M257.5 9.5L253.5 17.5H261.5Z" fill="#000"/>
<path d="M173 138.2L181.5 131.5L183.5 139.5Z" fill="#000"/>
<path d="M339 135L329.5 128.5L328 136.5Z" fill="#000"/>
<text x="265.70" y="19.30" font-size="7.2" text-anchor="start" fill="#222">Metagene 3</text>
<text x="175.50" y="150.50" font-size="7.2" text-anchor="middle" fill="#222">Metagene 1</text>
<text x="330.00" y="146.00" font-size="7.2" text-anchor="middle" fill="#222">Metagene 2</text>
<circle cx="233.9" cy="64.2" r="2.55" fill="url(#sb)"/>
<circle cx="226.5" cy="78.0" r="2.55" fill="url(#sb)"/>
<circle cx="236.5" cy="80.2" r="2.55" fill="url(#sb)"/>
<circle cx="238.6" cy="78.6" r="2.55" fill="url(#sb)"/>
<circle cx="243.9" cy="83.5" r="2.55" fill="url(#sb)"/>
<circle cx="247.2" cy="85.1" r="2.55" fill="url(#sb)"/>
<circle cx="221.0" cy="90.0" r="2.55" fill="url(#sb)"/>
<circle cx="229.6" cy="93.4" r="2.55" fill="url(#sb)"/>
<circle cx="244.6" cy="93.4" r="2.55" fill="url(#sb)"/>
<circle cx="222.3" cy="101.1" r="2.55" fill="url(#sb)"/>
<circle cx="229.4" cy="103.3" r="2.55" fill="url(#sb)"/>
<circle cx="197.6" cy="105.4" r="2.55" fill="url(#sb)"/>
<circle cx="217.7" cy="106.7" r="2.55" fill="url(#sb)"/>
<circle cx="225.3" cy="107.6" r="2.55" fill="url(#sb)"/>
<circle cx="232.8" cy="110.1" r="2.55" fill="url(#sb)"/>
<circle cx="241.4" cy="111.3" r="2.55" fill="url(#sb)"/>
<circle cx="229.4" cy="114.7" r="2.55" fill="url(#sb)"/>
<circle cx="211.9" cy="120.8" r="2.55" fill="url(#sb)"/>
<circle cx="201.9" cy="124.5" r="2.55" fill="url(#sb)"/>
<circle cx="200.6" cy="126.5" r="2.55" fill="url(#sb)"/>
<circle cx="211.8" cy="120.2" r="2.55" fill="url(#sb)"/>
<circle cx="263.1" cy="87.3" r="2.55" fill="url(#sg)"/>
<circle cx="295.1" cy="92.6" r="2.55" fill="url(#sg)"/>
<circle cx="268.4" cy="101.2" r="2.55" fill="url(#sg)"/>
<circle cx="288.3" cy="101.8" r="2.55" fill="url(#sg)"/>
<circle cx="290.8" cy="101.2" r="2.55" fill="url(#sg)"/>
<circle cx="294.4" cy="102.4" r="2.55" fill="url(#sg)"/>
<circle cx="292.6" cy="104.9" r="2.55" fill="url(#sg)"/>
<circle cx="296.3" cy="105.8" r="2.55" fill="url(#sg)"/>
<circle cx="288.9" cy="108.6" r="2.55" fill="url(#sg)"/>
<circle cx="294.4" cy="109.8" r="2.55" fill="url(#sg)"/>
<circle cx="286.4" cy="112.9" r="2.55" fill="url(#sg)"/>
<circle cx="284.6" cy="115.4" r="2.55" fill="url(#sg)"/>
<circle cx="296.3" cy="113.5" r="2.55" fill="url(#sg)"/>
<circle cx="302.4" cy="111.7" r="2.55" fill="url(#sg)"/>
<circle cx="307.4" cy="109.0" r="2.55" fill="url(#sg)"/>
<circle cx="308.6" cy="113.5" r="2.55" fill="url(#sg)"/>
<circle cx="311.0" cy="114.7" r="2.55" fill="url(#sg)"/>
<circle cx="300.0" cy="118.8" r="2.55" fill="url(#sg)"/>
<circle cx="310.4" cy="120.0" r="2.55" fill="url(#sg)"/>
<circle cx="309.5" cy="122.0" r="2.55" fill="url(#sg)"/>
<circle cx="304.9" cy="124.0" r="2.55" fill="url(#sg)"/>
<circle cx="314.1" cy="124.6" r="2.55" fill="url(#sg)"/>
<circle cx="318.8" cy="124.2" r="2.55" fill="url(#sg)"/>
<circle cx="271.1" cy="123.3" r="2.55" fill="url(#sg)"/>
<circle cx="292.0" cy="127.7" r="2.55" fill="url(#sg)"/>
<circle cx="288.3" cy="128.9" r="2.55" fill="url(#sg)"/>
<circle cx="316.6" cy="127.0" r="2.55" fill="url(#sg)"/>
<circle cx="292.0" cy="133.5" r="2.55" fill="url(#sg)"/>
<circle cx="255.6" cy="36.0" r="2.55" fill="url(#sr)"/>
<circle cx="259.2" cy="36.0" r="2.55" fill="url(#sr)"/>
<circle cx="264.0" cy="38.2" r="2.55" fill="url(#sr)"/>
<circle cx="252.6" cy="38.2" r="2.55" fill="url(#sr)"/>
<circle cx="251.7" cy="41.3" r="2.55" fill="url(#sr)"/>
<circle cx="253.9" cy="43.5" r="2.55" fill="url(#sr)"/>
<circle cx="258.3" cy="43.0" r="2.55" fill="url(#sr)"/>
<circle cx="264.0" cy="42.6" r="2.55" fill="url(#sr)"/>
<circle cx="264.4" cy="47.4" r="2.55" fill="url(#sr)"/>
<circle cx="256.5" cy="47.0" r="2.55" fill="url(#sr)"/>
<circle cx="270.6" cy="48.0" r="2.55" fill="url(#sr)"/>
<circle cx="271.0" cy="52.7" r="2.55" fill="url(#sr)"/>
<circle cx="253.9" cy="50.9" r="2.55" fill="url(#sr)"/>
<circle cx="260.0" cy="50.9" r="2.55" fill="url(#sr)"/>
<circle cx="252.1" cy="54.0" r="2.55" fill="url(#sr)"/>
<circle cx="255.6" cy="54.9" r="2.55" fill="url(#sr)"/>
<circle cx="260.5" cy="55.8" r="2.55" fill="url(#sr)"/>
<circle cx="264.0" cy="58.4" r="2.55" fill="url(#sr)"/>
<circle cx="270.6" cy="59.1" r="2.55" fill="url(#sr)"/>
<circle cx="245.5" cy="57.5" r="2.55" fill="url(#sr)"/>
<circle cx="254.8" cy="60.1" r="2.55" fill="url(#sr)"/>
<circle cx="253.5" cy="64.5" r="2.55" fill="url(#sr)"/>
<circle cx="256.5" cy="65.4" r="2.55" fill="url(#sr)"/>
<circle cx="260.5" cy="64.5" r="2.55" fill="url(#sr)"/>
<circle cx="265.8" cy="63.2" r="2.55" fill="url(#sr)"/>
<circle cx="266.6" cy="67.2" r="2.55" fill="url(#sr)"/>
<circle cx="261.4" cy="69.0" r="2.55" fill="url(#sr)"/>
<circle cx="246.9" cy="72.5" r="2.55" fill="url(#sr)"/>
<circle cx="255.9" cy="72.0" r="2.55" fill="url(#sr)"/>
<circle cx="255.0" cy="78.6" r="2.55" fill="url(#sr)"/>
<circle cx="257.0" cy="39.5" r="2.55" fill="url(#sr)"/>
<circle cx="261.0" cy="40.0" r="2.55" fill="url(#sr)"/>
<circle cx="262.0" cy="46.0" r="2.55" fill="url(#sr)"/>
<circle cx="258.0" cy="52.0" r="2.55" fill="url(#sr)"/>
<circle cx="262.0" cy="60.0" r="2.55" fill="url(#sr)"/>
<circle cx="258.0" cy="62.0" r="2.55" fill="url(#sr)"/>
<path d="M257.5 115V17" stroke="#000" stroke-width="1.3"/>
<text x="377.20" y="8.60" font-size="12.2" text-anchor="start" fill="#000" font-weight="bold">c</text>
<polygon points="392.8,39.5 459.3,35.3 459.3,110.0 398.0,134.0" fill="#ebebeb"/>
<polygon points="459.3,35.3 531.8,39.3 527.6,123.0 459.3,110.0" fill="#ebebeb"/>
<polygon points="459.3,110.0 398.0,134.0 471.0,166.0 527.6,123.0" fill="#ebebeb"/>
<g stroke="#fff" stroke-width="0.8" fill="none">
<path d="M406.0 38.7L406.0 130.9"/>
<path d="M417.5 37.9L417.5 126.4"/>
<path d="M429.8 37.2L429.8 121.5"/>
<path d="M442.0 36.4L442.0 116.8"/>
<path d="M453.5 35.7L453.5 112.3"/>
<path d="M397.1 117.8L459.3 97.7"/>
<path d="M396.3 102.4L459.3 85.3"/>
<path d="M395.4 86.9L459.3 73.0"/>
<path d="M394.6 71.4L459.3 60.7"/>
<path d="M393.7 56.0L459.3 48.4"/>
<path d="M392.9 40.5L459.3 36.0"/>
<path d="M477.2 36.3L477.2 113.4"/>
<path d="M488.7 36.9L488.7 115.6"/>
<path d="M499.3 37.5L499.3 117.6"/>
<path d="M510.8 38.1L510.8 119.8"/>
<path d="M522.3 38.8L522.3 122.0"/>
<path d="M459.3 97.7L528.3 109.2"/>
<path d="M459.3 85.3L529.0 95.5"/>
<path d="M459.3 73.0L529.7 81.8"/>
<path d="M459.3 60.7L530.4 68.0"/>
<path d="M459.3 48.4L531.1 54.2"/>
<path d="M459.3 36.0L531.8 40.5"/>
<path d="M448.9 114.1L518.0 130.3"/>
<path d="M470.9 112.2L410.4 139.4"/>
<path d="M438.5 118.2L508.4 137.6"/>
<path d="M482.5 114.4L422.8 144.9"/>
<path d="M428.0 122.2L498.7 144.9"/>
<path d="M494.1 116.6L435.2 150.3"/>
<path d="M417.6 126.3L489.1 152.2"/>
<path d="M505.7 118.8L447.6 155.8"/>
<path d="M407.2 130.4L479.5 159.6"/>
<path d="M517.4 121.0L460.1 161.2"/>
</g>
<path d="M387.3 40.5H392.0" stroke="#333" stroke-width="0.6"/>
<text x="385.80" y="43.00" font-size="7" text-anchor="end" fill="#222">30</text>
<path d="M388.9 69.8H393.6" stroke="#333" stroke-width="0.6"/>
<text x="387.44" y="72.30" font-size="7" text-anchor="end" fill="#222">20</text>
<path d="M390.8 102.5H395.5" stroke="#333" stroke-width="0.6"/>
<text x="389.27" y="105.00" font-size="7" text-anchor="end" fill="#222">10</text>
<path d="M392.5 133.3H397.2" stroke="#333" stroke-width="0.6"/>
<text x="391.00" y="135.80" font-size="7" text-anchor="end" fill="#222">0</text>
<text x="389.80" y="144.00" font-size="7" text-anchor="middle" fill="#222" font-style="italic" transform="rotate(0 389.8 141.5)">0</text>
<text x="412.00" y="152.50" font-size="7" text-anchor="middle" fill="#222" transform="rotate(35 412 150)">10</text>
<text x="432.40" y="160.20" font-size="7" text-anchor="middle" fill="#222" transform="rotate(35 432.4 157.7)">20</text>
<text x="455.60" y="170.70" font-size="7" text-anchor="middle" fill="#222" transform="rotate(35 455.6 168.2)">30</text>
<text x="531.80" y="137.50" font-size="7" text-anchor="middle" fill="#222" transform="rotate(-50 531.8 135)">0</text>
<text x="516.50" y="147.10" font-size="7" text-anchor="middle" fill="#222" transform="rotate(-50 516.5 144.6)">10</text>
<text x="498.30" y="160.50" font-size="7" text-anchor="middle" fill="#222" transform="rotate(-50 498.3 158)">20</text>
<text x="475.00" y="173.90" font-size="7" text-anchor="middle" fill="#222" transform="rotate(-50 475 171.4)">30</text>
<g stroke="#333" stroke-width="0.6">
<path d="M416.5 142.5l-1.5 3"/>
<path d="M435.5 150.5l-1.5 3"/>
<path d="M458.0 160.5l-1.5 3"/>
<path d="M509.0 139.0l2 2"/>
<path d="M491.0 151.0l2 2"/>
<path d="M472.0 164.5l2 2"/>
</g>
<path d="M459.3 110.0L459.8 44.8" stroke="#ff0000" stroke-width="0.9"/>
<path d="M459.8 41.0L461.5 44.8L458.1 44.8Z" fill="#ff0000"/>
<path d="M459.3 110.0L460.4 46.8" stroke="#ff0000" stroke-width="0.9"/>
<path d="M460.5 43.0L462.1 46.8L458.7 46.8Z" fill="#ff0000"/>
<path d="M459.3 110.0L461.4 48.8" stroke="#ff0000" stroke-width="0.9"/>
<path d="M461.5 45.0L463.1 48.9L459.7 48.7Z" fill="#ff0000"/>
<path d="M459.3 110.0L461.8 51.3" stroke="#ff0000" stroke-width="0.9"/>
<path d="M462.0 47.5L463.5 51.4L460.1 51.2Z" fill="#ff0000"/>
<path d="M459.3 110.0L460.9 53.3" stroke="#ff0000" stroke-width="0.9"/>
<path d="M461.0 49.5L462.6 53.3L459.2 53.3Z" fill="#ff0000"/>
<path d="M459.3 110.0L462.3 55.8" stroke="#ff0000" stroke-width="0.9"/>
<path d="M462.5 52.0L464.0 55.9L460.6 55.7Z" fill="#ff0000"/>
<path d="M459.3 110.0L463.2 59.8" stroke="#ff0000" stroke-width="0.9"/>
<path d="M463.5 56.0L464.9 59.9L461.5 59.7Z" fill="#ff0000"/>
<path d="M459.3 110.0L462.0 63.8" stroke="#ff0000" stroke-width="0.9"/>
<path d="M462.2 60.0L463.7 63.9L460.3 63.7Z" fill="#ff0000"/>
<path d="M459.3 110.0L459.5 47.8" stroke="#ff0000" stroke-width="0.9"/>
<path d="M459.5 44.0L461.2 47.8L457.8 47.8Z" fill="#ff0000"/>
<path d="M459.3 110.0L460.2 53.8" stroke="#ff0000" stroke-width="0.9"/>
<path d="M460.3 50.0L461.9 53.8L458.5 53.8Z" fill="#ff0000"/>
<path d="M459.3 110.0L460.9 57.8" stroke="#ff0000" stroke-width="0.9"/>
<path d="M461.0 54.0L462.6 57.8L459.2 57.7Z" fill="#ff0000"/>
<path d="M459.3 110.0L454.9 61.5" stroke="#ff0000" stroke-width="0.8"/>
<path d="M454.5 57.5L456.7 61.3L453.1 61.6Z" fill="#ff0000"/>
<path d="M459.3 110.0L473.8 65.4" stroke="#ff0000" stroke-width="0.8"/>
<path d="M475.0 61.6L475.5 66.0L472.1 64.8Z" fill="#ff0000"/>
<path d="M459.3 110.0L463.5 62.0" stroke="#ff0000" stroke-width="0.8"/>
<path d="M463.8 58.0L465.2 62.1L461.7 61.8Z" fill="#ff0000"/>
<path d="M459.3 110.0L411.7 121.6" stroke="#0000ff" stroke-width="0.9"/>
<path d="M407.8 122.5L411.2 119.7L412.1 123.4Z" fill="#0000ff"/>
<path d="M459.3 110.0L413.8 123.8" stroke="#0000ff" stroke-width="0.9"/>
<path d="M410.0 125.0L413.3 122.0L414.4 125.7Z" fill="#0000ff"/>
<path d="M459.3 110.0L417.8 122.3" stroke="#0000ff" stroke-width="0.9"/>
<path d="M414.0 123.4L417.3 120.4L418.4 124.1Z" fill="#0000ff"/>
<path d="M459.3 110.0L405.4 129.1" stroke="#0000ff" stroke-width="0.9"/>
<path d="M401.6 130.4L404.7 127.3L406.0 130.9Z" fill="#0000ff"/>
<path d="M459.3 110.0L420.3 124.6" stroke="#0000ff" stroke-width="0.9"/>
<path d="M416.6 126.0L419.7 122.8L421.0 126.4Z" fill="#0000ff"/>
<path d="M459.3 110.0L408.8 125.8" stroke="#0000ff" stroke-width="0.9"/>
<path d="M405.0 127.0L408.2 124.0L409.4 127.6Z" fill="#0000ff"/>
<path d="M459.3 110.0L412.8 126.7" stroke="#0000ff" stroke-width="0.9"/>
<path d="M409.0 128.0L412.1 124.9L413.4 128.4Z" fill="#0000ff"/>
<path d="M459.3 110.0L415.8 123.3" stroke="#0000ff" stroke-width="0.9"/>
<path d="M412.0 124.5L415.3 121.5L416.4 125.1Z" fill="#0000ff"/>
<path d="M459.3 110.0L421.8 122.7" stroke="#0000ff" stroke-width="0.9"/>
<path d="M418.0 124.0L421.2 120.9L422.4 124.5Z" fill="#0000ff"/>
<path d="M459.3 110.0L407.8 124.9" stroke="#0000ff" stroke-width="0.9"/>
<path d="M404.0 126.0L407.3 123.1L408.4 126.7Z" fill="#0000ff"/>
<path d="M459.3 110.0L426.1 130.1" stroke="#0000ff" stroke-width="0.9"/>
<path d="M422.7 132.2L425.1 128.5L427.1 131.8Z" fill="#0000ff"/>
<path d="M459.3 110.0L433.6 132.7" stroke="#0000ff" stroke-width="0.9"/>
<path d="M430.6 135.3L432.3 131.2L434.9 134.1Z" fill="#0000ff"/>
<path d="M459.3 110.0L514.0 116.1" stroke="#22ee22" stroke-width="0.9"/>
<path d="M518.0 116.5L513.8 117.9L514.2 114.2Z" fill="#22ee22"/>
<path d="M459.3 110.0L511.0 116.5" stroke="#22ee22" stroke-width="0.9"/>
<path d="M515.0 117.0L510.8 118.4L511.3 114.6Z" fill="#22ee22"/>
<path d="M459.3 110.0L508.1 118.8" stroke="#22ee22" stroke-width="0.9"/>
<path d="M512.0 119.5L507.7 120.7L508.4 116.9Z" fill="#22ee22"/>
<path d="M459.3 110.0L515.1 120.3" stroke="#22ee22" stroke-width="0.9"/>
<path d="M519.0 121.0L514.7 122.1L515.4 118.4Z" fill="#22ee22"/>
<path d="M459.3 110.0L501.2 122.8" stroke="#22ee22" stroke-width="0.9"/>
<path d="M505.0 124.0L500.6 124.6L501.7 121.0Z" fill="#22ee22"/>
<path d="M459.3 110.0L510.2 124.4" stroke="#22ee22" stroke-width="0.9"/>
<path d="M514.0 125.5L509.6 126.2L510.7 122.6Z" fill="#22ee22"/>
<path d="M459.3 110.0L516.1 124.0" stroke="#22ee22" stroke-width="0.9"/>
<path d="M520.0 125.0L515.7 125.9L516.6 122.2Z" fill="#22ee22"/>
<path d="M459.3 110.0L520.1 125.0" stroke="#22ee22" stroke-width="0.9"/>
<path d="M524.0 126.0L519.7 126.9L520.6 123.2Z" fill="#22ee22"/>
<path d="M459.3 110.0L496.2 120.9" stroke="#22ee22" stroke-width="0.9"/>
<path d="M500.0 122.0L495.6 122.7L496.7 119.0Z" fill="#22ee22"/>
<path d="M459.3 110.0L506.1 121.1" stroke="#22ee22" stroke-width="0.9"/>
<path d="M510.0 122.0L505.7 122.9L506.5 119.2Z" fill="#22ee22"/>
<path d="M459.3 110.0L498.3 125.5" stroke="#22ee22" stroke-width="0.9"/>
<path d="M502.0 127.0L497.6 127.3L499.0 123.8Z" fill="#22ee22"/>
<path d="M459.3 110.0L512.1 119.3" stroke="#22ee22" stroke-width="0.9"/>
<path d="M516.0 120.0L511.7 121.2L512.4 117.4Z" fill="#22ee22"/>
<path d="M459.3 110.0L518.1 122.2" stroke="#22ee22" stroke-width="0.9"/>
<path d="M522.0 123.0L517.7 124.0L518.5 120.3Z" fill="#22ee22"/>
<path d="M459.3 110.0L504.2 126.6" stroke="#22ee22" stroke-width="0.9"/>
<path d="M508.0 128.0L503.6 128.4L504.9 124.8Z" fill="#22ee22"/>
<path d="M459.3 110.0L493.3 124.4" stroke="#22ee22" stroke-width="0.9"/>
<path d="M497.0 126.0L492.6 126.2L494.1 122.7Z" fill="#22ee22"/>
<path d="M459.3 110.0L501.3 128.4" stroke="#22ee22" stroke-width="0.9"/>
<path d="M505.0 130.0L500.6 130.1L502.1 126.7Z" fill="#22ee22"/>
<path d="M459.3 110.0L517.0 117.0" stroke="#22ee22" stroke-width="0.9"/>
<path d="M521.0 117.5L516.8 118.9L517.3 115.1Z" fill="#22ee22"/>
<path d="M459.3 110.0L522.1 123.2" stroke="#22ee22" stroke-width="0.9"/>
<path d="M526.0 124.0L521.7 125.0L522.5 121.3Z" fill="#22ee22"/>
<path d="M459.3 110V22" stroke="#555" stroke-width="1.4"/>
<path d="M459.3 110V24" stroke="#000" stroke-width="0.6"/>
<path d="M459.3 13.8L454.8 22.5H463.8Z" fill="#000"/>
<path d="M459.3 110L389 137" stroke="#000" stroke-width="1.3"/>
<path d="M380.5 141.5L388.6 133.2L391.8 141.2Z" fill="#000"/>
<path d="M459.3 110L536 130.8" stroke="#000" stroke-width="1.3"/>
<path d="M544.3 133.7L535 127.5L533.5 135Z" fill="#000"/>
<text x="468.00" y="26.50" font-size="7.2" text-anchor="start" fill="#222">Metagene 3</text>
<text x="399.00" y="153.00" font-size="7.2" text-anchor="end" fill="#222">Metagene 1</text>
<text x="532.00" y="145.30" font-size="7.2" text-anchor="start" fill="#222">Metagene 2</text>
<text x="451.70" y="34.00" font-size="5.2" text-anchor="middle" fill="#111" font-style="italic">Sell</text>
<text x="450.80" y="39.60" font-size="5.2" text-anchor="middle" fill="#111" font-style="italic">Ccr6</text>
<text x="448.20" y="55.90" font-size="5.2" text-anchor="middle" fill="#111" font-style="italic">Gpr18</text>
<text x="462.00" y="41.50" font-size="5.2" text-anchor="start" fill="#111" font-style="italic">Gpr34</text>
<text x="466.70" y="47.20" font-size="5.2" text-anchor="start" fill="#111" font-style="italic">Gpr171</text>
<text x="463.80" y="52.00" font-size="5.2" text-anchor="start" fill="#111" font-style="italic">Gpr183</text>
<text x="464.50" y="56.40" font-size="5.2" text-anchor="start" fill="#111" font-style="italic">Klf2</text>
<text x="465.40" y="60.20" font-size="5.2" text-anchor="start" fill="#111" font-style="italic">Cd36</text>
<text x="462.30" y="68.80" font-size="5.2" text-anchor="start" fill="#111" font-style="italic">Ccr7</text>
<text x="475.70" y="70.40" font-size="5.2" text-anchor="start" fill="#111" font-style="italic">Cxcr3</text>
<text x="412.20" y="113.20" font-size="5.2" text-anchor="middle" fill="#111" font-style="italic">Cdk1</text>
<text x="416.20" y="118.50" font-size="5.2" text-anchor="middle" fill="#111" font-style="italic">Top2a</text>
<text x="397.80" y="120.80" font-size="5.2" text-anchor="middle" fill="#111" font-style="italic">Aicda</text>
<text x="398.50" y="125.50" font-size="5.2" text-anchor="middle" fill="#111" font-style="italic">Birc5</text>
<text x="393.70" y="129.60" font-size="5.2" text-anchor="middle" fill="#111" font-style="italic">Pcna</text>
<text x="428.00" y="128.20" font-size="5.2" text-anchor="middle" fill="#111" font-style="italic">Tpx2</text>
<text x="415.30" y="134.00" font-size="5.2" text-anchor="middle" fill="#111" font-style="italic">Ccnb2</text>
<text x="406.60" y="138.40" font-size="5.2" text-anchor="middle" fill="#111" font-style="italic">Ccnb1</text>
<text x="421.50" y="141.00" font-size="5.2" text-anchor="middle" fill="#111" font-style="italic">Mki67</text>
<text x="438.20" y="138.90" font-size="5.2" text-anchor="middle" fill="#111" font-style="italic">Cks1b</text>
<text x="520.90" y="112.50" font-size="5.2" text-anchor="middle" fill="#111" font-style="italic">Sgpc3</text>
<text x="510.20" y="116.70" font-size="5.2" text-anchor="middle" fill="#111" font-style="italic">Edem2</text>
<text x="511.00" y="121.50" font-size="5.2" text-anchor="middle" fill="#111" font-style="italic">Sec61b</text>
<text x="526.00" y="121.50" font-size="5.2" text-anchor="middle" fill="#111" font-style="italic">Dnajc3</text>
<text x="504.00" y="127.20" font-size="5.2" text-anchor="middle" fill="#111" font-style="italic">Bet1</text>
<text x="518.00" y="127.20" font-size="5.2" text-anchor="middle" fill="#111" font-style="italic">Xbp1</text>
<text x="533.00" y="127.20" font-size="5.2" text-anchor="middle" fill="#111" font-style="italic">Ighg2c</text>
<text x="496.40" y="134.30" font-size="5.2" text-anchor="middle" fill="#111" font-style="italic">Ssr3</text>
<text x="515.60" y="131.60" font-size="5.2" text-anchor="middle" fill="#111" font-style="italic">Ppib</text>
<text x="514.60" y="137.80" font-size="5.2" text-anchor="middle" fill="#111" font-style="italic">J chain</text>
<text x="-0.40" y="202.70" font-size="12.2" text-anchor="start" fill="#000" font-weight="bold">d</text>
<text x="85.80" y="204.60" font-size="5.66" text-anchor="middle" fill="#111">Enrichment plot: UP_LZVNAIVE_VICTORA</text>
<g stroke="#e6e6e6" stroke-width="0.5">
<path d="M31.6 209.1V265.4"/>
<path d="M31.6 293.3V331.0"/>
<path d="M42.3 209.1V265.4"/>
<path d="M42.3 293.3V331.0"/>
<path d="M52.9 209.1V265.4"/>
<path d="M52.9 293.3V331.0"/>
<path d="M63.5 209.1V265.4"/>
<path d="M63.5 293.3V331.0"/>
<path d="M74.2 209.1V265.4"/>
<path d="M74.2 293.3V331.0"/>
<path d="M84.8 209.1V265.4"/>
<path d="M84.8 293.3V331.0"/>
<path d="M95.4 209.1V265.4"/>
<path d="M95.4 293.3V331.0"/>
<path d="M106.1 209.1V265.4"/>
<path d="M106.1 293.3V331.0"/>
<path d="M116.7 209.1V265.4"/>
<path d="M116.7 293.3V331.0"/>
<path d="M127.3 209.1V265.4"/>
<path d="M127.3 293.3V331.0"/>
<path d="M138.0 209.1V265.4"/>
<path d="M138.0 293.3V331.0"/>
<path d="M20.6 259.3H151.0"/>
<path d="M20.6 253.3H151.0"/>
<path d="M20.6 247.2H151.0"/>
<path d="M20.6 241.1H151.0"/>
<path d="M20.6 235.0H151.0"/>
<path d="M20.6 229.0H151.0"/>
<path d="M20.6 222.9H151.0"/>
<path d="M20.6 216.8H151.0"/>
<path d="M20.6 210.8H151.0"/>
<path d="M20.6 297.5H151.0"/>
<path d="M20.6 304.5H151.0"/>
<path d="M20.6 311.4H151.0"/>
<path d="M20.6 325.3H151.0"/>
</g>
<g stroke="#bdbdbd" stroke-width="0.6" fill="none">
<path d="M20.6 209.1H151.0V331.0H20.6Z"/>
<path d="M20.6 268.2H151.0M20.6 292.7H151.0"/>
</g>
<path d="M20.6 265.4H151.0" stroke="#c4c4c4" stroke-width="0.9"/>
<text x="19.30" y="266.70" font-size="3.7" text-anchor="end" fill="#333">0.0</text>
<text x="19.30" y="260.63" font-size="3.7" text-anchor="end" fill="#333">0.1</text>
<text x="19.30" y="254.56" font-size="3.7" text-anchor="end" fill="#333">0.2</text>
<text x="19.30" y="248.49" font-size="3.7" text-anchor="end" fill="#333">0.3</text>
<text x="19.30" y="242.42" font-size="3.7" text-anchor="end" fill="#333">0.4</text>
<text x="19.30" y="236.35" font-size="3.7" text-anchor="end" fill="#333">0.5</text>
<text x="19.30" y="230.28" font-size="3.7" text-anchor="end" fill="#333">0.6</text>
<text x="19.30" y="224.21" font-size="3.7" text-anchor="end" fill="#333">0.7</text>
<text x="19.30" y="218.14" font-size="3.7" text-anchor="end" fill="#333">0.8</text>
<text x="19.30" y="212.07" font-size="3.7" text-anchor="end" fill="#333">0.9</text>
<text x="9.60" y="237.25" font-size="3.3" text-anchor="middle" fill="#333" transform="rotate(-90 9.6 237.2)">Enrichment score (ES)</text>
<text x="9.60" y="313.20" font-size="3.3" text-anchor="middle" fill="#333" transform="rotate(-90 9.6 313.2)">Ranked list metric (Signal2Noise)</text>
<g shape-rendering="geometricPrecision">
<rect x="21.00" y="268.8" width="21.00" height="18.6" fill="#000"/>
<rect x="24.20" y="268.8" width="0.60" height="18.6" fill="#444"/>
<rect x="32.80" y="268.8" width="0.80" height="18.6" fill="#333"/>
<rect x="39.50" y="268.8" width="2.50" height="18.6" fill="#555"/>
<rect x="43.60" y="268.8" width="0.50" height="18.6" fill="#000"/>
<rect x="44.60" y="268.8" width="0.40" height="18.6" fill="#000"/>
<rect x="47.00" y="268.8" width="0.90" height="18.6" fill="#000"/>
<rect x="49.20" y="268.8" width="0.50" height="18.6" fill="#000"/>
<rect x="57.20" y="268.8" width="0.40" height="18.6" fill="#444"/>
<rect x="73.90" y="268.8" width="0.50" height="18.6" fill="#444"/>
<rect x="77.50" y="268.8" width="0.40" height="18.6" fill="#444"/>
<rect x="80.10" y="268.8" width="2.50" height="18.6" fill="#777"/>
<rect x="100.40" y="268.8" width="0.40" height="18.6" fill="#444"/>
<rect x="112.40" y="268.8" width="0.40" height="18.6" fill="#444"/>
<rect x="123.60" y="268.8" width="0.50" height="18.6" fill="#444"/>
<rect x="142.30" y="268.8" width="0.50" height="18.6" fill="#444"/>
</g>
<defs><linearGradient id="g627" x1="0" x2="1" y1="0" y2="0"><stop offset="0" stop-color="#c83040"/><stop offset="1" stop-color="#e86070"/></linearGradient></defs>
<rect x="21.2" y="287.4" width="26.8" height="4.9" fill="url(#g627)"/>
<rect x="48.0" y="287.4" width="11.8" height="4.9" fill="#f2b2ce"/>
<rect x="59.8" y="287.4" width="13.0" height="4.9" fill="#d4d4f0"/>
<rect x="72.8" y="287.4" width="16.0" height="4.9" fill="#b4b6e4"/>
<rect x="88.8" y="287.4" width="14.8" height="4.9" fill="#7482d0"/>
<rect x="103.6" y="287.4" width="26.6" height="4.9" fill="#5462c0"/>
<rect x="130.2" y="287.4" width="14.5" height="4.9" fill="#3444a8"/>
<text x="22.00" y="295.60" font-size="3.4" text-anchor="start" fill="#d03030">'pop1' (positively correlated)</text>
<text x="108.40" y="329.50" font-size="3.4" text-anchor="middle" fill="#3050c0">'pop2&3' (negatively correlated)</text>
<path d="M21.0 318.4L21.0 299.8L21.6 302.5L22.5 305.5L25.0 306.5L30.0 308.5L35.1 309.6L45.0 311.4L51.0 314.5L56.2 317.0L59.8 318.4L70.3 319.3L87.9 320.5L105.0 321.8L120.0 323.3L135.0 325.0L140.6 326.0L143.0 328.0L144.0 331.0L144.0 318.4Z" fill="#bdbdbd"/>
<path d="M20.6 318.4H151.0" stroke="#9a9a9a" stroke-width="0.4"/>
<path d="M59.8 293.3V331.0" stroke="#888" stroke-width="0.4" stroke-dasharray="0.8 0.8"/>
<text x="47.30" y="313.20" font-size="3.4" text-anchor="start" fill="#222">Zero cross at 367</text>
<text x="19.30" y="298.85" font-size="3.7" text-anchor="end" fill="#333">1.5</text>
<text x="19.30" y="305.80" font-size="3.7" text-anchor="end" fill="#333">1.0</text>
<text x="19.30" y="312.75" font-size="3.7" text-anchor="end" fill="#333">0.5</text>
<text x="19.30" y="319.70" font-size="3.7" text-anchor="end" fill="#333">0.0</text>
<text x="19.30" y="326.65" font-size="3.7" text-anchor="end" fill="#333">−0.5</text>
<text x="21.00" y="335.70" font-size="3.8" text-anchor="middle" fill="#333">0</text>
<text x="31.63" y="335.70" font-size="3.8" text-anchor="middle" fill="#333">100</text>
<text x="42.27" y="335.70" font-size="3.8" text-anchor="middle" fill="#333">200</text>
<text x="52.90" y="335.70" font-size="3.8" text-anchor="middle" fill="#333">300</text>
<text x="63.53" y="335.70" font-size="3.8" text-anchor="middle" fill="#333">400</text>
<text x="74.17" y="335.70" font-size="3.8" text-anchor="middle" fill="#333">500</text>
<text x="84.80" y="335.70" font-size="3.8" text-anchor="middle" fill="#333">600</text>
<text x="95.43" y="335.70" font-size="3.8" text-anchor="middle" fill="#333">700</text>
<text x="106.07" y="335.70" font-size="3.8" text-anchor="middle" fill="#333">800</text>
<text x="116.70" y="335.70" font-size="3.8" text-anchor="middle" fill="#333">900</text>
<text x="127.33" y="335.70" font-size="3.8" text-anchor="middle" fill="#333">1000</text>
<text x="137.97" y="335.70" font-size="3.8" text-anchor="middle" fill="#333">1100</text>
<text x="148.60" y="335.70" font-size="3.8" text-anchor="middle" fill="#333">1200</text>
<text x="83.80" y="340.50" font-size="3.5" text-anchor="middle" fill="#222">Rank in ordered dataset</text>
<rect x="26.7" y="343.7" width="103.9" height="5.6" fill="#fff" stroke="#666" stroke-width="0.5"/>
<path d="M28.5 346.5h5" stroke="#6ac04a" stroke-width="1"/>
<text x="35.80" y="347.70" font-size="3.5" text-anchor="start" fill="#333">Enrichment profile</text>
<path d="M67 346.5h5" stroke="#333" stroke-width="0.5"/>
<text x="73.50" y="347.70" font-size="3.5" text-anchor="start" fill="#333">Hits</text>
<path d="M86.3 346.5h5" stroke="#bbb" stroke-width="0.5"/>
<text x="92.40" y="347.70" font-size="3.5" text-anchor="start" fill="#333">Ranking metric scores</text>
<path d="M21.0 264.0L22.0 257.7L23.4 249.2L25.5 240.8L27.6 235.2L31.1 225.3L34.6 221.1L38.1 213.4L41.2 211.5L43.8 212.4L48.7 214.8L59.2 220.4L73.3 228.8L78.9 231.6L90.0 236.8L144.5 265.2" fill="none" stroke="#5ec23a" stroke-width="1.4" stroke-linejoin="round"/>
<text x="120.00" y="220.00" font-size="4.8" text-anchor="start" fill="#111">ES 0.88</text>
<text x="120.00" y="230.00" font-size="4.8" text-anchor="start" fill="#111">NES 4.06</text>
<text x="120.00" y="239.60" font-size="4.8" text-anchor="start" fill="#111">FDR 0</text>
<text x="53.30" y="255.20" font-size="4.9" text-anchor="start" fill="#2a2ae0">Pop. 1</text>
<text x="-0.40" y="371.40" font-size="12.2" text-anchor="start" fill="#000" font-weight="bold">e</text>
<text x="85.50" y="371.30" font-size="5.5" text-anchor="middle" fill="#111">Enrichment plot:</text>
<text x="84.60" y="377.50" font-size="5.41" text-anchor="middle" fill="#111">GSE13411_PLASMA_CELL_VS_MEMORY_BCELL_UP</text>
<g stroke="#e6e6e6" stroke-width="0.5">
<path d="M31.6 381.7V434.2"/>
<path d="M31.6 461.0V496.7"/>
<path d="M42.3 381.7V434.2"/>
<path d="M42.3 461.0V496.7"/>
<path d="M52.9 381.7V434.2"/>
<path d="M52.9 461.0V496.7"/>
<path d="M63.5 381.7V434.2"/>
<path d="M63.5 461.0V496.7"/>
<path d="M74.2 381.7V434.2"/>
<path d="M74.2 461.0V496.7"/>
<path d="M84.8 381.7V434.2"/>
<path d="M84.8 461.0V496.7"/>
<path d="M95.4 381.7V434.2"/>
<path d="M95.4 461.0V496.7"/>
<path d="M106.1 381.7V434.2"/>
<path d="M106.1 461.0V496.7"/>
<path d="M116.7 381.7V434.2"/>
<path d="M116.7 461.0V496.7"/>
<path d="M127.3 381.7V434.2"/>
<path d="M127.3 461.0V496.7"/>
<path d="M138.0 381.7V434.2"/>
<path d="M138.0 461.0V496.7"/>
<path d="M20.0 427.1H151.0"/>
<path d="M20.0 419.9H151.0"/>
<path d="M20.0 412.8H151.0"/>
<path d="M20.0 405.6H151.0"/>
<path d="M20.0 398.5H151.0"/>
<path d="M20.0 391.4H151.0"/>
<path d="M20.0 384.2H151.0"/>
<path d="M20.0 460.6H151.0"/>
<path d="M20.0 465.9H151.0"/>
<path d="M20.0 471.3H151.0"/>
<path d="M20.0 476.6H151.0"/>
<path d="M20.0 487.4H151.0"/>
<path d="M20.0 492.7H151.0"/>
</g>
<g stroke="#bdbdbd" stroke-width="0.6" fill="none">
<path d="M20.0 381.7H151.0V496.7H20.0Z"/>
<path d="M20.0 437.3H151.0M20.0 460.4H151.0"/>
</g>
<path d="M20.0 434.2H151.0" stroke="#c4c4c4" stroke-width="0.9"/>
<text x="18.70" y="435.50" font-size="3.7" text-anchor="end" fill="#333">0.0</text>
<text x="18.70" y="428.36" font-size="3.7" text-anchor="end" fill="#333">0.1</text>
<text x="18.70" y="421.22" font-size="3.7" text-anchor="end" fill="#333">0.2</text>
<text x="18.70" y="414.08" font-size="3.7" text-anchor="end" fill="#333">0.3</text>
<text x="18.70" y="406.94" font-size="3.7" text-anchor="end" fill="#333">0.4</text>
<text x="18.70" y="399.80" font-size="3.7" text-anchor="end" fill="#333">0.5</text>
<text x="18.70" y="392.66" font-size="3.7" text-anchor="end" fill="#333">0.6</text>
<text x="18.70" y="385.52" font-size="3.7" text-anchor="end" fill="#333">0.7</text>
<text x="9.60" y="407.95" font-size="3.3" text-anchor="middle" fill="#333" transform="rotate(-90 9.6 407.9)">Enrichment score (ES)</text>
<text x="9.60" y="480.15" font-size="3.3" text-anchor="middle" fill="#333" transform="rotate(-90 9.6 480.1)">Ranked list metric (Signal2Noise)</text>
<g shape-rendering="geometricPrecision">
<rect x="20.20" y="437.9" width="3.30" height="17.7" fill="#000"/>
<rect x="23.50" y="437.9" width="3.10" height="17.7" fill="#999"/>
<rect x="28.40" y="437.9" width="0.50" height="17.7" fill="#000"/>
<rect x="29.70" y="437.9" width="3.10" height="17.7" fill="#aaa"/>
<rect x="34.50" y="437.9" width="0.40" height="17.7" fill="#555"/>
<rect x="36.40" y="437.9" width="0.40" height="17.7" fill="#555"/>
<rect x="38.20" y="437.9" width="0.40" height="17.7" fill="#555"/>
<rect x="39.80" y="437.9" width="0.40" height="17.7" fill="#555"/>
<rect x="43.70" y="437.9" width="1.10" height="17.7" fill="#666"/>
<rect x="47.40" y="437.9" width="0.40" height="17.7" fill="#000"/>
<rect x="49.30" y="437.9" width="0.40" height="17.7" fill="#000"/>
<rect x="57.50" y="437.9" width="0.60" height="17.7" fill="#666"/>
<rect x="67.10" y="437.9" width="0.40" height="17.7" fill="#000"/>
<rect x="68.60" y="437.9" width="0.40" height="17.7" fill="#000"/>
<rect x="72.60" y="437.9" width="1.90" height="17.7" fill="#555"/>
<rect x="75.70" y="437.9" width="0.40" height="17.7" fill="#000"/>
<rect x="77.60" y="437.9" width="1.90" height="17.7" fill="#666"/>
<rect x="81.90" y="437.9" width="0.40" height="17.7" fill="#000"/>
<rect x="85.30" y="437.9" width="0.40" height="17.7" fill="#444"/>
<rect x="95.00" y="437.9" width="0.40" height="17.7" fill="#444"/>
<rect x="99.40" y="437.9" width="0.40" height="17.7" fill="#444"/>
<rect x="101.00" y="437.9" width="0.40" height="17.7" fill="#444"/>
<rect x="125.80" y="437.9" width="0.40" height="17.7" fill="#444"/>
</g>
<defs><linearGradient id="g752" x1="0" x2="1" y1="0" y2="0"><stop offset="0" stop-color="#c82a36"/><stop offset="1" stop-color="#e04a58"/></linearGradient></defs>
<rect x="20.2" y="455.6" width="21.8" height="4.4" fill="url(#g752)"/>
<defs><linearGradient id="g754" x1="0" x2="1" y1="0" y2="0"><stop offset="0" stop-color="#e6566a"/><stop offset="1" stop-color="#ea6c7c"/></linearGradient></defs>
<rect x="42.0" y="455.6" width="15.4" height="4.4" fill="url(#g754)"/>
<rect x="57.4" y="455.6" width="7.1" height="4.4" fill="#f08890"/>
<rect x="64.5" y="455.6" width="7.6" height="4.4" fill="#f2b2ce"/>
<rect x="72.1" y="455.6" width="15.9" height="4.4" fill="#d4d4f0"/>
<rect x="88.0" y="455.6" width="10.0" height="4.4" fill="#b4b6e4"/>
<rect x="98.0" y="455.6" width="15.0" height="4.4" fill="#7482d0"/>
<rect x="113.0" y="455.6" width="20.0" height="4.4" fill="#5462c0"/>
<rect x="133.0" y="455.6" width="10.5" height="4.4" fill="#3444a8"/>
<text x="22.00" y="463.30" font-size="3.4" text-anchor="start" fill="#d03030">'pop2' (positively correlated)</text>
<text x="108.40" y="495.20" font-size="3.4" text-anchor="middle" fill="#3050c0">'pop1&3' (negatively correlated)</text>
<path d="M21.0 482.0L20.2 462.5L21.0 464.8L24.6 468.3L35.0 472.9L52.7 476.4L70.3 480.0L73.8 482.0L90.0 483.5L105.4 484.8L123.0 487.6L137.0 491.0L142.3 494.7L144.0 496.5L144.0 482.0Z" fill="#bdbdbd"/>
<path d="M20.0 482.0H151.0" stroke="#9a9a9a" stroke-width="0.4"/>
<path d="M73.5 461.0V496.7" stroke="#888" stroke-width="0.4" stroke-dasharray="0.8 0.8"/>
<text x="60.00" y="478.50" font-size="3.4" text-anchor="start" fill="#222">Zero cross at 491</text>
<text x="18.70" y="461.90" font-size="3.7" text-anchor="end" fill="#333">2.0</text>
<text x="18.70" y="467.25" font-size="3.7" text-anchor="end" fill="#333">1.5</text>
<text x="18.70" y="472.60" font-size="3.7" text-anchor="end" fill="#333">1.0</text>
<text x="18.70" y="477.95" font-size="3.7" text-anchor="end" fill="#333">0.5</text>
<text x="18.70" y="483.30" font-size="3.7" text-anchor="end" fill="#333">0.0</text>
<text x="18.70" y="488.65" font-size="3.7" text-anchor="end" fill="#333">−0.5</text>
<text x="18.70" y="494.00" font-size="3.7" text-anchor="end" fill="#333">−1.0</text>
<text x="21.00" y="501.40" font-size="3.8" text-anchor="middle" fill="#333">0</text>
<text x="31.63" y="501.40" font-size="3.8" text-anchor="middle" fill="#333">100</text>
<text x="42.27" y="501.40" font-size="3.8" text-anchor="middle" fill="#333">200</text>
<text x="52.90" y="501.40" font-size="3.8" text-anchor="middle" fill="#333">300</text>
<text x="63.53" y="501.40" font-size="3.8" text-anchor="middle" fill="#333">400</text>
<text x="74.17" y="501.40" font-size="3.8" text-anchor="middle" fill="#333">500</text>
<text x="84.80" y="501.40" font-size="3.8" text-anchor="middle" fill="#333">600</text>
<text x="95.43" y="501.40" font-size="3.8" text-anchor="middle" fill="#333">700</text>
<text x="106.07" y="501.40" font-size="3.8" text-anchor="middle" fill="#333">800</text>
<text x="116.70" y="501.40" font-size="3.8" text-anchor="middle" fill="#333">900</text>
<text x="127.33" y="501.40" font-size="3.8" text-anchor="middle" fill="#333">1000</text>
<text x="137.97" y="501.40" font-size="3.8" text-anchor="middle" fill="#333">1100</text>
<text x="148.60" y="501.40" font-size="3.8" text-anchor="middle" fill="#333">1200</text>
<text x="83.80" y="506.20" font-size="3.5" text-anchor="middle" fill="#222">Rank in ordered dataset</text>
<rect x="26.7" y="509.4" width="103.9" height="5.6" fill="#fff" stroke="#666" stroke-width="0.5"/>
<path d="M28.5 512.2h5" stroke="#6ac04a" stroke-width="1"/>
<text x="35.80" y="513.40" font-size="3.5" text-anchor="start" fill="#333">Enrichment profile</text>
<path d="M67 512.2h5" stroke="#333" stroke-width="0.5"/>
<text x="73.50" y="513.40" font-size="3.5" text-anchor="start" fill="#333">Hits</text>
<path d="M86.3 512.2h5" stroke="#bbb" stroke-width="0.5"/>
<text x="92.40" y="513.40" font-size="3.5" text-anchor="start" fill="#333">Ranking metric scores</text>
<path d="M19.8 434.3L21.1 422.5L23.2 406.6L25.3 393.5L27.1 390.8L29.8 386.9L33.7 385.0L39.0 385.0L43.0 386.0L45.6 384.2L49.5 384.2L53.5 386.9L58.8 388.7L75.9 398.2L86.5 402.2L97.0 408.0L104.9 410.6L126.0 423.8L144.5 434.3" fill="none" stroke="#5ec23a" stroke-width="1.4" stroke-linejoin="round"/>
<text x="122.70" y="391.60" font-size="4.8" text-anchor="start" fill="#111">ES 0.70</text>
<text x="122.70" y="400.60" font-size="4.8" text-anchor="start" fill="#111">NES 2.51</text>
<text x="122.70" y="409.60" font-size="4.8" text-anchor="start" fill="#111">FDR 0</text>
<text x="45.70" y="424.20" font-size="4.9" text-anchor="start" fill="#40b030">Pop. 2</text>
<text x="0.40" y="539.40" font-size="12.2" text-anchor="start" fill="#000" font-weight="bold">f</text>
<text x="85.50" y="539.40" font-size="5.5" text-anchor="middle" fill="#111">Enrichment plot:</text>
<text x="85.50" y="545.70" font-size="5.37" text-anchor="middle" fill="#111">GSE13411_IGM_MEMORY_BCELL_VS_PLASMA_CELL_UP</text>
<g stroke="#e6e6e6" stroke-width="0.5">
<path d="M31.6 549.0V601.3"/>
<path d="M31.6 628.5V664.3"/>
<path d="M42.3 549.0V601.3"/>
<path d="M42.3 628.5V664.3"/>
<path d="M52.9 549.0V601.3"/>
<path d="M52.9 628.5V664.3"/>
<path d="M63.5 549.0V601.3"/>
<path d="M63.5 628.5V664.3"/>
<path d="M74.2 549.0V601.3"/>
<path d="M74.2 628.5V664.3"/>
<path d="M84.8 549.0V601.3"/>
<path d="M84.8 628.5V664.3"/>
<path d="M95.4 549.0V601.3"/>
<path d="M95.4 628.5V664.3"/>
<path d="M106.1 549.0V601.3"/>
<path d="M106.1 628.5V664.3"/>
<path d="M116.7 549.0V601.3"/>
<path d="M116.7 628.5V664.3"/>
<path d="M127.3 549.0V601.3"/>
<path d="M127.3 628.5V664.3"/>
<path d="M138.0 549.0V601.3"/>
<path d="M138.0 628.5V664.3"/>
<path d="M20.1 593.3H151.0"/>
<path d="M20.1 585.4H151.0"/>
<path d="M20.1 577.4H151.0"/>
<path d="M20.1 569.5H151.0"/>
<path d="M20.1 561.5H151.0"/>
<path d="M20.1 553.6H151.0"/>
<path d="M20.1 630.9H151.0"/>
<path d="M20.1 637.9H151.0"/>
<path d="M20.1 652.1H151.0"/>
<path d="M20.1 659.1H151.0"/>
</g>
<g stroke="#bdbdbd" stroke-width="0.6" fill="none">
<path d="M20.1 549.0H151.0V664.3H20.1Z"/>
<path d="M20.1 605.3H151.0M20.1 627.9H151.0"/>
</g>
<path d="M20.1 601.3H151.0" stroke="#c4c4c4" stroke-width="0.9"/>
<text x="18.80" y="602.60" font-size="3.7" text-anchor="end" fill="#333">0.0</text>
<text x="18.80" y="594.65" font-size="3.7" text-anchor="end" fill="#333">0.1</text>
<text x="18.80" y="586.70" font-size="3.7" text-anchor="end" fill="#333">0.2</text>
<text x="18.80" y="578.75" font-size="3.7" text-anchor="end" fill="#333">0.3</text>
<text x="18.80" y="570.80" font-size="3.7" text-anchor="end" fill="#333">0.4</text>
<text x="18.80" y="562.85" font-size="3.7" text-anchor="end" fill="#333">0.5</text>
<text x="18.80" y="554.90" font-size="3.7" text-anchor="end" fill="#333">0.6</text>
<text x="9.60" y="575.15" font-size="3.3" text-anchor="middle" fill="#333" transform="rotate(-90 9.6 575.1)">Enrichment score (ES)</text>
<text x="9.60" y="647.45" font-size="3.3" text-anchor="middle" fill="#333" transform="rotate(-90 9.6 647.5)">Ranked list metric (Signal2Noise)</text>
<g shape-rendering="geometricPrecision">
<rect x="21.30" y="605.9" width="0.50" height="16.7" fill="#333"/>
<rect x="22.80" y="605.9" width="0.50" height="16.7" fill="#333"/>
<rect x="24.30" y="605.9" width="0.50" height="16.7" fill="#333"/>
<rect x="28.20" y="605.9" width="0.50" height="16.7" fill="#333"/>
<rect x="31.40" y="605.9" width="0.50" height="16.7" fill="#333"/>
<rect x="32.70" y="605.9" width="0.50" height="16.7" fill="#333"/>
<rect x="35.60" y="605.9" width="0.50" height="16.7" fill="#333"/>
<rect x="37.10" y="605.9" width="0.50" height="16.7" fill="#333"/>
<rect x="45.00" y="605.9" width="2.00" height="16.7" fill="#777"/>
<rect x="57.30" y="605.9" width="0.50" height="16.7" fill="#999"/>
<rect x="64.70" y="605.9" width="0.50" height="16.7" fill="#333"/>
<rect x="69.10" y="605.9" width="1.30" height="16.7" fill="#666"/>
<rect x="78.20" y="605.9" width="0.50" height="16.7" fill="#333"/>
<rect x="80.60" y="605.9" width="0.50" height="16.7" fill="#333"/>
<rect x="84.30" y="605.9" width="0.50" height="16.7" fill="#333"/>
</g>
<defs><linearGradient id="g870" x1="0" x2="1" y1="0" y2="0"><stop offset="0" stop-color="#d03040"/><stop offset="1" stop-color="#ec7c88"/></linearGradient></defs>
<rect x="20.2" y="622.6" width="54.4" height="4.9" fill="url(#g870)"/>
<rect x="74.6" y="622.6" width="6.1" height="4.9" fill="#f2b2ce"/>
<rect x="80.7" y="622.6" width="14.8" height="4.9" fill="#c8c8ec"/>
<rect x="95.5" y="622.6" width="17.2" height="4.9" fill="#7c88d2"/>
<rect x="112.7" y="622.6" width="22.9" height="4.9" fill="#5462c0"/>
<rect x="135.6" y="622.6" width="8.9" height="4.9" fill="#3444a8"/>
<text x="22.00" y="630.80" font-size="3.4" text-anchor="start" fill="#d03030">'pop3' (positively correlated)</text>
<text x="108.40" y="662.80" font-size="3.4" text-anchor="middle" fill="#3050c0">'pop1&pop2' (negatively correlated)</text>
<path d="M21.0 645.0L20.2 628.0L21.0 630.0L23.0 634.0L30.0 636.5L35.0 637.7L52.7 641.3L70.3 643.7L80.0 645.0L90.0 646.2L100.0 647.8L116.0 651.8L130.0 654.5L140.6 657.0L143.0 660.0L144.0 664.0L144.0 645.0Z" fill="#bdbdbd"/>
<path d="M20.1 645.0H151.0" stroke="#9a9a9a" stroke-width="0.4"/>
<path d="M80.0 628.5V664.3" stroke="#888" stroke-width="0.4" stroke-dasharray="0.8 0.8"/>
<text x="66.00" y="643.80" font-size="3.4" text-anchor="start" fill="#222">Zero cross at 555</text>
<text x="18.80" y="632.16" font-size="3.7" text-anchor="end" fill="#333">1.0</text>
<text x="18.80" y="639.23" font-size="3.7" text-anchor="end" fill="#333">0.5</text>
<text x="18.80" y="646.30" font-size="3.7" text-anchor="end" fill="#333">0.0</text>
<text x="18.80" y="653.37" font-size="3.7" text-anchor="end" fill="#333">−0.5</text>
<text x="18.80" y="660.44" font-size="3.7" text-anchor="end" fill="#333">−1.0</text>
<text x="21.00" y="669.00" font-size="3.8" text-anchor="middle" fill="#333">0</text>
<text x="31.63" y="669.00" font-size="3.8" text-anchor="middle" fill="#333">100</text>
<text x="42.27" y="669.00" font-size="3.8" text-anchor="middle" fill="#333">200</text>
<text x="52.90" y="669.00" font-size="3.8" text-anchor="middle" fill="#333">300</text>
<text x="63.53" y="669.00" font-size="3.8" text-anchor="middle" fill="#333">400</text>
<text x="74.17" y="669.00" font-size="3.8" text-anchor="middle" fill="#333">500</text>
<text x="84.80" y="669.00" font-size="3.8" text-anchor="middle" fill="#333">600</text>
<text x="95.43" y="669.00" font-size="3.8" text-anchor="middle" fill="#333">700</text>
<text x="106.07" y="669.00" font-size="3.8" text-anchor="middle" fill="#333">800</text>
<text x="116.70" y="669.00" font-size="3.8" text-anchor="middle" fill="#333">900</text>
<text x="127.33" y="669.00" font-size="3.8" text-anchor="middle" fill="#333">1000</text>
<text x="137.97" y="669.00" font-size="3.8" text-anchor="middle" fill="#333">1100</text>
<text x="148.60" y="669.00" font-size="3.8" text-anchor="middle" fill="#333">1200</text>
<text x="83.80" y="673.80" font-size="3.5" text-anchor="middle" fill="#222">Rank in ordered dataset</text>
<rect x="26.7" y="677.0" width="103.9" height="5.6" fill="#fff" stroke="#666" stroke-width="0.5"/>
<path d="M28.5 679.8h5" stroke="#6ac04a" stroke-width="1"/>
<text x="35.80" y="681.00" font-size="3.5" text-anchor="start" fill="#333">Enrichment profile</text>
<path d="M67 679.8h5" stroke="#333" stroke-width="0.5"/>
<text x="73.50" y="681.00" font-size="3.5" text-anchor="start" fill="#333">Hits</text>
<path d="M86.3 679.8h5" stroke="#bbb" stroke-width="0.5"/>
<text x="92.40" y="681.00" font-size="3.5" text-anchor="start" fill="#333">Ranking metric scores</text>
<path d="M20.8 602.0L21.5 594.2L22.5 587.2L23.3 575.2L24.3 569.6L28.5 572.0L29.5 567.5L31.8 569.6L32.5 565.8L35.2 567.2L36.0 564.0L37.7 557.7L38.8 554.6L45.4 559.1L46.6 554.1L47.8 551.3L58.1 557.9L59.1 556.0L64.4 559.1L65.5 557.9L68.6 560.8L71.2 557.4L73.6 558.8L75.7 559.1L77.8 560.5L79.9 560.8L85.2 563.6L86.2 563.0L98.0 571.0L144.5 602.0" fill="none" stroke="#5ec23a" stroke-width="1.4" stroke-linejoin="round"/>
<text x="118.30" y="558.00" font-size="4.8" text-anchor="start" fill="#111">ES 0.63</text>
<text x="118.30" y="568.00" font-size="4.8" text-anchor="start" fill="#111">NES 2.79</text>
<text x="118.30" y="577.30" font-size="4.8" text-anchor="start" fill="#111">FDR 0</text>
<text x="44.30" y="592.50" font-size="4.9" text-anchor="start" fill="#e83030">Pop. 3</text>
<text x="197.80" y="201.10" font-size="12.2" text-anchor="start" fill="#000" font-weight="bold">g</text>
<text x="275.5" y="206" font-size="8.2" text-anchor="middle" fill="#000">CD45.2<tspan font-size="4.8" dy="-2.6">+</tspan><tspan dy="2.6">HEL</tspan><tspan font-size="4.8" dy="-2.6">+</tspan></text>
<g shape-rendering="crispEdges" stroke-width="1.0" fill="none">
<path stroke="rgb(98, 100, 255)" d="M292 233.5h1M293 233.5h1M304 233.5h1M309 233.5h1M314 233.5h1M280 234.5h1M288 234.5h1M306 234.5h1M309 234.5h1M309 235.5h1M271 236.5h1M286 237.5h1M320 237.5h1M269 238.5h1M282 238.5h1M285 238.5h1M312 238.5h1M313 238.5h1M282 239.5h1M310 239.5h1M312 239.5h1M274 240.5h1M312 240.5h1M279 241.5h1M282 241.5h1M310 241.5h1M312 241.5h1M273 243.5h1M276 243.5h1M277 243.5h1M280 243.5h1M311 243.5h1M317 243.5h1M272 244.5h1M279 244.5h1M280 244.5h1M311 244.5h1M316 244.5h1M320 244.5h1M276 245.5h1M279 245.5h1M311 245.5h1M316 245.5h1M268 246.5h1M276 246.5h1M277 246.5h1M310 246.5h1M316 246.5h1M318 246.5h1M272 248.5h1M277 249.5h1M311 249.5h1M268 250.5h1M269 250.5h1M272 250.5h1M266 251.5h1M275 251.5h1M276 251.5h1M307 251.5h1M312 251.5h1M314 251.5h1M318 251.5h1M313 252.5h1M266 253.5h1M270 253.5h1M272 253.5h1M277 253.5h1M307 253.5h1M309 253.5h1M267 254.5h1M269 254.5h1M271 254.5h1M313 254.5h1M266 255.5h1M276 255.5h1M308 255.5h1M270 256.5h1M273 256.5h1M275 256.5h1M308 256.5h1M316 256.5h1M270 257.5h1M267 258.5h1M274 258.5h1M309 258.5h1M312 258.5h1M314 258.5h1M271 259.5h1M274 259.5h1M311 259.5h1M314 259.5h1M271 260.5h1M310 260.5h1M313 260.5h1M267 261.5h1M269 261.5h1M273 261.5h1M315 261.5h1M267 263.5h1M268 263.5h1M318 263.5h1M319 263.5h1M322 263.5h1M320 264.5h1M266 265.5h1M326 265.5h1M266 266.5h1M267 266.5h1M322 267.5h1M323 270.5h1M324 271.5h1M323 272.5h1M325 272.5h1M324 273.5h1M326 274.5h1M327 277.5h1M323 278.5h1M326 278.5h1M322 279.5h1M323 280.5h1M325 280.5h1M323 281.5h1M322 283.5h1M324 284.5h1M326 284.5h1M322 285.5h1M324 287.5h1M320 289.5h1M321 289.5h1M322 289.5h1M323 289.5h1M317 290.5h1M314 291.5h1M317 291.5h1M302 293.5h1M318 293.5h1M319 293.5h1M320 293.5h1M266 294.5h1M294 294.5h1M302 294.5h1M309 294.5h1M266 295.5h1M267 295.5h1M268 295.5h1M294 295.5h1M305 295.5h1M306 295.5h1M308 295.5h1M314 295.5h1M323 295.5h1M273 296.5h1M298 296.5h1M305 296.5h1M309 296.5h1M311 296.5h1M268 297.5h1M269 297.5h1M271 297.5h1M276 297.5h1M283 297.5h1M284 297.5h1M290 297.5h1M291 297.5h1M270 298.5h1M273 298.5h1M286 298.5h1M288 298.5h1M295 298.5h1M305 298.5h1M271 299.5h1M269 300.5h1M278 300.5h1M280 300.5h1M287 300.5h1M288 300.5h1M306 300.5h1M269 301.5h1M273 301.5h1M274 301.5h1M280 301.5h1M283 301.5h1M287 301.5h1M290 301.5h1M268 302.5h1M270 302.5h1M271 302.5h1M272 302.5h1M278 302.5h1M279 302.5h1M280 302.5h1M283 302.5h1M285 302.5h1M286 302.5h1M287 302.5h1M288 302.5h1M274 303.5h1M275 303.5h1M282 303.5h1M290 303.5h1M269 304.5h1M283 304.5h1M286 304.5h1M288 304.5h1M273 305.5h1M274 305.5h1M275 305.5h1M276 305.5h1M279 305.5h1M282 305.5h1M288 305.5h1M266 306.5h1M267 306.5h1M271 306.5h1M280 306.5h1M287 306.5h1M268 307.5h1M269 307.5h1M271 307.5h1M277 307.5h1M278 307.5h1M285 307.5h1M287 307.5h1M270 308.5h1M271 308.5h1M272 308.5h1M282 308.5h1M285 308.5h1M287 308.5h1M278 309.5h1M279 309.5h1M283 309.5h1M284 309.5h1M287 309.5h1M288 309.5h1M268 310.5h1M277 310.5h1M278 310.5h1M266 311.5h1M267 311.5h1M273 311.5h1M277 311.5h1M278 311.5h1M279 311.5h1M269 312.5h1M282 312.5h1M289 312.5h1M266 313.5h1M270 313.5h1M275 313.5h1M266 314.5h1M269 314.5h1M274 314.5h1M275 314.5h1M279 314.5h1M267 315.5h1M272 315.5h1M276 315.5h1M278 315.5h1M285 315.5h1M269 316.5h1M274 316.5h1M278 316.5h1M280 316.5h1M284 316.5h1M285 316.5h1M286 316.5h1M266 317.5h1M275 317.5h1M281 317.5h1M282 317.5h1M270 318.5h1M271 318.5h1M276 318.5h1M282 318.5h1M287 318.5h1M278 319.5h1M288 319.5h1M274 320.5h1M282 320.5h1M288 320.5h1M268 321.5h1M270 321.5h1M271 321.5h1M276 321.5h1M278 321.5h1M286 321.5h1M270 322.5h1M271 322.5h1M279 322.5h1M280 322.5h1M266 323.5h1M269 323.5h1M270 323.5h1M275 323.5h1M277 323.5h1M278 323.5h1M280 323.5h1M281 323.5h1M282 323.5h1M284 323.5h1"/>
<path stroke="rgb(74, 81, 255)" d="M296 233.5h1M299 233.5h1M300 233.5h1M301 233.5h1M303 233.5h1M294 234.5h1M297 234.5h1M298 234.5h1M301 234.5h1M305 234.5h1M289 235.5h1M293 235.5h1M294 235.5h1M303 235.5h1M306 235.5h1M289 236.5h1M290 236.5h1M291 236.5h1M288 237.5h1M291 237.5h1M292 237.5h1M306 237.5h1M287 238.5h1M289 238.5h1M306 238.5h1M289 239.5h1M306 239.5h1M307 239.5h1M308 239.5h1M285 240.5h1M286 240.5h1M284 242.5h1M285 242.5h1M308 242.5h1M283 243.5h1M309 243.5h1M308 244.5h1M282 245.5h1M308 245.5h1M308 246.5h1M308 247.5h1M281 248.5h1M309 248.5h1M279 249.5h1M307 249.5h1M309 249.5h1M280 250.5h1M306 250.5h1M307 250.5h1M279 251.5h1M280 251.5h1M306 251.5h1M307 252.5h1M278 253.5h1M279 253.5h1M306 253.5h1M279 254.5h1M307 254.5h1M278 255.5h1M307 255.5h1M278 256.5h1M304 256.5h1M276 257.5h1M278 257.5h1M304 257.5h1M277 258.5h1M304 258.5h1M305 258.5h1M306 258.5h1M276 259.5h1M278 259.5h1M306 259.5h1M278 260.5h1M305 260.5h1M312 260.5h1M275 261.5h1M278 261.5h1M306 261.5h1M268 262.5h1M273 262.5h1M274 262.5h1M275 262.5h1M306 262.5h1M309 262.5h1M310 262.5h1M312 262.5h1M270 263.5h1M271 263.5h1M274 263.5h1M275 263.5h1M308 263.5h1M314 263.5h1M267 264.5h1M271 264.5h1M273 264.5h1M269 265.5h1M271 265.5h1M319 265.5h1M320 265.5h1M270 266.5h1M318 266.5h1M319 266.5h1M320 266.5h1M267 267.5h1M319 267.5h1M321 269.5h1M321 270.5h1M321 271.5h1M322 271.5h1M323 271.5h1M323 273.5h1M322 274.5h1M321 275.5h1M322 275.5h1M320 276.5h1M321 276.5h1M321 277.5h1M320 278.5h1M320 279.5h1M321 279.5h1M323 279.5h1M318 280.5h1M319 280.5h1M320 280.5h1M320 281.5h1M321 281.5h1M320 283.5h1M317 284.5h1M319 284.5h1M320 284.5h1M319 285.5h1M316 286.5h1M319 286.5h1M317 287.5h1M318 287.5h1M266 288.5h1M312 288.5h1M313 288.5h1M314 288.5h1M266 289.5h1M311 289.5h1M315 289.5h1M316 289.5h1M308 290.5h1M312 290.5h1M313 290.5h1M314 290.5h1M315 290.5h1M316 290.5h1M266 291.5h1M268 291.5h1M294 291.5h1M295 291.5h1M297 291.5h1M302 291.5h1M303 291.5h1M307 291.5h1M310 291.5h1M312 291.5h1M313 291.5h1M266 292.5h1M269 292.5h1M271 292.5h1M273 292.5h1M288 292.5h1M293 292.5h1M295 292.5h1M297 292.5h1M299 292.5h1M300 292.5h1M306 292.5h1M308 292.5h1M309 292.5h1M267 293.5h1M273 293.5h1M276 293.5h1M278 293.5h1M280 293.5h1M283 293.5h1M286 293.5h1M287 293.5h1M289 293.5h1M295 293.5h1M297 293.5h1M299 293.5h1M300 293.5h1M306 293.5h1M307 293.5h1M309 293.5h1M269 294.5h1M274 294.5h1M278 294.5h1M279 294.5h1M281 294.5h1M285 294.5h1M289 294.5h1M297 294.5h1M299 294.5h1M308 294.5h1M270 295.5h1M273 295.5h1M277 295.5h1M279 295.5h1M280 295.5h1M284 295.5h1M287 295.5h1M288 295.5h1M277 296.5h1M279 296.5h1M280 296.5h1M281 296.5h1M287 296.5h1M277 297.5h1M275 298.5h1M277 298.5h1M275 299.5h1M277 299.5h1M279 299.5h1M276 300.5h1M276 308.5h1M276 309.5h1M276 310.5h1"/>
<path stroke="rgb(56, 79, 255)" d="M295 234.5h1M296 234.5h1M295 235.5h1M300 235.5h1M302 235.5h1M294 236.5h1M302 236.5h1M304 236.5h1M290 237.5h1M303 237.5h1M291 238.5h1M292 238.5h1M304 238.5h1M304 239.5h1M288 240.5h1M290 240.5h1M306 240.5h1M286 241.5h1M287 241.5h1M289 241.5h1M306 241.5h1M287 242.5h1M306 242.5h1M286 243.5h1M307 243.5h1M284 244.5h1M285 244.5h1M307 244.5h1M284 245.5h1M306 245.5h1M307 245.5h1M283 246.5h1M306 246.5h1M307 246.5h1M282 247.5h1M283 247.5h1M284 247.5h1M304 247.5h1M305 247.5h1M307 247.5h1M282 248.5h1M305 248.5h1M281 249.5h1M282 249.5h1M304 250.5h1M281 251.5h1M280 252.5h1M282 252.5h1M303 252.5h1M304 252.5h1M280 253.5h1M280 254.5h1M281 254.5h1M303 254.5h1M304 254.5h1M279 255.5h1M280 255.5h1M303 255.5h1M304 255.5h1M303 256.5h1M281 257.5h1M302 257.5h1M303 257.5h1M301 258.5h1M277 259.5h1M279 259.5h1M281 259.5h1M299 259.5h1M300 259.5h1M302 259.5h1M303 259.5h1M304 259.5h1M277 260.5h1M279 260.5h1M280 260.5h1M299 260.5h1M302 260.5h1M304 260.5h1M276 261.5h1M277 261.5h1M280 261.5h1M281 261.5h1M301 261.5h1M303 261.5h1M304 261.5h1M278 262.5h1M280 262.5h1M302 262.5h1M303 262.5h1M305 262.5h1M311 262.5h1M276 263.5h1M277 263.5h1M278 263.5h1M279 263.5h1M306 263.5h1M309 263.5h1M311 263.5h1M312 263.5h1M313 263.5h1M274 264.5h1M277 264.5h1M307 264.5h1M310 264.5h1M311 264.5h1M314 264.5h1M315 264.5h1M316 264.5h1M272 265.5h1M276 265.5h1M277 265.5h1M314 265.5h1M315 265.5h1M271 266.5h1M272 266.5h1M273 266.5h1M277 266.5h1M316 266.5h1M317 266.5h1M270 267.5h1M271 267.5h1M316 267.5h1M317 267.5h1M268 268.5h1M271 268.5h1M317 268.5h1M318 268.5h1M267 269.5h1M316 269.5h1M317 269.5h1M266 270.5h1M267 270.5h1M319 270.5h1M266 271.5h1M317 271.5h1M318 271.5h1M266 272.5h1M318 273.5h1M319 273.5h1M318 274.5h1M319 274.5h1M320 275.5h1M318 276.5h1M316 277.5h1M318 277.5h1M317 278.5h1M318 278.5h1M319 278.5h1M317 281.5h1M318 281.5h1M266 282.5h1M317 283.5h1M318 283.5h1M316 284.5h1M318 284.5h1M315 285.5h1M316 285.5h1M267 286.5h1M310 286.5h1M313 286.5h1M314 286.5h1M315 286.5h1M317 286.5h1M318 286.5h1M266 287.5h1M315 287.5h1M293 288.5h1M295 288.5h1M296 288.5h1M298 288.5h1M309 288.5h1M267 289.5h1M290 289.5h1M291 289.5h1M292 289.5h1M296 289.5h1M298 289.5h1M299 289.5h1M300 289.5h1M301 289.5h1M307 289.5h1M308 289.5h1M309 289.5h1M310 289.5h1M266 290.5h1M267 290.5h1M271 290.5h1M277 290.5h1M285 290.5h1M289 290.5h1M290 290.5h1M291 290.5h1M292 290.5h1M294 290.5h1M295 290.5h1M303 290.5h1M304 290.5h1M305 290.5h1M307 290.5h1M309 290.5h1M269 291.5h1M275 291.5h1M281 291.5h1M285 291.5h1M286 291.5h1M287 291.5h1M288 291.5h1M289 291.5h1M292 291.5h1M296 291.5h1M298 291.5h1M268 292.5h1M270 292.5h1M272 292.5h1M274 292.5h1M275 292.5h1M277 292.5h1M278 292.5h1M279 292.5h1M280 292.5h1M282 292.5h1M285 292.5h1M277 293.5h1M279 293.5h1M281 293.5h1"/>
<path stroke="rgb(46, 103, 255)" d="M296 235.5h1M297 235.5h1M299 235.5h1M295 236.5h1M297 236.5h1M299 236.5h1M300 236.5h1M294 237.5h1M295 237.5h1M296 237.5h1M297 237.5h1M298 237.5h1M300 237.5h1M301 237.5h1M302 237.5h1M293 238.5h1M294 238.5h1M295 238.5h1M298 238.5h1M303 238.5h1M291 239.5h1M292 239.5h1M293 239.5h1M303 239.5h1M291 240.5h1M303 240.5h1M304 240.5h1M305 240.5h1M288 241.5h1M290 241.5h1M305 241.5h1M288 242.5h1M304 242.5h1M305 242.5h1M288 243.5h1M304 243.5h1M305 243.5h1M286 244.5h1M303 244.5h1M305 244.5h1M285 245.5h1M286 245.5h1M304 245.5h1M303 246.5h1M304 246.5h1M305 246.5h1M285 247.5h1M302 247.5h1M303 247.5h1M283 248.5h1M284 248.5h1M303 248.5h1M304 248.5h1M283 249.5h1M282 250.5h1M283 250.5h1M303 250.5h1M283 251.5h1M282 253.5h1M301 253.5h1M282 254.5h1M283 254.5h1M300 254.5h1M302 254.5h1M281 255.5h1M301 255.5h1M302 255.5h1M280 256.5h1M282 256.5h1M300 256.5h1M301 256.5h1M280 257.5h1M282 257.5h1M300 257.5h1M301 257.5h1M281 258.5h1M299 258.5h1M300 258.5h1M280 259.5h1M296 259.5h1M297 259.5h1M298 259.5h1M295 260.5h1M298 260.5h1M300 260.5h1M279 261.5h1M293 261.5h1M299 261.5h1M300 261.5h1M281 262.5h1M283 262.5h1M295 262.5h1M296 262.5h1M297 262.5h1M298 262.5h1M299 262.5h1M280 263.5h1M281 263.5h1M294 263.5h1M298 263.5h1M301 263.5h1M302 263.5h1M303 263.5h1M304 263.5h1M305 263.5h1M276 264.5h1M279 264.5h1M280 264.5h1M281 264.5h1M296 264.5h1M297 264.5h1M299 264.5h1M302 264.5h1M303 264.5h1M305 264.5h1M306 264.5h1M312 264.5h1M313 264.5h1M275 265.5h1M278 265.5h1M279 265.5h1M282 265.5h1M293 265.5h1M302 265.5h1M306 265.5h1M308 265.5h1M310 265.5h1M311 265.5h1M313 265.5h1M275 266.5h1M280 266.5h1M308 266.5h1M311 266.5h1M313 266.5h1M314 266.5h1M315 266.5h1M273 267.5h1M276 267.5h1M279 267.5h1M313 267.5h1M314 267.5h1M315 267.5h1M272 268.5h1M270 269.5h1M271 269.5h1M315 269.5h1M268 270.5h1M269 270.5h1M317 270.5h1M267 271.5h1M269 271.5h1M316 271.5h1M267 272.5h1M315 272.5h1M316 272.5h1M317 272.5h1M318 272.5h1M266 273.5h1M316 273.5h1M317 273.5h1M266 274.5h1M316 274.5h1M317 274.5h1M266 275.5h1M315 275.5h1M316 275.5h1M318 275.5h1M266 276.5h1M316 276.5h1M317 276.5h1M266 277.5h1M317 277.5h1M315 278.5h1M317 279.5h1M315 280.5h1M266 281.5h1M267 282.5h1M315 282.5h1M316 282.5h1M266 283.5h1M316 283.5h1M266 284.5h1M314 284.5h1M266 285.5h1M267 285.5h1M314 285.5h1M294 286.5h1M295 286.5h1M297 286.5h1M299 286.5h1M307 286.5h1M309 286.5h1M311 286.5h1M267 287.5h1M268 287.5h1M293 287.5h1M295 287.5h1M298 287.5h1M307 287.5h1M308 287.5h1M310 287.5h1M267 288.5h1M270 288.5h1M287 288.5h1M288 288.5h1M290 288.5h1M291 288.5h1M292 288.5h1M294 288.5h1M297 288.5h1M300 288.5h1M302 288.5h1M306 288.5h1M307 288.5h1M269 289.5h1M270 289.5h1M271 289.5h1M274 289.5h1M283 289.5h1M284 289.5h1M286 289.5h1M287 289.5h1M293 289.5h1M294 289.5h1M295 289.5h1M302 289.5h1M304 289.5h1M306 289.5h1M268 290.5h1M270 290.5h1M272 290.5h1M273 290.5h1M274 290.5h1M275 290.5h1M278 290.5h1M280 290.5h1M281 290.5h1M284 290.5h1M270 291.5h1M271 291.5h1M272 291.5h1M273 291.5h1M274 291.5h1M279 291.5h1M280 291.5h1M283 291.5h1M284 291.5h1"/>
<path stroke="rgb(34, 132, 252)" d="M299 237.5h1M296 238.5h1M297 238.5h1M300 238.5h1M301 238.5h1M302 238.5h1M294 239.5h1M295 239.5h1M301 239.5h1M302 239.5h1M293 240.5h1M295 240.5h1M302 240.5h1M292 241.5h1M301 241.5h1M303 241.5h1M304 241.5h1M289 242.5h1M290 242.5h1M289 243.5h1M290 243.5h1M303 243.5h1M287 244.5h1M301 244.5h1M304 244.5h1M287 245.5h1M288 245.5h1M303 245.5h1M285 246.5h1M300 246.5h1M302 246.5h1M301 248.5h1M302 248.5h1M284 249.5h1M302 249.5h1M284 250.5h1M300 250.5h1M301 250.5h1M302 250.5h1M284 251.5h1M301 251.5h1M302 251.5h1M283 252.5h1M284 252.5h1M285 252.5h1M301 252.5h1M302 252.5h1M283 253.5h1M284 253.5h1M284 254.5h1M286 254.5h1M283 255.5h1M284 255.5h1M285 255.5h1M300 255.5h1M283 256.5h1M299 256.5h1M283 257.5h1M296 257.5h1M297 257.5h1M298 257.5h1M282 258.5h1M283 258.5h1M296 258.5h1M297 258.5h1M298 258.5h1M282 259.5h1M284 259.5h1M282 260.5h1M283 260.5h1M284 260.5h1M291 260.5h1M293 260.5h1M296 260.5h1M297 260.5h1M284 261.5h1M285 261.5h1M294 261.5h1M296 261.5h1M298 261.5h1M282 262.5h1M287 262.5h1M288 262.5h1M289 262.5h1M290 262.5h1M292 262.5h1M293 262.5h1M294 262.5h1M282 263.5h1M287 263.5h1M288 263.5h1M289 263.5h1M293 263.5h1M297 263.5h1M299 263.5h1M283 264.5h1M286 264.5h1M287 264.5h1M289 264.5h1M292 264.5h1M294 264.5h1M298 264.5h1M301 264.5h1M304 264.5h1M281 265.5h1M283 265.5h1M285 265.5h1M286 265.5h1M289 265.5h1M292 265.5h1M296 265.5h1M297 265.5h1M298 265.5h1M299 265.5h1M300 265.5h1M301 265.5h1M303 265.5h1M304 265.5h1M278 266.5h1M279 266.5h1M282 266.5h1M283 266.5h1M286 266.5h1M287 266.5h1M291 266.5h1M293 266.5h1M295 266.5h1M296 266.5h1M298 266.5h1M303 266.5h1M305 266.5h1M306 266.5h1M307 266.5h1M310 266.5h1M274 267.5h1M275 267.5h1M277 267.5h1M280 267.5h1M293 267.5h1M294 267.5h1M295 267.5h1M308 267.5h1M310 267.5h1M311 267.5h1M312 267.5h1M276 268.5h1M283 268.5h1M287 268.5h1M293 268.5h1M309 268.5h1M310 268.5h1M312 268.5h1M313 268.5h1M314 268.5h1M315 268.5h1M272 269.5h1M273 269.5h1M313 269.5h1M314 269.5h1M270 270.5h1M271 270.5h1M272 270.5h1M311 270.5h1M313 270.5h1M314 270.5h1M315 270.5h1M268 271.5h1M314 271.5h1M315 271.5h1M269 272.5h1M270 272.5h1M315 273.5h1M267 274.5h1M315 274.5h1M314 276.5h1M315 276.5h1M314 277.5h1M315 277.5h1M266 278.5h1M314 278.5h1M316 278.5h1M266 279.5h1M314 279.5h1M315 279.5h1M316 279.5h1M266 280.5h1M314 280.5h1M267 281.5h1M313 281.5h1M314 281.5h1M315 281.5h1M312 282.5h1M313 282.5h1M314 282.5h1M267 283.5h1M312 283.5h1M267 284.5h1M268 284.5h1M290 284.5h1M291 284.5h1M310 284.5h1M311 284.5h1M313 284.5h1M268 285.5h1M291 285.5h1M292 285.5h1M296 285.5h1M297 285.5h1M301 285.5h1M304 285.5h1M309 285.5h1M311 285.5h1M313 285.5h1M268 286.5h1M269 286.5h1M270 286.5h1M292 286.5h1M293 286.5h1M296 286.5h1M298 286.5h1M303 286.5h1M305 286.5h1M306 286.5h1M308 286.5h1M269 287.5h1M274 287.5h1M287 287.5h1M289 287.5h1M291 287.5h1M292 287.5h1M294 287.5h1M297 287.5h1M299 287.5h1M300 287.5h1M301 287.5h1M305 287.5h1M268 288.5h1M269 288.5h1M271 288.5h1M273 288.5h1M283 288.5h1M284 288.5h1M285 288.5h1M301 288.5h1M303 288.5h1M305 288.5h1M275 289.5h1M276 289.5h1M280 289.5h1M282 289.5h1M285 289.5h1M282 290.5h1M283 290.5h1"/>
<path stroke="rgb(15, 175, 242)" d="M296 239.5h1M298 239.5h1M300 239.5h1M297 240.5h1M300 240.5h1M301 240.5h1M291 241.5h1M294 241.5h1M297 241.5h1M299 241.5h1M302 241.5h1M291 242.5h1M292 242.5h1M301 242.5h1M302 242.5h1M303 242.5h1M291 243.5h1M292 243.5h1M300 243.5h1M301 243.5h1M302 243.5h1M288 244.5h1M289 244.5h1M290 244.5h1M302 244.5h1M289 245.5h1M299 245.5h1M301 245.5h1M302 245.5h1M286 246.5h1M287 247.5h1M300 247.5h1M301 247.5h1M286 248.5h1M287 248.5h1M298 248.5h1M299 248.5h1M300 248.5h1M285 249.5h1M286 249.5h1M301 249.5h1M285 250.5h1M300 251.5h1M286 252.5h1M300 252.5h1M286 253.5h1M300 253.5h1M287 254.5h1M299 254.5h1M286 255.5h1M299 255.5h1M284 256.5h1M285 256.5h1M286 256.5h1M297 256.5h1M298 256.5h1M284 258.5h1M286 258.5h1M292 258.5h1M283 259.5h1M287 259.5h1M290 259.5h1M292 259.5h1M293 259.5h1M294 259.5h1M285 260.5h1M288 260.5h1M289 260.5h1M290 260.5h1M294 260.5h1M283 261.5h1M286 261.5h1M287 261.5h1M288 261.5h1M290 261.5h1M284 262.5h1M285 262.5h1M291 262.5h1M283 263.5h1M284 263.5h1M286 263.5h1M290 263.5h1M292 263.5h1M295 263.5h1M284 264.5h1M285 264.5h1M288 264.5h1M290 264.5h1M291 264.5h1M293 264.5h1M284 265.5h1M287 265.5h1M288 265.5h1M290 265.5h1M291 265.5h1M294 265.5h1M295 265.5h1M281 266.5h1M284 266.5h1M288 266.5h1M289 266.5h1M290 266.5h1M292 266.5h1M294 266.5h1M299 266.5h1M300 266.5h1M278 267.5h1M281 267.5h1M284 267.5h1M285 267.5h1M287 267.5h1M289 267.5h1M291 267.5h1M292 267.5h1M296 267.5h1M298 267.5h1M301 267.5h1M304 267.5h1M306 267.5h1M307 267.5h1M309 267.5h1M273 268.5h1M274 268.5h1M275 268.5h1M277 268.5h1M278 268.5h1M279 268.5h1M281 268.5h1M288 268.5h1M290 268.5h1M291 268.5h1M296 268.5h1M311 268.5h1M274 269.5h1M282 269.5h1M283 269.5h1M287 269.5h1M292 269.5h1M311 269.5h1M312 269.5h1M276 270.5h1M284 270.5h1M285 270.5h1M286 270.5h1M287 270.5h1M288 270.5h1M291 270.5h1M312 270.5h1M270 271.5h1M271 271.5h1M290 271.5h1M268 272.5h1M267 273.5h1M268 273.5h1M269 273.5h1M313 273.5h1M314 273.5h1M268 274.5h1M313 274.5h1M314 274.5h1M267 275.5h1M267 277.5h1M267 278.5h1M267 279.5h1M312 280.5h1M313 280.5h1M311 281.5h1M312 281.5h1M268 282.5h1M269 282.5h1M290 282.5h1M292 282.5h1M293 282.5h1M268 283.5h1M288 283.5h1M291 283.5h1M293 283.5h1M311 283.5h1M313 283.5h1M269 284.5h1M270 284.5h1M288 284.5h1M289 284.5h1M292 284.5h1M293 284.5h1M294 284.5h1M295 284.5h1M298 284.5h1M299 284.5h1M301 284.5h1M307 284.5h1M312 284.5h1M270 285.5h1M285 285.5h1M286 285.5h1M288 285.5h1M289 285.5h1M290 285.5h1M293 285.5h1M295 285.5h1M299 285.5h1M302 285.5h1M307 285.5h1M308 285.5h1M310 285.5h1M285 286.5h1M287 286.5h1M288 286.5h1M289 286.5h1M290 286.5h1M291 286.5h1M300 286.5h1M301 286.5h1M302 286.5h1M304 286.5h1M270 287.5h1M271 287.5h1M273 287.5h1M275 287.5h1M281 287.5h1M285 287.5h1M286 287.5h1M290 287.5h1M302 287.5h1M303 287.5h1M304 287.5h1M272 288.5h1M274 288.5h1M275 288.5h1M276 288.5h1M277 288.5h1M278 288.5h1M279 288.5h1M281 288.5h1M282 288.5h1M277 289.5h1M278 289.5h1M279 289.5h1M281 289.5h1"/>
<path stroke="rgb(3, 211, 221)" d="M297 239.5h1M299 239.5h1M294 240.5h1M299 240.5h1M293 241.5h1M298 241.5h1M293 242.5h1M297 242.5h1M300 242.5h1M299 243.5h1M291 244.5h1M293 244.5h1M297 244.5h1M299 244.5h1M300 244.5h1M298 245.5h1M287 246.5h1M289 246.5h1M290 246.5h1M298 246.5h1M301 246.5h1M288 248.5h1M297 248.5h1M298 249.5h1M299 249.5h1M300 249.5h1M298 250.5h1M285 251.5h1M286 251.5h1M287 251.5h1M298 251.5h1M287 252.5h1M288 252.5h1M297 252.5h1M299 252.5h1M285 253.5h1M289 253.5h1M298 253.5h1M299 253.5h1M285 254.5h1M288 254.5h1M296 254.5h1M288 255.5h1M289 255.5h1M297 255.5h1M298 255.5h1M287 256.5h1M284 257.5h1M285 257.5h1M286 257.5h1M292 257.5h1M295 257.5h1M285 258.5h1M288 258.5h1M289 258.5h1M291 258.5h1M293 258.5h1M295 258.5h1M285 259.5h1M286 259.5h1M288 259.5h1M289 259.5h1M291 259.5h1M295 259.5h1M286 260.5h1M287 260.5h1M292 260.5h1M289 261.5h1M286 262.5h1M285 263.5h1M291 263.5h1M297 266.5h1M302 266.5h1M304 266.5h1M282 267.5h1M283 267.5h1M288 267.5h1M297 267.5h1M302 267.5h1M303 267.5h1M280 268.5h1M284 268.5h1M285 268.5h1M286 268.5h1M289 268.5h1M298 268.5h1M302 268.5h1M304 268.5h1M305 268.5h1M307 268.5h1M308 268.5h1M275 269.5h1M276 269.5h1M277 269.5h1M278 269.5h1M280 269.5h1M281 269.5h1M284 269.5h1M285 269.5h1M286 269.5h1M288 269.5h1M289 269.5h1M293 269.5h1M294 269.5h1M310 269.5h1M280 270.5h1M282 270.5h1M290 270.5h1M293 270.5h1M309 270.5h1M310 270.5h1M284 271.5h1M287 271.5h1M288 271.5h1M293 271.5h1M294 271.5h1M312 271.5h1M287 272.5h1M288 272.5h1M289 272.5h1M293 272.5h1M310 272.5h1M312 272.5h1M313 272.5h1M270 273.5h1M311 273.5h1M269 274.5h1M272 274.5h1M312 274.5h1M270 275.5h1M313 275.5h1M314 275.5h1M267 276.5h1M311 276.5h1M312 277.5h1M313 277.5h1M268 278.5h1M312 278.5h1M313 278.5h1M312 279.5h1M313 279.5h1M267 280.5h1M289 280.5h1M291 280.5h1M293 280.5h1M270 281.5h1M289 281.5h1M290 281.5h1M292 281.5h1M294 281.5h1M295 281.5h1M310 281.5h1M291 282.5h1M294 282.5h1M295 282.5h1M296 282.5h1M297 282.5h1M305 282.5h1M269 283.5h1M286 283.5h1M289 283.5h1M292 283.5h1M294 283.5h1M296 283.5h1M297 283.5h1M304 283.5h1M305 283.5h1M306 283.5h1M310 283.5h1M296 284.5h1M302 284.5h1M304 284.5h1M305 284.5h1M306 284.5h1M308 284.5h1M309 284.5h1M269 285.5h1M273 285.5h1M274 285.5h1M283 285.5h1M287 285.5h1M298 285.5h1M300 285.5h1M303 285.5h1M305 285.5h1M271 286.5h1M272 286.5h1M273 286.5h1M279 286.5h1M281 286.5h1M282 286.5h1M286 286.5h1M272 287.5h1M277 287.5h1M279 287.5h1M283 287.5h1M280 288.5h1"/>
<path stroke="rgb(20, 217, 151)" d="M298 240.5h1M295 241.5h1M296 241.5h1M300 241.5h1M298 242.5h1M299 242.5h1M293 243.5h1M294 243.5h1M295 243.5h1M296 244.5h1M298 244.5h1M290 245.5h1M291 245.5h1M292 245.5h1M295 245.5h1M296 245.5h1M300 245.5h1M288 246.5h1M291 246.5h1M292 246.5h1M297 246.5h1M299 246.5h1M289 247.5h1M295 247.5h1M296 247.5h1M297 247.5h1M299 247.5h1M293 248.5h1M296 248.5h1M287 249.5h1M286 250.5h1M287 250.5h1M289 250.5h1M291 250.5h1M296 250.5h1M299 250.5h1M289 251.5h1M292 251.5h1M296 251.5h1M297 251.5h1M299 251.5h1M296 252.5h1M298 252.5h1M287 253.5h1M290 253.5h1M291 253.5h1M294 253.5h1M296 253.5h1M290 254.5h1M297 254.5h1M298 254.5h1M287 255.5h1M293 255.5h1M295 255.5h1M288 256.5h1M294 256.5h1M295 256.5h1M296 256.5h1M287 257.5h1M289 257.5h1M290 257.5h1M293 257.5h1M294 257.5h1M287 258.5h1M290 258.5h1M299 267.5h1M300 267.5h1M305 267.5h1M282 268.5h1M294 268.5h1M295 268.5h1M297 268.5h1M306 268.5h1M290 269.5h1M291 269.5h1M296 269.5h1M297 269.5h1M300 269.5h1M304 269.5h1M305 269.5h1M309 269.5h1M273 270.5h1M274 270.5h1M275 270.5h1M277 270.5h1M278 270.5h1M289 270.5h1M294 270.5h1M308 270.5h1M272 271.5h1M273 271.5h1M285 271.5h1M289 271.5h1M291 271.5h1M295 271.5h1M296 271.5h1M305 271.5h1M308 271.5h1M310 271.5h1M311 271.5h1M271 272.5h1M274 272.5h1M276 272.5h1M277 272.5h1M286 272.5h1M294 272.5h1M311 272.5h1M273 273.5h1M286 273.5h1M290 273.5h1M291 273.5h1M309 273.5h1M310 273.5h1M312 273.5h1M271 274.5h1M290 274.5h1M291 274.5h1M268 275.5h1M269 275.5h1M271 275.5h1M287 275.5h1M289 275.5h1M311 275.5h1M312 275.5h1M268 276.5h1M269 276.5h1M271 276.5h1M292 276.5h1M293 276.5h1M294 276.5h1M310 276.5h1M312 276.5h1M313 276.5h1M268 277.5h1M270 277.5h1M289 277.5h1M293 277.5h1M269 278.5h1M270 278.5h1M309 278.5h1M268 279.5h1M269 279.5h1M288 279.5h1M290 279.5h1M292 279.5h1M268 280.5h1M290 280.5h1M292 280.5h1M307 280.5h1M310 280.5h1M268 281.5h1M269 281.5h1M288 281.5h1M293 281.5h1M296 281.5h1M304 281.5h1M270 282.5h1M271 282.5h1M286 282.5h1M287 282.5h1M288 282.5h1M298 282.5h1M302 282.5h1M306 282.5h1M311 282.5h1M270 283.5h1M290 283.5h1M295 283.5h1M299 283.5h1M301 283.5h1M303 283.5h1M307 283.5h1M308 283.5h1M309 283.5h1M271 284.5h1M272 284.5h1M283 284.5h1M285 284.5h1M287 284.5h1M297 284.5h1M300 284.5h1M303 284.5h1M271 285.5h1M272 285.5h1M275 285.5h1M280 285.5h1M284 285.5h1M284 286.5h1M276 287.5h1M278 287.5h1M280 287.5h1M282 287.5h1"/>
<path stroke="rgb(36, 223, 82)" d="M294 242.5h1M295 242.5h1M296 242.5h1M296 243.5h1M298 243.5h1M292 244.5h1M295 244.5h1M297 245.5h1M294 246.5h1M296 246.5h1M288 247.5h1M291 247.5h1M293 247.5h1M298 247.5h1M289 248.5h1M290 248.5h1M294 248.5h1M288 249.5h1M289 249.5h1M296 249.5h1M290 250.5h1M294 250.5h1M297 250.5h1M291 251.5h1M295 251.5h1M289 252.5h1M291 252.5h1M293 252.5h1M295 252.5h1M288 253.5h1M297 253.5h1M292 254.5h1M293 254.5h1M290 255.5h1M294 255.5h1M296 255.5h1M289 256.5h1M290 256.5h1M291 256.5h1M293 256.5h1M288 257.5h1M291 257.5h1M299 268.5h1M301 268.5h1M303 268.5h1M295 269.5h1M299 269.5h1M303 269.5h1M306 269.5h1M307 269.5h1M308 269.5h1M281 270.5h1M283 270.5h1M292 270.5h1M295 270.5h1M299 270.5h1M306 270.5h1M307 270.5h1M274 271.5h1M275 271.5h1M276 271.5h1M277 271.5h1M280 271.5h1M281 271.5h1M286 271.5h1M292 271.5h1M297 271.5h1M303 271.5h1M309 271.5h1M272 272.5h1M273 272.5h1M281 272.5h1M285 272.5h1M290 272.5h1M291 272.5h1M295 272.5h1M309 272.5h1M271 273.5h1M272 273.5h1M277 273.5h1M287 273.5h1M289 273.5h1M292 273.5h1M293 273.5h1M296 273.5h1M270 274.5h1M273 274.5h1M284 274.5h1M288 274.5h1M292 274.5h1M293 274.5h1M309 274.5h1M311 274.5h1M285 275.5h1M286 275.5h1M292 275.5h1M293 275.5h1M270 276.5h1M288 276.5h1M297 276.5h1M309 276.5h1M269 277.5h1M292 277.5h1M294 277.5h1M295 277.5h1M311 277.5h1M288 278.5h1M289 278.5h1M291 278.5h1M292 278.5h1M294 278.5h1M308 278.5h1M310 278.5h1M270 279.5h1M285 279.5h1M287 279.5h1M293 279.5h1M294 279.5h1M300 279.5h1M311 279.5h1M269 280.5h1M270 280.5h1M272 280.5h1M295 280.5h1M296 280.5h1M300 280.5h1M302 280.5h1M311 280.5h1M272 281.5h1M286 281.5h1M287 281.5h1M291 281.5h1M301 281.5h1M306 281.5h1M307 281.5h1M309 281.5h1M289 282.5h1M300 282.5h1M308 282.5h1M310 282.5h1M274 283.5h1M284 283.5h1M287 283.5h1M298 283.5h1M300 283.5h1M302 283.5h1M274 284.5h1M277 284.5h1M284 284.5h1M286 284.5h1M276 285.5h1M279 285.5h1M282 285.5h1M274 286.5h1M275 286.5h1M276 286.5h1M277 286.5h1M278 286.5h1M283 286.5h1"/>
<path stroke="rgb(92, 228, 47)" d="M297 243.5h1M294 244.5h1M293 245.5h1M293 246.5h1M295 246.5h1M290 247.5h1M292 247.5h1M294 247.5h1M291 248.5h1M290 249.5h1M291 249.5h1M293 249.5h1M297 249.5h1M288 250.5h1M293 250.5h1M288 251.5h1M290 251.5h1M293 251.5h1M290 252.5h1M292 253.5h1M295 253.5h1M289 254.5h1M291 254.5h1M295 254.5h1M291 255.5h1M292 255.5h1M292 256.5h1M300 268.5h1M301 269.5h1M302 269.5h1M279 270.5h1M296 270.5h1M297 270.5h1M278 271.5h1M299 271.5h1M306 271.5h1M275 272.5h1M279 272.5h1M283 272.5h1M298 272.5h1M299 272.5h1M280 273.5h1M283 273.5h1M288 273.5h1M307 273.5h1M308 273.5h1M278 274.5h1M286 274.5h1M289 274.5h1M294 274.5h1M310 274.5h1M273 275.5h1M274 275.5h1M288 275.5h1M290 275.5h1M291 275.5h1M297 275.5h1M304 275.5h1M310 275.5h1M272 276.5h1M284 276.5h1M289 276.5h1M303 276.5h1M306 276.5h1M307 276.5h1M308 276.5h1M271 277.5h1M272 277.5h1M290 277.5h1M291 277.5h1M299 277.5h1M307 277.5h1M309 277.5h1M310 277.5h1M271 278.5h1M272 278.5h1M290 278.5h1M293 278.5h1M296 278.5h1M299 278.5h1M302 278.5h1M311 278.5h1M289 279.5h1M291 279.5h1M298 279.5h1M302 279.5h1M303 279.5h1M310 279.5h1M294 280.5h1M306 280.5h1M309 280.5h1M283 281.5h1M297 281.5h1M298 281.5h1M299 281.5h1M300 281.5h1M302 281.5h1M303 281.5h1M308 281.5h1M282 282.5h1M299 282.5h1M301 282.5h1M303 282.5h1M304 282.5h1M307 282.5h1M309 282.5h1M271 283.5h1M272 283.5h1M277 283.5h1M281 283.5h1M285 283.5h1M273 284.5h1M278 284.5h1M280 284.5h1M282 284.5h1M280 286.5h1"/>
<path stroke="rgb(155, 232, 19)" d="M294 245.5h1M292 248.5h1M295 248.5h1M292 249.5h1M294 249.5h1M292 250.5h1M295 250.5h1M294 252.5h1M293 253.5h1M294 254.5h1M298 269.5h1M298 270.5h1M301 270.5h1M302 270.5h1M304 270.5h1M305 270.5h1M279 271.5h1M282 271.5h1M283 271.5h1M302 271.5h1M307 271.5h1M282 272.5h1M284 272.5h1M301 272.5h1M304 272.5h1M306 272.5h1M307 272.5h1M308 272.5h1M274 273.5h1M278 273.5h1M285 273.5h1M294 273.5h1M303 273.5h1M276 274.5h1M283 274.5h1M285 274.5h1M287 274.5h1M295 274.5h1M296 274.5h1M297 274.5h1M308 274.5h1M272 275.5h1M283 275.5h1M284 275.5h1M294 275.5h1M300 275.5h1M301 275.5h1M303 275.5h1M309 275.5h1M278 276.5h1M285 276.5h1M286 276.5h1M287 276.5h1M290 276.5h1M291 276.5h1M299 276.5h1M300 276.5h1M301 276.5h1M283 277.5h1M287 277.5h1M288 277.5h1M305 277.5h1M281 278.5h1M282 278.5h1M283 278.5h1M295 278.5h1M297 278.5h1M300 278.5h1M301 278.5h1M307 278.5h1M271 279.5h1M272 279.5h1M284 279.5h1M295 279.5h1M297 279.5h1M306 279.5h1M307 279.5h1M309 279.5h1M271 280.5h1M286 280.5h1M287 280.5h1M288 280.5h1M298 280.5h1M305 280.5h1M308 280.5h1M273 281.5h1M275 281.5h1M279 281.5h1M281 281.5h1M282 281.5h1M285 281.5h1M305 281.5h1M276 282.5h1M285 282.5h1M279 283.5h1M275 284.5h1M279 284.5h1M281 284.5h1M277 285.5h1M278 285.5h1M281 285.5h1"/>
<path stroke="rgb(209, 227, 0)" d="M295 249.5h1M294 251.5h1M292 252.5h1M300 270.5h1M303 270.5h1M298 271.5h1M300 271.5h1M278 272.5h1M280 272.5h1M296 272.5h1M297 272.5h1M275 273.5h1M276 273.5h1M284 273.5h1M295 273.5h1M300 273.5h1M305 273.5h1M306 273.5h1M274 274.5h1M275 274.5h1M279 274.5h1M281 274.5h1M298 274.5h1M299 274.5h1M301 274.5h1M303 274.5h1M307 274.5h1M279 275.5h1M280 275.5h1M295 275.5h1M299 275.5h1M306 275.5h1M308 275.5h1M273 276.5h1M277 276.5h1M279 276.5h1M295 276.5h1M298 276.5h1M273 277.5h1M278 277.5h1M281 277.5h1M286 277.5h1M296 277.5h1M301 277.5h1M308 277.5h1M277 278.5h1M280 278.5h1M284 278.5h1M286 278.5h1M287 278.5h1M306 278.5h1M286 279.5h1M296 279.5h1M301 279.5h1M308 279.5h1M277 280.5h1M297 280.5h1M299 280.5h1M301 280.5h1M303 280.5h1M304 280.5h1M271 281.5h1M276 281.5h1M284 281.5h1M272 282.5h1M279 282.5h1M283 282.5h1M273 283.5h1M276 283.5h1M283 283.5h1M276 284.5h1"/>
<path stroke="rgb(239, 202, 0)" d="M301 271.5h1M304 271.5h1M302 272.5h1M303 272.5h1M305 272.5h1M279 273.5h1M297 273.5h1M298 273.5h1M299 273.5h1M304 273.5h1M277 274.5h1M300 274.5h1M305 274.5h1M306 274.5h1M275 275.5h1M278 275.5h1M296 275.5h1M298 275.5h1M305 275.5h1M307 275.5h1M274 276.5h1M296 276.5h1M302 276.5h1M275 277.5h1M277 277.5h1M279 277.5h1M285 277.5h1M297 277.5h1M298 277.5h1M302 277.5h1M273 278.5h1M278 278.5h1M285 278.5h1M298 278.5h1M304 278.5h1M305 278.5h1M273 279.5h1M276 279.5h1M278 279.5h1M283 279.5h1M299 279.5h1M305 279.5h1M275 280.5h1M284 280.5h1M285 280.5h1M274 281.5h1M275 282.5h1M284 282.5h1M275 283.5h1M280 283.5h1M282 283.5h1"/>
<path stroke="rgb(255, 145, 0)" d="M300 272.5h1M281 273.5h1M282 273.5h1M301 273.5h1M302 273.5h1M280 274.5h1M282 274.5h1M302 274.5h1M304 274.5h1M276 275.5h1M277 275.5h1M281 275.5h1M282 275.5h1M302 275.5h1M275 276.5h1M276 276.5h1M280 276.5h1M281 276.5h1M282 276.5h1M283 276.5h1M304 276.5h1M305 276.5h1M274 277.5h1M276 277.5h1M280 277.5h1M282 277.5h1M284 277.5h1M300 277.5h1M303 277.5h1M304 277.5h1M306 277.5h1M274 278.5h1M275 278.5h1M276 278.5h1M279 278.5h1M303 278.5h1M274 279.5h1M275 279.5h1M277 279.5h1M279 279.5h1M280 279.5h1M281 279.5h1M282 279.5h1M304 279.5h1M273 280.5h1M274 280.5h1M276 280.5h1M278 280.5h1M279 280.5h1M280 280.5h1M281 280.5h1M282 280.5h1M283 280.5h1M277 281.5h1M278 281.5h1M280 281.5h1M273 282.5h1M274 282.5h1M277 282.5h1M278 282.5h1M280 282.5h1M281 282.5h1M278 283.5h1"/>
</g>
<g fill="none" stroke-width="1.7">
<ellipse cx="292.7" cy="250.6" rx="18" ry="11.6" transform="rotate(-58 292.7 250.6)" stroke="#ff0a0a"/>
<ellipse cx="277.1" cy="278.8" rx="16.2" ry="11.7" transform="rotate(-78 277.1 278.8)" stroke="#0a0aff"/>
<ellipse cx="305.6" cy="276.7" rx="16.4" ry="16" stroke="#109030"/>
</g>
<rect x="217.6" y="210" width="116.1" height="115.8" fill="none" stroke="#000" stroke-width="1"/>
<g stroke="#000" stroke-width="0.5">
<path d="M215.3 221.1H217.6"/>
<path d="M215.3 246.9H217.6"/>
<path d="M215.3 273.6H217.6"/>
<path d="M215.3 301.5H217.6"/>
<path d="M216.3 216.1H217.6"/>
<path d="M216.3 214.2H217.6"/>
<path d="M216.3 213.0H217.6"/>
<path d="M216.3 212.1H217.6"/>
<path d="M216.3 211.4H217.6"/>
<path d="M216.3 210.9H217.6"/>
<path d="M216.3 235.3H217.6"/>
<path d="M216.3 230.9H217.6"/>
<path d="M216.3 228.1H217.6"/>
<path d="M216.3 226.0H217.6"/>
<path d="M216.3 224.5H217.6"/>
<path d="M216.3 223.2H217.6"/>
<path d="M216.3 222.1H217.6"/>
<path d="M216.3 261.6H217.6"/>
<path d="M216.3 257.0H217.6"/>
<path d="M216.3 254.1H217.6"/>
<path d="M216.3 252.0H217.6"/>
<path d="M216.3 250.4H217.6"/>
<path d="M216.3 249.0H217.6"/>
<path d="M216.3 248.0H217.6"/>
<path d="M216.3 288.9H217.6"/>
<path d="M216.3 284.2H217.6"/>
<path d="M216.3 281.1H217.6"/>
<path d="M216.3 278.9H217.6"/>
<path d="M216.3 277.2H217.6"/>
<path d="M216.3 275.8H217.6"/>
<path d="M216.3 274.7H217.6"/>
<path d="M216.3 314.9H217.6"/>
<path d="M216.3 310.7H217.6"/>
<path d="M216.3 308.1H217.6"/>
<path d="M216.3 306.1H217.6"/>
<path d="M216.3 304.7H217.6"/>
<path d="M216.3 303.4H217.6"/>
<path d="M216.3 302.5H217.6"/>
<path d="M229.9 325.8V328"/>
<path d="M240.0 325.8V328"/>
<path d="M265.0 325.8V328"/>
<path d="M301.0 325.8V328"/>
<path d="M333.0 325.8V328"/>
<path d="M220.0 325.8V327.2"/>
<path d="M222.5 325.8V327.2"/>
<path d="M224.5 325.8V327.2"/>
<path d="M226.0 325.8V327.2"/>
<path d="M227.3 325.8V327.2"/>
<path d="M228.5 325.8V327.2"/>
<path d="M232.0 325.8V327.2"/>
<path d="M235.0 325.8V327.2"/>
<path d="M243.0 325.8V327.2"/>
<path d="M255.0 325.8V327.2"/>
<path d="M260.0 325.8V327.2"/>
<path d="M285.0 325.8V327.2"/>
<path d="M293.0 325.8V327.2"/>
<path d="M297.0 325.8V327.2"/>
<path d="M318.0 325.8V327.2"/>
<path d="M325.0 325.8V327.2"/>
<path d="M329.0 325.8V327.2"/>
</g>
<text x="272.50" y="228.90" font-size="8" text-anchor="middle" fill="#ff1010" stroke="#ff1010" stroke-width="0.25">Pop. 3</text>
<text x="313.30" y="231.80" font-size="8" text-anchor="middle" fill="#000">19.3</text>
<text x="250.00" y="286.20" font-size="8" text-anchor="middle" fill="#000">40.3</text>
<text x="249.00" y="300.10" font-size="8" text-anchor="middle" fill="#1010ff" stroke="#1010ff" stroke-width="0.25">Pop. 1</text>
<text x="310.70" y="303.90" font-size="8" text-anchor="middle" fill="#000">28.7</text>
<text x="299.00" y="317.90" font-size="8" text-anchor="middle" fill="#10a020" stroke="#10a020" stroke-width="0.25">Pop. 2</text>
<text x="208.6" y="281.4" font-size="8" text-anchor="middle" fill="#000" transform="rotate(-90 208.6 281.4)">CD38</text>
<path d="M205.1 326.8V305" stroke="#000" stroke-width="1.1"/>
<path d="M205.1 295.1L198.8 305.7H211.4Z" fill="#000"/>
<path d="M215 338.5H237" stroke="#000" stroke-width="1.1"/>
<path d="M246.8 338.5L236 332.3V344.7Z" fill="#000"/>
<text x="251.70" y="341.30" font-size="8" text-anchor="start" fill="#000">IC HEL</text>
<path d="M333.7 224.2H405" stroke="#000" stroke-width="2"/>
<path d="M386.6 218L405.5 224.2L386.6 230.6" stroke="#000" stroke-width="2" fill="none"/>
<rect x="372.2" y="210.3" width="115.1" height="115.4" fill="none" stroke="#000" stroke-width="1"/>
<text x="369.30" y="218.60" font-size="7.8" text-anchor="end" fill="#000">100</text>
<path d="M370.2 215.8H372.2" stroke="#000" stroke-width="0.6"/>
<text x="369.30" y="240.40" font-size="7.8" text-anchor="end" fill="#000">80</text>
<path d="M370.2 237.6H372.2" stroke="#000" stroke-width="0.6"/>
<text x="369.30" y="262.30" font-size="7.8" text-anchor="end" fill="#000">60</text>
<path d="M370.2 259.5H372.2" stroke="#000" stroke-width="0.6"/>
<text x="369.30" y="284.20" font-size="7.8" text-anchor="end" fill="#000">40</text>
<path d="M370.2 281.4H372.2" stroke="#000" stroke-width="0.6"/>
<text x="369.30" y="306.10" font-size="7.8" text-anchor="end" fill="#000">20</text>
<path d="M370.2 303.3H372.2" stroke="#000" stroke-width="0.6"/>
<text x="369.30" y="328.00" font-size="7.8" text-anchor="end" fill="#000">0</text>
<path d="M370.2 325.2H372.2" stroke="#000" stroke-width="0.6"/>
<text x="346.5" y="268" font-size="7.8" text-anchor="middle" fill="#000" transform="rotate(-90 346.5 268)">% of Max</text>
<g stroke="#000" stroke-width="0.5">
<path d="M375.0 325.7V327.0"/>
<path d="M378.0 325.7V327.0"/>
<path d="M380.0 325.7V327.0"/>
<path d="M381.5 325.7V327.0"/>
<path d="M383.0 325.7V327.0"/>
<path d="M384.0 325.7V327.0"/>
<path d="M385.0 325.7V327.0"/>
<path d="M386.0 325.7V327.0"/>
<path d="M395.0 325.7V327.0"/>
<path d="M400.0 325.7V327.0"/>
<path d="M403.0 325.7V327.0"/>
<path d="M405.0 325.7V327.0"/>
<path d="M407.0 325.7V327.0"/>
<path d="M408.0 325.7V327.0"/>
<path d="M409.0 325.7V327.0"/>
<path d="M413.0 325.7V327.0"/>
<path d="M418.0 325.7V327.0"/>
<path d="M421.0 325.7V327.0"/>
<path d="M423.0 325.7V327.0"/>
<path d="M425.0 325.7V327.0"/>
<path d="M426.0 325.7V327.0"/>
<path d="M427.0 325.7V327.0"/>
<path d="M440.0 325.7V327.0"/>
<path d="M445.0 325.7V327.0"/>
<path d="M448.0 325.7V327.0"/>
<path d="M450.0 325.7V327.0"/>
<path d="M452.0 325.7V327.0"/>
<path d="M453.0 325.7V327.0"/>
<path d="M454.0 325.7V327.0"/>
<path d="M476.0 325.7V327.0"/>
<path d="M486.0 325.7V327.0"/>
<path d="M376.5 325.7V328.0"/>
<path d="M397.0 325.7V328.0"/>
<path d="M424.0 325.7V328.0"/>
<path d="M451.0 325.7V328.0"/>
</g>
<path d="M375.5 337.3H397" stroke="#000" stroke-width="1.1"/>
<path d="M405.8 337.3L396 331.5V343.1Z" fill="#000"/>
<text x="410.70" y="340.00" font-size="7.8" text-anchor="start" fill="#000">Bcl6</text>
<path d="M373.0 325.1L383.0 325.1L389.0 324.6L393.0 323.5L396.0 324.0L400.0 323.5L405.0 321.8L409.0 316.4L412.0 309.9L414.0 304.5L415.5 301.2L417.0 291.5L418.5 276.3L420.0 257.8L421.3 238.3L422.5 224.2L423.5 216.6L424.4 216.6L425.5 225.3L426.8 240.5L428.3 262.2L429.5 281.7L431.0 301.2L432.5 313.2L434.0 318.6L436.0 321.8L439.0 321.8L442.0 320.8L445.0 319.7L447.0 319.7L449.0 319.1L451.0 320.8L453.0 322.9L456.0 324.2L460.0 325.1L487.0 325.1" fill="none" stroke="#ff0000" stroke-width="1.85" stroke-linejoin="round"/>
<path d="M373.0 325.1L395.0 325.1L405.0 324.6L410.0 322.9L414.0 320.8L417.0 319.7L419.5 317.5L421.5 315.3L423.5 313.2L425.0 312.1L426.5 314.2L428.0 316.4L429.5 317.5L431.0 319.7L432.5 320.8L434.0 319.7L435.5 316.4L437.0 306.7L438.5 290.4L440.0 265.4L441.5 243.7L442.5 229.6L443.5 220.9L444.3 216.6L446.0 216.6L447.0 222.0L448.0 232.9L449.3 251.3L450.5 270.8L452.0 292.5L453.5 308.8L455.0 317.5L457.0 321.8L459.0 324.0L462.0 325.1L487.0 325.1" fill="none" stroke="#0000ff" stroke-width="1.85" stroke-linejoin="round"/>
<path d="M373.0 324.6L385.0 325.1L395.0 324.6L405.0 322.9L410.0 318.6L414.0 313.2L416.0 308.8L418.0 298.0L420.0 276.3L421.5 254.6L423.0 232.9L424.3 217.7L425.3 216.6L426.3 222.0L427.5 238.3L429.0 260.0L430.5 281.7L432.0 301.2L433.5 314.2L435.0 320.8L437.0 323.5L439.0 323.5L441.0 321.8L443.0 319.7L445.0 317.5L447.0 316.4L449.0 315.3L451.0 313.7L452.5 312.1L453.5 311.0L455.0 316.4L456.5 321.8L458.0 323.5L461.0 324.6L466.0 325.1L487.0 325.1" fill="none" stroke="#1c9c1c" stroke-width="1.85" stroke-linejoin="round"/>
<text x="198.00" y="371.60" font-size="12.2" text-anchor="start" fill="#000" font-weight="bold">h</text>
<path d="M231.5 377.7V491H541.3" fill="none" stroke="#000" stroke-width="0.9"/>
<path d="M228.9 385.3H231.5" stroke="#000" stroke-width="0.8"/>
<text x="226.70" y="388.10" font-size="7.6" text-anchor="end" fill="#000">10</text>
<path d="M228.9 418.6H231.5" stroke="#000" stroke-width="0.8"/>
<text x="226.70" y="421.40" font-size="7.6" text-anchor="end" fill="#000">5</text>
<path d="M228.9 452.0H231.5" stroke="#000" stroke-width="0.8"/>
<text x="226.70" y="454.80" font-size="7.6" text-anchor="end" fill="#000">0</text>
<path d="M228.9 485.5H231.5" stroke="#000" stroke-width="0.8"/>
<text x="226.70" y="488.30" font-size="7.6" text-anchor="end" fill="#000">−5</text>
<path d="M324.6 491V493" stroke="#000" stroke-width="0.8"/>
<text x="324.60" y="502.00" font-size="7.6" text-anchor="middle" fill="#000">−10</text>
<path d="M428.4 491V493" stroke="#000" stroke-width="0.8"/>
<text x="428.40" y="502.00" font-size="7.6" text-anchor="middle" fill="#000">0</text>
<path d="M531.5 491V493" stroke="#000" stroke-width="0.8"/>
<text x="531.50" y="502.00" font-size="7.6" text-anchor="middle" fill="#000">10</text>
<text x="386.40" y="514.30" font-size="8.1" text-anchor="middle" fill="#000">Component 1</text>
<text x="209.3" y="434" font-size="8.1" text-anchor="middle" fill="#000" transform="rotate(-90 209.3 434)">Component 2</text>
<text x="323.30" y="382.50" font-size="7.6" text-anchor="middle" fill="#000">Pop 1</text>
<text x="372.00" y="382.50" font-size="7.6" text-anchor="middle" fill="#000">Pop 2</text>
<text x="423.00" y="382.50" font-size="7.6" text-anchor="middle" fill="#000">Pop 3</text>
<circle cx="321" cy="395" r="2.2" fill="#0000ff"/>
<circle cx="372" cy="395.5" r="2.2" fill="#3cb044"/>
<circle cx="421.7" cy="395" r="2.2" fill="#ff0000"/>
<path d="M260.6 449.3C290 449.2 320 450.5 350 454C375 457 405 462 434.8 466.1C450 465.4 465 463.5 478.6 462.1" fill="none" stroke="#000" stroke-width="3.7"/>
<path d="M478.6 462.1Q497 440 514.5 397.8" fill="none" stroke="#000" stroke-width="3.7"/>
<path d="M481.5 463.2L512.8 482" fill="none" stroke="#000" stroke-width="3.7"/>
<circle cx="245.1" cy="450.2" r="2.0" fill="#0000ff"/>
<circle cx="246.4" cy="449.8" r="2.0" fill="#0000ff"/>
<circle cx="247.5" cy="450.5" r="2.0" fill="#0000ff"/>
<circle cx="248.5" cy="449.0" r="2.0" fill="#0000ff"/>
<circle cx="250.1" cy="448.5" r="2.0" fill="#0000ff"/>
<circle cx="251.8" cy="449.5" r="2.0" fill="#0000ff"/>
<circle cx="249.5" cy="451.0" r="2.0" fill="#0000ff"/>
<circle cx="264.1" cy="449.5" r="2.0" fill="#0000ff"/>
<circle cx="268.0" cy="449.0" r="2.0" fill="#0000ff"/>
<circle cx="270.1" cy="448.5" r="2.0" fill="#0000ff"/>
<circle cx="273.5" cy="448.5" r="2.0" fill="#0000ff"/>
<circle cx="276.1" cy="447.8" r="2.0" fill="#0000ff"/>
<circle cx="285.2" cy="447.8" r="2.0" fill="#0000ff"/>
<circle cx="289.5" cy="447.5" r="2.0" fill="#0000ff"/>
<circle cx="290.2" cy="449.5" r="2.0" fill="#0000ff"/>
<circle cx="296.2" cy="448.8" r="2.0" fill="#0000ff"/>
<circle cx="302.9" cy="447.8" r="2.0" fill="#0000ff"/>
<circle cx="307.5" cy="450.2" r="2.0" fill="#0000ff"/>
<circle cx="336.9" cy="445.1" r="2.0" fill="#0000ff"/>
<circle cx="339.2" cy="446.8" r="2.0" fill="#0000ff"/>
<circle cx="351.3" cy="449.5" r="2.0" fill="#0000ff"/>
<circle cx="507.1" cy="391.9" r="2.0" fill="#0000ff"/>
<circle cx="394.5" cy="458.6" r="2.0" fill="#ff0000"/>
<circle cx="406.7" cy="463.8" r="2.0" fill="#ff0000"/>
<circle cx="410.2" cy="465.6" r="2.0" fill="#ff0000"/>
<circle cx="435.8" cy="472.0" r="2.0" fill="#ff0000"/>
<circle cx="440.0" cy="473.1" r="2.0" fill="#ff0000"/>
<circle cx="437.5" cy="473.5" r="2.0" fill="#ff0000"/>
<circle cx="447.4" cy="470.0" r="2.0" fill="#ff0000"/>
<circle cx="450.6" cy="468.2" r="2.0" fill="#ff0000"/>
<circle cx="455.9" cy="467.4" r="2.0" fill="#ff0000"/>
<circle cx="461.1" cy="467.8" r="2.0" fill="#ff0000"/>
<circle cx="466.4" cy="467.4" r="2.0" fill="#ff0000"/>
<circle cx="475.9" cy="466.1" r="2.0" fill="#ff0000"/>
<circle cx="482.2" cy="471.0" r="2.0" fill="#ff0000"/>
<circle cx="483.3" cy="474.2" r="2.0" fill="#ff0000"/>
<circle cx="482.8" cy="472.6" r="2.0" fill="#ff0000"/>
<circle cx="486.5" cy="461.9" r="2.0" fill="#ff0000"/>
<circle cx="490.7" cy="457.3" r="2.0" fill="#ff0000"/>
<circle cx="492.8" cy="454.1" r="2.0" fill="#ff0000"/>
<circle cx="495.5" cy="447.8" r="2.0" fill="#ff0000"/>
<circle cx="501.2" cy="474.2" r="2.0" fill="#ff0000"/>
<circle cx="512.8" cy="483.6" r="2.0" fill="#ff0000"/>
<circle cx="514.0" cy="484.5" r="2.0" fill="#ff0000"/>
<circle cx="516.0" cy="483.0" r="2.0" fill="#ff0000"/>
<circle cx="518.1" cy="481.5" r="2.0" fill="#ff0000"/>
<circle cx="519.5" cy="480.0" r="2.0" fill="#ff0000"/>
<circle cx="511.5" cy="482.0" r="2.0" fill="#ff0000"/>
<circle cx="515.0" cy="485.5" r="2.0" fill="#ff0000"/>
<circle cx="517.5" cy="484.8" r="2.0" fill="#ff0000"/>
<circle cx="520.0" cy="482.5" r="2.0" fill="#ff0000"/>
<circle cx="513.5" cy="481.0" r="2.0" fill="#ff0000"/>
<circle cx="442.0" cy="472.6" r="2.0" fill="#ff0000"/>
<circle cx="488.0" cy="455.5" r="2.0" fill="#ff0000"/>
<circle cx="470.0" cy="465.0" r="2.0" fill="#ff0000"/>
<circle cx="433.5" cy="472.8" r="2.0" fill="#ff0000"/>
<circle cx="510.7" cy="389.8" r="2.0" fill="#3cb044"/>
<circle cx="512.8" cy="390.0" r="2.0" fill="#3cb044"/>
<circle cx="514.9" cy="389.8" r="2.0" fill="#3cb044"/>
<circle cx="517.0" cy="389.6" r="2.0" fill="#3cb044"/>
<circle cx="519.2" cy="389.8" r="2.0" fill="#3cb044"/>
<circle cx="521.3" cy="383.4" r="2.0" fill="#3cb044"/>
<circle cx="522.5" cy="385.0" r="2.0" fill="#3cb044"/>
<circle cx="524.4" cy="384.5" r="2.0" fill="#3cb044"/>
<circle cx="525.2" cy="387.0" r="2.0" fill="#3cb044"/>
<circle cx="527.6" cy="387.7" r="2.0" fill="#3cb044"/>
<circle cx="523.0" cy="388.5" r="2.0" fill="#3cb044"/>
<circle cx="521.0" cy="386.5" r="2.0" fill="#3cb044"/>
<circle cx="519.2" cy="398.2" r="2.0" fill="#3cb044"/>
<circle cx="511.1" cy="415.1" r="2.0" fill="#3cb044"/>
<circle cx="509.0" cy="421.4" r="2.0" fill="#3cb044"/>
<circle cx="504.0" cy="426.1" r="2.0" fill="#3cb044"/>
<circle cx="501.2" cy="434.1" r="2.0" fill="#3cb044"/>
<circle cx="503.3" cy="433.6" r="2.0" fill="#3cb044"/>
<circle cx="493.8" cy="438.3" r="2.0" fill="#3cb044"/>
<circle cx="505.0" cy="425.5" r="2.0" fill="#3cb044"/>
<circle cx="434.8" cy="466.1" r="3.4" fill="#000" stroke="#fff" stroke-width="0.5"/>
<text x="434.80" y="468.20" font-size="5.8" text-anchor="middle" fill="#fff">3</text>
<circle cx="478.6" cy="462.1" r="4.3" fill="#000" stroke="#fff" stroke-width="0.5"/>
<text x="478.60" y="464.20" font-size="5.8" text-anchor="middle" fill="#fff">12</text>
<text x="519.20" y="470.40" font-size="7.6" text-anchor="middle" fill="#000">Root</text>
<text x="198.10" y="539.60" font-size="12.2" text-anchor="start" fill="#000" font-weight="bold">i</text>
<path d="M237.4 542.2V652.4H377.3" fill="none" stroke="#000" stroke-width="1"/>
<path d="M233.4 542.2H237.4" stroke="#000" stroke-width="1"/>
<text x="231.30" y="545.20" font-size="8.4" text-anchor="end" fill="#000">80</text>
<path d="M233.4 569.7H237.4" stroke="#000" stroke-width="1"/>
<text x="231.30" y="572.70" font-size="8.4" text-anchor="end" fill="#000">60</text>
<path d="M233.4 597.3H237.4" stroke="#000" stroke-width="1"/>
<text x="231.30" y="600.30" font-size="8.4" text-anchor="end" fill="#000">40</text>
<path d="M233.4 624.9H237.4" stroke="#000" stroke-width="1"/>
<text x="231.30" y="627.90" font-size="8.4" text-anchor="end" fill="#000">20</text>
<path d="M233.4 652.4H237.4" stroke="#000" stroke-width="1"/>
<text x="231.30" y="655.40" font-size="8.4" text-anchor="end" fill="#000">0</text>
<path d="M272.7 652.4V656" stroke="#000" stroke-width="1"/>
<text x="272.70" y="666.20" font-size="8.2" text-anchor="middle" fill="#000">Day 5</text>
<path d="M342.6 652.4V656" stroke="#000" stroke-width="1"/>
<text x="342.60" y="666.20" font-size="8.2" text-anchor="middle" fill="#000">Day 7</text>
<text x="215.2" y="598.8" font-size="8.1" text-anchor="middle" fill="#000" transform="rotate(-90 215.2 598.8)">% Donor<tspan font-size="5.4" dy="-3">+</tspan><tspan dy="3">HEL</tspan><tspan font-size="5.4" dy="-3">+</tspan></text>
<path d="M272.7 625.5L342.6 613.8" stroke="#ff3a1a" stroke-width="2.3"/>
<path d="M272.7 620.7V630.4M270.4 620.7h4.6M270.4 630.4h4.6" stroke="#ff3a1a" stroke-width="1.2" fill="none"/>
<circle cx="272.7" cy="625.5" r="1.9" fill="#ff3a1a"/>
<path d="M342.6 607.6V620.0M340.3 607.6h4.6M340.3 620.0h4.6" stroke="#ff3a1a" stroke-width="1.2" fill="none"/>
<circle cx="342.6" cy="613.8" r="1.9" fill="#ff3a1a"/>
<path d="M272.7 620.7L342.6 642.8" stroke="#168a16" stroke-width="2.3"/>
<path d="M272.7 618.0V623.5M270.4 618.0h4.6M270.4 623.5h4.6" stroke="#168a16" stroke-width="1.2" fill="none"/>
<circle cx="272.7" cy="620.7" r="1.9" fill="#168a16"/>
<path d="M342.6 639.7V645.8M340.3 639.7h4.6M340.3 645.8h4.6" stroke="#168a16" stroke-width="1.2" fill="none"/>
<circle cx="342.6" cy="642.8" r="1.9" fill="#168a16"/>
<path d="M272.7 612.5L342.6 569.8" stroke="#1e50f0" stroke-width="2.3"/>
<path d="M272.7 606.3V618.7M270.4 606.3h4.6M270.4 618.7h4.6" stroke="#1e50f0" stroke-width="1.2" fill="none"/>
<circle cx="272.7" cy="612.5" r="1.9" fill="#1e50f0"/>
<path d="M342.6 561.1V578.4M340.3 561.1h4.6M340.3 578.4h4.6" stroke="#1e50f0" stroke-width="1.2" fill="none"/>
<circle cx="342.6" cy="569.8" r="1.9" fill="#1e50f0"/>
<path d="M375.5 551.4H388.3" stroke="#1e50f0" stroke-width="2.2"/>
<circle cx="381.8" cy="551.4" r="1.9" fill="#1e50f0"/>
<text x="392.00" y="554.30" font-size="8.1" text-anchor="start" fill="#000">Pop 1</text>
<path d="M375.5 566.4H388.3" stroke="#168a16" stroke-width="2.2"/>
<circle cx="381.8" cy="566.4" r="1.9" fill="#168a16"/>
<text x="392.00" y="569.30" font-size="8.1" text-anchor="start" fill="#000">Pop 2</text>
<path d="M375.5 581.9H388.3" stroke="#ff3a1a" stroke-width="2.2"/>
<circle cx="381.8" cy="581.9" r="1.9" fill="#ff3a1a"/>
<text x="392.00" y="584.80" font-size="8.1" text-anchor="start" fill="#000">Pop 3</text>
</svg></body></html>
